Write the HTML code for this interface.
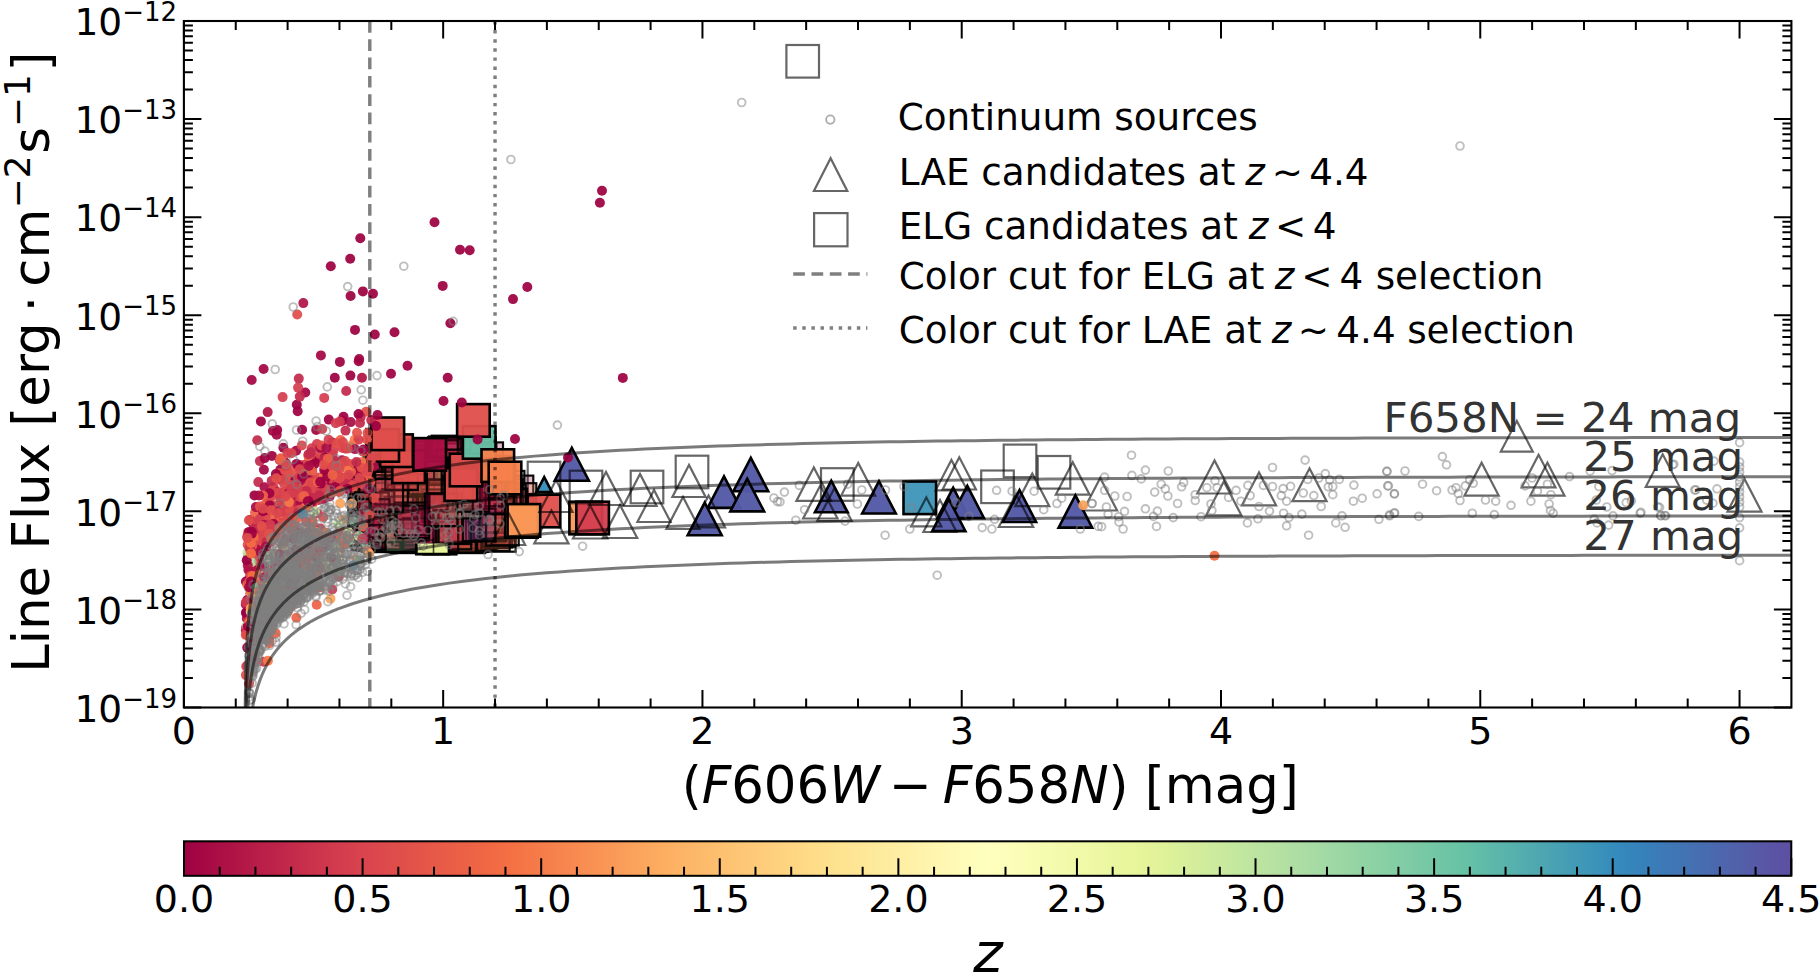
<!DOCTYPE html><html><head><meta charset="utf-8"><title>Line flux vs colour</title>
<style>html,body{margin:0;padding:0;background:#fff;width:1820px;height:974px;overflow:hidden}svg{display:block}</style></head><body>
<svg width="1820" height="974" viewBox="0 0 1820 974" font-family="'DejaVu Sans', 'Liberation Sans', sans-serif">
<defs><clipPath id="axclip"><rect x="183.90" y="21.00" width="1607.50" height="686.50"/></clipPath></defs>
<rect width="1820" height="974" fill="#fff"/>
<g clip-path="url(#axclip)">
<g stroke="#000" stroke-width="2.6" fill-opacity="0.95">
<rect x="416.2" y="521.2" width="32.6" height="32.6" fill="#f4faad"/>
<rect x="423.7" y="521.7" width="32.6" height="32.6" fill="#fdfebb"/>
</g>
<g stroke="#000" stroke-width="2.2" fill-opacity="0.26" stroke-opacity="0.95">
<rect x="423.7" y="484.1" width="32.6" height="32.6" fill="#cd364d"/>
<rect x="439.3" y="517.6" width="32.6" height="32.6" fill="#cd364d"/>
<rect x="432.1" y="474.3" width="32.6" height="32.6" fill="#a90d45"/>
<rect x="503.1" y="493.9" width="32.6" height="32.6" fill="#cd364d"/>
<rect x="401.4" y="504.3" width="32.6" height="32.6" fill="#f88950"/>
<rect x="381.1" y="474.4" width="32.6" height="32.6" fill="#a90d45"/>
<rect x="380.8" y="500.5" width="32.6" height="32.6" fill="#f88950"/>
<rect x="457.1" y="514.9" width="32.6" height="32.6" fill="#df4e4b"/>
<rect x="433.1" y="492.6" width="32.6" height="32.6" fill="#cd364d"/>
<rect x="460.9" y="517.0" width="32.6" height="32.6" fill="#f88950"/>
<rect x="442.5" y="460.3" width="32.6" height="32.6" fill="#9e0142"/>
<rect x="361.7" y="511.7" width="32.6" height="32.6" fill="#a90d45"/>
<rect x="482.8" y="507.8" width="32.6" height="32.6" fill="#df4e4b"/>
<rect x="393.7" y="459.6" width="32.6" height="32.6" fill="#cd364d"/>
<rect x="405.3" y="454.4" width="32.6" height="32.6" fill="#df4e4b"/>
<rect x="448.9" y="483.6" width="32.6" height="32.6" fill="#9e0142"/>
<rect x="405.7" y="511.6" width="32.6" height="32.6" fill="#ecf7a1"/>
<rect x="471.7" y="480.6" width="32.6" height="32.6" fill="#f88950"/>
<rect x="362.0" y="519.0" width="32.6" height="32.6" fill="#f46d43"/>
<rect x="406.7" y="472.2" width="32.6" height="32.6" fill="#a90d45"/>
<rect x="466.6" y="500.4" width="32.6" height="32.6" fill="#df4e4b"/>
<rect x="458.5" y="437.9" width="32.6" height="32.6" fill="#f46d43"/>
<rect x="359.5" y="468.8" width="32.6" height="32.6" fill="#a90d45"/>
<rect x="412.9" y="483.8" width="32.6" height="32.6" fill="#f88950"/>
<rect x="377.7" y="498.2" width="32.6" height="32.6" fill="#fdfebb"/>
<rect x="372.3" y="515.5" width="32.6" height="32.6" fill="#df4e4b"/>
<rect x="432.2" y="495.6" width="32.6" height="32.6" fill="#f46d43"/>
<rect x="452.8" y="503.5" width="32.6" height="32.6" fill="#f46d43"/>
<rect x="399.4" y="514.8" width="32.6" height="32.6" fill="#9e0142"/>
<rect x="381.3" y="493.2" width="32.6" height="32.6" fill="#a90d45"/>
<rect x="497.8" y="497.7" width="32.6" height="32.6" fill="#a90d45"/>
<rect x="448.1" y="493.6" width="32.6" height="32.6" fill="#df4e4b"/>
<rect x="373.4" y="500.9" width="32.6" height="32.6" fill="#df4e4b"/>
<rect x="477.0" y="506.4" width="32.6" height="32.6" fill="#cd364d"/>
<rect x="474.3" y="477.9" width="32.6" height="32.6" fill="#f88950"/>
<rect x="471.2" y="457.5" width="32.6" height="32.6" fill="#a90d45"/>
<rect x="363.7" y="512.1" width="32.6" height="32.6" fill="#cd364d"/>
<rect x="464.2" y="470.0" width="32.6" height="32.6" fill="#f88950"/>
<rect x="381.3" y="465.4" width="32.6" height="32.6" fill="#4ea7b0"/>
<rect x="407.2" y="463.0" width="32.6" height="32.6" fill="#a90d45"/>
<rect x="348.9" y="480.9" width="32.6" height="32.6" fill="#4ea7b0"/>
<rect x="401.3" y="490.2" width="32.6" height="32.6" fill="#a90d45"/>
<rect x="456.9" y="515.9" width="32.6" height="32.6" fill="#df4e4b"/>
<rect x="383.1" y="460.1" width="32.6" height="32.6" fill="#9e0142"/>
<rect x="430.7" y="450.9" width="32.6" height="32.6" fill="#a90d45"/>
<rect x="450.7" y="495.7" width="32.6" height="32.6" fill="#cd364d"/>
<rect x="420.4" y="456.0" width="32.6" height="32.6" fill="#9e0142"/>
<rect x="445.1" y="452.9" width="32.6" height="32.6" fill="#df4e4b"/>
<rect x="420.9" y="470.5" width="32.6" height="32.6" fill="#cd364d"/>
<rect x="410.1" y="458.8" width="32.6" height="32.6" fill="#df4e4b"/>
<rect x="380.8" y="467.4" width="32.6" height="32.6" fill="#df4e4b"/>
<rect x="481.0" y="495.0" width="32.6" height="32.6" fill="#f46d43"/>
<rect x="388.2" y="481.0" width="32.6" height="32.6" fill="#a90d45"/>
<rect x="414.1" y="471.2" width="32.6" height="32.6" fill="#fdfebb"/>
<rect x="477.7" y="471.1" width="32.6" height="32.6" fill="#9e0142"/>
<rect x="408.0" y="504.5" width="32.6" height="32.6" fill="#9e0142"/>
<rect x="363.0" y="480.1" width="32.6" height="32.6" fill="#a90d45"/>
<rect x="375.0" y="519.5" width="32.6" height="32.6" fill="#f46d43"/>
<rect x="397.1" y="505.0" width="32.6" height="32.6" fill="#df4e4b"/>
<rect x="380.2" y="498.8" width="32.6" height="32.6" fill="#f46d43"/>
<rect x="355.5" y="511.6" width="32.6" height="32.6" fill="#9e0142"/>
<rect x="466.8" y="482.5" width="32.6" height="32.6" fill="#df4e4b"/>
<rect x="478.6" y="490.5" width="32.6" height="32.6" fill="#f88950"/>
<rect x="390.9" y="457.4" width="32.6" height="32.6" fill="#f46d43"/>
<rect x="471.2" y="500.6" width="32.6" height="32.6" fill="#a90d45"/>
<rect x="483.3" y="502.0" width="32.6" height="32.6" fill="#9e0142"/>
<rect x="453.9" y="511.1" width="32.6" height="32.6" fill="#94d4a4"/>
<rect x="375.7" y="474.3" width="32.6" height="32.6" fill="#9e0142"/>
<rect x="438.2" y="520.3" width="32.6" height="32.6" fill="#f88950"/>
<rect x="381.3" y="474.2" width="32.6" height="32.6" fill="#9e0142"/>
<rect x="356.7" y="517.9" width="32.6" height="32.6" fill="#9e0142"/>
<rect x="458.8" y="477.2" width="32.6" height="32.6" fill="#a90d45"/>
<rect x="391.6" y="494.7" width="32.6" height="32.6" fill="#9e0142"/>
<rect x="405.3" y="476.0" width="32.6" height="32.6" fill="#cd364d"/>
<rect x="464.2" y="516.9" width="32.6" height="32.6" fill="#9e0142"/>
<rect x="471.0" y="509.0" width="32.6" height="32.6" fill="#df4e4b"/>
<rect x="467.0" y="486.2" width="32.6" height="32.6" fill="#a90d45"/>
<rect x="450.6" y="484.2" width="32.6" height="32.6" fill="#a90d45"/>
<rect x="456.7" y="456.9" width="32.6" height="32.6" fill="#4ea7b0"/>
<rect x="400.1" y="511.0" width="32.6" height="32.6" fill="#cd364d"/>
<rect x="404.8" y="460.9" width="32.6" height="32.6" fill="#9e0142"/>
<rect x="418.4" y="519.9" width="32.6" height="32.6" fill="#df4e4b"/>
<rect x="395.6" y="497.3" width="32.6" height="32.6" fill="#df4e4b"/>
<rect x="429.9" y="462.4" width="32.6" height="32.6" fill="#9e0142"/>
<rect x="447.7" y="472.5" width="32.6" height="32.6" fill="#9e0142"/>
<rect x="413.4" y="514.6" width="32.6" height="32.6" fill="#a90d45"/>
<rect x="362.7" y="518.8" width="32.6" height="32.6" fill="#fdfebb"/>
<rect x="435.9" y="458.1" width="32.6" height="32.6" fill="#df4e4b"/>
<rect x="351.5" y="517.7" width="32.6" height="32.6" fill="#cd364d"/>
<rect x="463.1" y="456.5" width="32.6" height="32.6" fill="#df4e4b"/>
<rect x="469.0" y="482.0" width="32.6" height="32.6" fill="#cd364d"/>
<rect x="500.7" y="475.6" width="32.6" height="32.6" fill="#9e0142"/>
<rect x="377.8" y="497.8" width="32.6" height="32.6" fill="#cd364d"/>
<rect x="360.7" y="482.6" width="32.6" height="32.6" fill="#9e0142"/>
<rect x="442.0" y="507.6" width="32.6" height="32.6" fill="#df4e4b"/>
<rect x="350.2" y="474.8" width="32.6" height="32.6" fill="#94d4a4"/>
<rect x="421.3" y="482.8" width="32.6" height="32.6" fill="#f46d43"/>
<rect x="416.7" y="461.5" width="32.6" height="32.6" fill="#cd364d"/>
<rect x="476.7" y="485.5" width="32.6" height="32.6" fill="#94d4a4"/>
<rect x="447.5" y="491.4" width="32.6" height="32.6" fill="#a90d45"/>
<rect x="434.1" y="476.8" width="32.6" height="32.6" fill="#f46d43"/>
<rect x="365.6" y="493.5" width="32.6" height="32.6" fill="#9e0142"/>
<rect x="417.9" y="517.1" width="32.6" height="32.6" fill="#fdfebb"/>
<rect x="382.6" y="517.7" width="32.6" height="32.6" fill="#df4e4b"/>
<rect x="467.5" y="498.5" width="32.6" height="32.6" fill="#cd364d"/>
<rect x="461.5" y="464.9" width="32.6" height="32.6" fill="#f88950"/>
<rect x="414.9" y="501.9" width="32.6" height="32.6" fill="#df4e4b"/>
<rect x="381.0" y="496.2" width="32.6" height="32.6" fill="#9e0142"/>
<rect x="353.2" y="484.7" width="32.6" height="32.6" fill="#9e0142"/>
<rect x="457.2" y="501.9" width="32.6" height="32.6" fill="#fdfebb"/>
<rect x="406.8" y="506.0" width="32.6" height="32.6" fill="#f88950"/>
<rect x="480.6" y="487.6" width="32.6" height="32.6" fill="#ecf7a1"/>
<rect x="478.7" y="465.6" width="32.6" height="32.6" fill="#df4e4b"/>
<rect x="424.2" y="464.4" width="32.6" height="32.6" fill="#9e0142"/>
<rect x="455.4" y="505.5" width="32.6" height="32.6" fill="#f46d43"/>
<rect x="388.2" y="509.7" width="32.6" height="32.6" fill="#3880b9"/>
<rect x="391.7" y="519.8" width="32.6" height="32.6" fill="#4ea7b0"/>
<rect x="367.9" y="489.6" width="32.6" height="32.6" fill="#df4e4b"/>
<rect x="374.3" y="457.0" width="32.6" height="32.6" fill="#a90d45"/>
<rect x="475.1" y="501.2" width="32.6" height="32.6" fill="#cd364d"/>
<rect x="392.2" y="517.7" width="32.6" height="32.6" fill="#a90d45"/>
<rect x="460.0" y="514.7" width="32.6" height="32.6" fill="#9e0142"/>
<rect x="442.3" y="484.6" width="32.6" height="32.6" fill="#f46d43"/>
<rect x="479.3" y="514.3" width="32.6" height="32.6" fill="#cd364d"/>
<rect x="480.4" y="492.3" width="32.6" height="32.6" fill="#74c7a5"/>
<rect x="390.0" y="467.9" width="32.6" height="32.6" fill="#cd364d"/>
<rect x="433.7" y="502.8" width="32.6" height="32.6" fill="#a90d45"/>
<rect x="430.4" y="499.0" width="32.6" height="32.6" fill="#cd364d"/>
<rect x="455.7" y="498.0" width="32.6" height="32.6" fill="#f46d43"/>
<rect x="398.6" y="494.3" width="32.6" height="32.6" fill="#f88950"/>
<rect x="359.1" y="494.0" width="32.6" height="32.6" fill="#a90d45"/>
<rect x="414.7" y="513.5" width="32.6" height="32.6" fill="#cd364d"/>
<rect x="404.6" y="439.5" width="32.6" height="32.6" fill="#9e0142"/>
<rect x="396.4" y="462.7" width="32.6" height="32.6" fill="#f88950"/>
<rect x="449.9" y="469.6" width="32.6" height="32.6" fill="#a90d45"/>
<rect x="469.0" y="477.4" width="32.6" height="32.6" fill="#f88950"/>
<rect x="397.2" y="472.1" width="32.6" height="32.6" fill="#f88950"/>
<rect x="437.6" y="451.7" width="32.6" height="32.6" fill="#9e0142"/>
<rect x="403.0" y="456.0" width="32.6" height="32.6" fill="#f46d43"/>
<rect x="430.0" y="496.2" width="32.6" height="32.6" fill="#cd364d"/>
<rect x="457.3" y="477.2" width="32.6" height="32.6" fill="#9e0142"/>
<rect x="468.1" y="459.7" width="32.6" height="32.6" fill="#df4e4b"/>
<rect x="451.5" y="508.7" width="32.6" height="32.6" fill="#cd364d"/>
<rect x="359.6" y="486.8" width="32.6" height="32.6" fill="#f46d43"/>
<rect x="374.9" y="456.7" width="32.6" height="32.6" fill="#4ea7b0"/>
<rect x="419.5" y="513.7" width="32.6" height="32.6" fill="#9e0142"/>
<rect x="409.8" y="485.5" width="32.6" height="32.6" fill="#4ea7b0"/>
<rect x="427.1" y="506.8" width="32.6" height="32.6" fill="#f46d43"/>
<rect x="386.0" y="492.0" width="32.6" height="32.6" fill="#df4e4b"/>
<rect x="363.3" y="512.7" width="32.6" height="32.6" fill="#3880b9"/>
<rect x="369.7" y="465.5" width="32.6" height="32.6" fill="#fdfebb"/>
<rect x="377.6" y="492.8" width="32.6" height="32.6" fill="#cd364d"/>
<rect x="418.0" y="491.4" width="32.6" height="32.6" fill="#f46d43"/>
<rect x="407.2" y="487.8" width="32.6" height="32.6" fill="#ecf7a1"/>
<rect x="483.2" y="482.6" width="32.6" height="32.6" fill="#f88950"/>
<rect x="370.0" y="481.3" width="32.6" height="32.6" fill="#cd364d"/>
<rect x="426.9" y="460.1" width="32.6" height="32.6" fill="#9e0142"/>
<rect x="387.7" y="511.6" width="32.6" height="32.6" fill="#df4e4b"/>
<rect x="386.1" y="469.1" width="32.6" height="32.6" fill="#fdfebb"/>
<rect x="416.5" y="460.4" width="32.6" height="32.6" fill="#f46d43"/>
<rect x="377.9" y="454.3" width="32.6" height="32.6" fill="#cd364d"/>
<rect x="402.6" y="516.0" width="32.6" height="32.6" fill="#f88950"/>
<rect x="422.3" y="519.7" width="32.6" height="32.6" fill="#9e0142"/>
<rect x="397.0" y="510.3" width="32.6" height="32.6" fill="#9e0142"/>
<rect x="444.5" y="468.2" width="32.6" height="32.6" fill="#cd364d"/>
<rect x="418.8" y="508.9" width="32.6" height="32.6" fill="#f88950"/>
<rect x="358.9" y="462.3" width="32.6" height="32.6" fill="#9e0142"/>
<rect x="445.2" y="468.9" width="32.6" height="32.6" fill="#9e0142"/>
<rect x="373.2" y="471.1" width="32.6" height="32.6" fill="#f46d43"/>
<rect x="394.8" y="462.9" width="32.6" height="32.6" fill="#a90d45"/>
<rect x="405.7" y="501.5" width="32.6" height="32.6" fill="#a90d45"/>
<rect x="348.5" y="485.6" width="32.6" height="32.6" fill="#cd364d"/>
<rect x="430.4" y="462.7" width="32.6" height="32.6" fill="#ecf7a1"/>
<rect x="489.4" y="483.7" width="32.6" height="32.6" fill="#a90d45"/>
<rect x="366.6" y="458.7" width="32.6" height="32.6" fill="#a90d45"/>
<rect x="458.6" y="500.4" width="32.6" height="32.6" fill="#f46d43"/>
<rect x="390.9" y="489.8" width="32.6" height="32.6" fill="#94d4a4"/>
<rect x="478.6" y="486.9" width="32.6" height="32.6" fill="#cd364d"/>
<rect x="395.3" y="497.2" width="32.6" height="32.6" fill="#f88950"/>
<rect x="384.4" y="482.9" width="32.6" height="32.6" fill="#9e0142"/>
<rect x="432.3" y="473.3" width="32.6" height="32.6" fill="#4ea7b0"/>
<rect x="419.6" y="485.7" width="32.6" height="32.6" fill="#9e0142"/>
<rect x="369.3" y="481.4" width="32.6" height="32.6" fill="#f88950"/>
<rect x="439.9" y="493.3" width="32.6" height="32.6" fill="#f46d43"/>
<rect x="477.7" y="488.8" width="32.6" height="32.6" fill="#fdfebb"/>
<rect x="435.7" y="462.4" width="32.6" height="32.6" fill="#cd364d"/>
<rect x="463.8" y="444.2" width="32.6" height="32.6" fill="#9e0142"/>
<rect x="384.8" y="500.0" width="32.6" height="32.6" fill="#df4e4b"/>
<rect x="377.3" y="491.3" width="32.6" height="32.6" fill="#cd364d"/>
<rect x="491.8" y="470.9" width="32.6" height="32.6" fill="#74c7a5"/>
<rect x="442.3" y="488.2" width="32.6" height="32.6" fill="#f46d43"/>
<rect x="427.4" y="490.4" width="32.6" height="32.6" fill="#df4e4b"/>
<rect x="417.0" y="497.9" width="32.6" height="32.6" fill="#9e0142"/>
<rect x="389.7" y="499.7" width="32.6" height="32.6" fill="#f46d43"/>
<rect x="377.5" y="458.5" width="32.6" height="32.6" fill="#cd364d"/>
<rect x="431.9" y="438.0" width="32.6" height="32.6" fill="#555aa7"/>
<rect x="365.5" y="484.6" width="32.6" height="32.6" fill="#3880b9"/>
<rect x="452.2" y="455.9" width="32.6" height="32.6" fill="#df4e4b"/>
<rect x="503.7" y="483.2" width="32.6" height="32.6" fill="#f88950"/>
<rect x="349.3" y="477.1" width="32.6" height="32.6" fill="#a90d45"/>
<rect x="483.0" y="519.1" width="32.6" height="32.6" fill="#ecf7a1"/>
<rect x="419.1" y="495.5" width="32.6" height="32.6" fill="#a90d45"/>
<rect x="447.7" y="466.4" width="32.6" height="32.6" fill="#cd364d"/>
<rect x="445.2" y="465.0" width="32.6" height="32.6" fill="#cd364d"/>
<rect x="389.3" y="481.5" width="32.6" height="32.6" fill="#9e0142"/>
<rect x="430.7" y="443.4" width="32.6" height="32.6" fill="#df4e4b"/>
<rect x="356.9" y="460.7" width="32.6" height="32.6" fill="#3880b9"/>
<rect x="439.3" y="491.3" width="32.6" height="32.6" fill="#cd364d"/>
<rect x="380.4" y="489.6" width="32.6" height="32.6" fill="#fdfebb"/>
<rect x="370.1" y="498.3" width="32.6" height="32.6" fill="#ecf7a1"/>
<rect x="362.7" y="476.8" width="32.6" height="32.6" fill="#f88950"/>
<rect x="417.1" y="506.0" width="32.6" height="32.6" fill="#94d4a4"/>
<rect x="362.3" y="511.7" width="32.6" height="32.6" fill="#4ea7b0"/>
<rect x="441.1" y="513.5" width="32.6" height="32.6" fill="#f46d43"/>
<rect x="401.9" y="469.0" width="32.6" height="32.6" fill="#ecf7a1"/>
<rect x="401.5" y="499.7" width="32.6" height="32.6" fill="#df4e4b"/>
<rect x="477.0" y="491.6" width="32.6" height="32.6" fill="#cd364d"/>
<rect x="465.1" y="469.2" width="32.6" height="32.6" fill="#555aa7"/>
<rect x="445.9" y="497.6" width="32.6" height="32.6" fill="#cd364d"/>
<rect x="383.7" y="484.6" width="32.6" height="32.6" fill="#a90d45"/>
<rect x="383.4" y="517.0" width="32.6" height="32.6" fill="#a90d45"/>
<rect x="432.6" y="461.0" width="32.6" height="32.6" fill="#9e0142"/>
<rect x="358.4" y="473.1" width="32.6" height="32.6" fill="#f88950"/>
<rect x="450.9" y="475.2" width="32.6" height="32.6" fill="#a90d45"/>
<rect x="354.2" y="483.5" width="32.6" height="32.6" fill="#f46d43"/>
<rect x="351.6" y="473.7" width="32.6" height="32.6" fill="#a90d45"/>
<rect x="464.4" y="498.2" width="32.6" height="32.6" fill="#cd364d"/>
<rect x="371.2" y="465.2" width="32.6" height="32.6" fill="#df4e4b"/>
<rect x="367.2" y="508.2" width="32.6" height="32.6" fill="#9e0142"/>
<rect x="369.5" y="459.1" width="32.6" height="32.6" fill="#cd364d"/>
<rect x="381.1" y="512.4" width="32.6" height="32.6" fill="#9e0142"/>
<rect x="363.2" y="518.4" width="32.6" height="32.6" fill="#9e0142"/>
<rect x="412.3" y="493.5" width="32.6" height="32.6" fill="#df4e4b"/>
<rect x="474.6" y="473.0" width="32.6" height="32.6" fill="#a90d45"/>
<rect x="439.6" y="465.8" width="32.6" height="32.6" fill="#fdfebb"/>
<rect x="472.1" y="510.4" width="32.6" height="32.6" fill="#f46d43"/>
<rect x="447.0" y="467.6" width="32.6" height="32.6" fill="#a90d45"/>
<rect x="410.9" y="471.0" width="32.6" height="32.6" fill="#f46d43"/>
<rect x="457.3" y="488.6" width="32.6" height="32.6" fill="#cd364d"/>
<rect x="447.1" y="475.8" width="32.6" height="32.6" fill="#a90d45"/>
<rect x="457.9" y="482.8" width="32.6" height="32.6" fill="#cd364d"/>
<rect x="380.0" y="459.5" width="32.6" height="32.6" fill="#4ea7b0"/>
<rect x="357.4" y="467.5" width="32.6" height="32.6" fill="#4ea7b0"/>
<rect x="423.9" y="476.8" width="32.6" height="32.6" fill="#fdfebb"/>
<rect x="396.1" y="493.8" width="32.6" height="32.6" fill="#df4e4b"/>
<rect x="399.6" y="452.2" width="32.6" height="32.6" fill="#f46d43"/>
<rect x="417.2" y="479.5" width="32.6" height="32.6" fill="#3880b9"/>
<rect x="373.7" y="517.3" width="32.6" height="32.6" fill="#f46d43"/>
<rect x="389.6" y="492.4" width="32.6" height="32.6" fill="#a90d45"/>
<rect x="444.7" y="506.9" width="32.6" height="32.6" fill="#f46d43"/>
<rect x="363.4" y="473.6" width="32.6" height="32.6" fill="#f46d43"/>
<rect x="474.6" y="511.6" width="32.6" height="32.6" fill="#a90d45"/>
<rect x="454.1" y="470.1" width="32.6" height="32.6" fill="#df4e4b"/>
<rect x="430.0" y="500.9" width="32.6" height="32.6" fill="#9e0142"/>
<rect x="382.4" y="470.6" width="32.6" height="32.6" fill="#f46d43"/>
<rect x="388.2" y="504.7" width="32.6" height="32.6" fill="#a90d45"/>
<rect x="360.8" y="498.0" width="32.6" height="32.6" fill="#df4e4b"/>
<rect x="482.2" y="505.4" width="32.6" height="32.6" fill="#9e0142"/>
<rect x="426.0" y="491.1" width="32.6" height="32.6" fill="#9e0142"/>
<rect x="375.8" y="469.1" width="32.6" height="32.6" fill="#f46d43"/>
<rect x="454.0" y="493.8" width="32.6" height="32.6" fill="#9e0142"/>
<rect x="350.5" y="507.7" width="32.6" height="32.6" fill="#f88950"/>
<rect x="425.9" y="464.5" width="32.6" height="32.6" fill="#9e0142"/>
<rect x="375.6" y="479.5" width="32.6" height="32.6" fill="#f46d43"/>
<rect x="470.5" y="511.3" width="32.6" height="32.6" fill="#ecf7a1"/>
<rect x="368.2" y="474.0" width="32.6" height="32.6" fill="#a90d45"/>
<rect x="480.1" y="464.0" width="32.6" height="32.6" fill="#f46d43"/>
<rect x="354.1" y="472.5" width="32.6" height="32.6" fill="#f88950"/>
<rect x="465.4" y="475.2" width="32.6" height="32.6" fill="#94d4a4"/>
<rect x="478.8" y="493.1" width="32.6" height="32.6" fill="#a90d45"/>
<rect x="429.4" y="478.0" width="32.6" height="32.6" fill="#9e0142"/>
<rect x="425.2" y="519.1" width="32.6" height="32.6" fill="#fdfebb"/>
<rect x="458.4" y="501.3" width="32.6" height="32.6" fill="#df4e4b"/>
<rect x="438.5" y="484.6" width="32.6" height="32.6" fill="#ecf7a1"/>
<rect x="426.3" y="489.8" width="32.6" height="32.6" fill="#9e0142"/>
<rect x="493.1" y="484.3" width="32.6" height="32.6" fill="#74c7a5"/>
<rect x="476.3" y="515.5" width="32.6" height="32.6" fill="#a90d45"/>
<rect x="450.0" y="483.6" width="32.6" height="32.6" fill="#9e0142"/>
<rect x="473.9" y="459.9" width="32.6" height="32.6" fill="#a90d45"/>
<rect x="374.3" y="506.2" width="32.6" height="32.6" fill="#f88950"/>
<rect x="457.1" y="499.8" width="32.6" height="32.6" fill="#cd364d"/>
<rect x="397.1" y="447.8" width="32.6" height="32.6" fill="#cd364d"/>
<rect x="352.2" y="467.2" width="32.6" height="32.6" fill="#cd364d"/>
<rect x="447.2" y="496.1" width="32.6" height="32.6" fill="#f88950"/>
<rect x="352.8" y="496.1" width="32.6" height="32.6" fill="#fdfebb"/>
<rect x="427.2" y="496.6" width="32.6" height="32.6" fill="#555aa7"/>
<rect x="454.4" y="513.1" width="32.6" height="32.6" fill="#a90d45"/>
<rect x="460.6" y="501.8" width="32.6" height="32.6" fill="#df4e4b"/>
<rect x="472.8" y="476.8" width="32.6" height="32.6" fill="#9e0142"/>
<rect x="357.4" y="517.1" width="32.6" height="32.6" fill="#f46d43"/>
<rect x="470.7" y="486.1" width="32.6" height="32.6" fill="#9e0142"/>
<rect x="438.3" y="472.3" width="32.6" height="32.6" fill="#9e0142"/>
<rect x="395.6" y="498.0" width="32.6" height="32.6" fill="#4ea7b0"/>
<rect x="419.3" y="460.5" width="32.6" height="32.6" fill="#a90d45"/>
<rect x="448.9" y="459.4" width="32.6" height="32.6" fill="#9e0142"/>
<rect x="433.8" y="475.0" width="32.6" height="32.6" fill="#f46d43"/>
<rect x="438.1" y="507.3" width="32.6" height="32.6" fill="#f46d43"/>
<rect x="438.1" y="501.1" width="32.6" height="32.6" fill="#cd364d"/>
<rect x="456.5" y="511.1" width="32.6" height="32.6" fill="#f46d43"/>
<rect x="396.9" y="466.3" width="32.6" height="32.6" fill="#a90d45"/>
<rect x="382.6" y="463.6" width="32.6" height="32.6" fill="#fdfebb"/>
<rect x="477.8" y="479.6" width="32.6" height="32.6" fill="#cd364d"/>
<rect x="400.0" y="494.2" width="32.6" height="32.6" fill="#9e0142"/>
<rect x="465.6" y="515.6" width="32.6" height="32.6" fill="#fdfebb"/>
<rect x="478.3" y="486.8" width="32.6" height="32.6" fill="#f46d43"/>
<rect x="361.1" y="477.7" width="32.6" height="32.6" fill="#fdfebb"/>
<rect x="371.0" y="460.6" width="32.6" height="32.6" fill="#f88950"/>
<rect x="432.6" y="458.9" width="32.6" height="32.6" fill="#fdfebb"/>
<rect x="364.9" y="517.0" width="32.6" height="32.6" fill="#f46d43"/>
<rect x="393.2" y="478.4" width="32.6" height="32.6" fill="#9e0142"/>
<rect x="424.5" y="510.8" width="32.6" height="32.6" fill="#94d4a4"/>
<rect x="350.8" y="462.7" width="32.6" height="32.6" fill="#cd364d"/>
<rect x="354.2" y="495.8" width="32.6" height="32.6" fill="#f88950"/>
<rect x="477.8" y="455.9" width="32.6" height="32.6" fill="#a90d45"/>
<rect x="445.6" y="505.2" width="32.6" height="32.6" fill="#f46d43"/>
<rect x="392.5" y="495.4" width="32.6" height="32.6" fill="#cd364d"/>
<rect x="404.4" y="488.1" width="32.6" height="32.6" fill="#9e0142"/>
<rect x="471.9" y="467.1" width="32.6" height="32.6" fill="#a90d45"/>
<rect x="395.5" y="490.4" width="32.6" height="32.6" fill="#fdfebb"/>
<rect x="358.6" y="471.2" width="32.6" height="32.6" fill="#df4e4b"/>
<rect x="351.3" y="481.6" width="32.6" height="32.6" fill="#555aa7"/>
<rect x="440.6" y="471.6" width="32.6" height="32.6" fill="#94d4a4"/>
<rect x="375.2" y="468.1" width="32.6" height="32.6" fill="#df4e4b"/>
<rect x="437.9" y="502.2" width="32.6" height="32.6" fill="#f46d43"/>
<rect x="410.7" y="457.1" width="32.6" height="32.6" fill="#9e0142"/>
<rect x="377.4" y="455.9" width="32.6" height="32.6" fill="#9e0142"/>
<rect x="370.4" y="511.1" width="32.6" height="32.6" fill="#df4e4b"/>
<rect x="389.4" y="481.0" width="32.6" height="32.6" fill="#9e0142"/>
<rect x="459.5" y="492.1" width="32.6" height="32.6" fill="#df4e4b"/>
<rect x="382.9" y="500.9" width="32.6" height="32.6" fill="#df4e4b"/>
<rect x="470.5" y="463.3" width="32.6" height="32.6" fill="#9e0142"/>
<rect x="350.0" y="464.9" width="32.6" height="32.6" fill="#9e0142"/>
<rect x="476.8" y="494.1" width="32.6" height="32.6" fill="#a90d45"/>
<rect x="423.8" y="456.2" width="32.6" height="32.6" fill="#df4e4b"/>
<rect x="395.0" y="503.3" width="32.6" height="32.6" fill="#9e0142"/>
<rect x="440.4" y="498.7" width="32.6" height="32.6" fill="#9e0142"/>
<rect x="413.3" y="462.9" width="32.6" height="32.6" fill="#9e0142"/>
<rect x="397.4" y="506.6" width="32.6" height="32.6" fill="#df4e4b"/>
<rect x="374.1" y="515.1" width="32.6" height="32.6" fill="#a90d45"/>
<rect x="417.9" y="465.9" width="32.6" height="32.6" fill="#df4e4b"/>
<rect x="430.4" y="491.0" width="32.6" height="32.6" fill="#f88950"/>
<rect x="421.3" y="502.1" width="32.6" height="32.6" fill="#f88950"/>
<rect x="494.5" y="488.6" width="32.6" height="32.6" fill="#a90d45"/>
<rect x="483.5" y="481.7" width="32.6" height="32.6" fill="#df4e4b"/>
<rect x="384.4" y="461.4" width="32.6" height="32.6" fill="#9e0142"/>
<rect x="449.5" y="488.1" width="32.6" height="32.6" fill="#cd364d"/>
<rect x="489.1" y="483.8" width="32.6" height="32.6" fill="#cd364d"/>
<rect x="440.2" y="479.1" width="32.6" height="32.6" fill="#cd364d"/>
<rect x="478.7" y="512.4" width="32.6" height="32.6" fill="#a90d45"/>
<rect x="373.7" y="491.1" width="32.6" height="32.6" fill="#f46d43"/>
<rect x="373.5" y="506.4" width="32.6" height="32.6" fill="#a90d45"/>
<rect x="454.2" y="485.6" width="32.6" height="32.6" fill="#df4e4b"/>
<rect x="449.9" y="458.3" width="32.6" height="32.6" fill="#a90d45"/>
<rect x="490.2" y="478.8" width="32.6" height="32.6" fill="#df4e4b"/>
<rect x="419.5" y="481.2" width="32.6" height="32.6" fill="#9e0142"/>
<rect x="384.3" y="478.0" width="32.6" height="32.6" fill="#f88950"/>
<rect x="433.7" y="449.6" width="32.6" height="32.6" fill="#9e0142"/>
<rect x="444.9" y="491.5" width="32.6" height="32.6" fill="#4ea7b0"/>
<rect x="375.5" y="464.1" width="32.6" height="32.6" fill="#cd364d"/>
<rect x="370.6" y="465.2" width="32.6" height="32.6" fill="#555aa7"/>
<rect x="358.0" y="499.6" width="32.6" height="32.6" fill="#df4e4b"/>
<rect x="380.2" y="494.0" width="32.6" height="32.6" fill="#9e0142"/>
<rect x="378.8" y="442.4" width="32.6" height="32.6" fill="#f46d43"/>
<rect x="358.4" y="478.9" width="32.6" height="32.6" fill="#df4e4b"/>
<rect x="381.9" y="517.2" width="32.6" height="32.6" fill="#9e0142"/>
<rect x="398.8" y="512.3" width="32.6" height="32.6" fill="#f88950"/>
<rect x="478.4" y="481.7" width="32.6" height="32.6" fill="#9e0142"/>
<rect x="448.7" y="459.4" width="32.6" height="32.6" fill="#f88950"/>
<rect x="439.6" y="502.7" width="32.6" height="32.6" fill="#cd364d"/>
<rect x="395.1" y="482.1" width="32.6" height="32.6" fill="#ecf7a1"/>
<rect x="416.6" y="468.3" width="32.6" height="32.6" fill="#cd364d"/>
<rect x="356.5" y="460.9" width="32.6" height="32.6" fill="#ecf7a1"/>
<rect x="436.6" y="485.9" width="32.6" height="32.6" fill="#9e0142"/>
<rect x="435.7" y="506.3" width="32.6" height="32.6" fill="#a90d45"/>
<rect x="458.1" y="470.8" width="32.6" height="32.6" fill="#f46d43"/>
<rect x="357.4" y="476.5" width="32.6" height="32.6" fill="#94d4a4"/>
<rect x="420.0" y="484.7" width="32.6" height="32.6" fill="#94d4a4"/>
<rect x="392.6" y="476.9" width="32.6" height="32.6" fill="#9e0142"/>
<rect x="482.2" y="480.3" width="32.6" height="32.6" fill="#94d4a4"/>
<rect x="407.1" y="492.8" width="32.6" height="32.6" fill="#cd364d"/>
<rect x="453.2" y="485.7" width="32.6" height="32.6" fill="#9e0142"/>
<rect x="434.3" y="463.5" width="32.6" height="32.6" fill="#a90d45"/>
<rect x="393.3" y="445.0" width="32.6" height="32.6" fill="#74c7a5"/>
<rect x="459.7" y="488.0" width="32.6" height="32.6" fill="#3880b9"/>
<rect x="461.3" y="436.9" width="32.6" height="32.6" fill="#439bb5"/>
<rect x="415.9" y="510.2" width="32.6" height="32.6" fill="#fdfebb"/>
<rect x="379.2" y="439.6" width="32.6" height="32.6" fill="#9e0142"/>
<rect x="473.5" y="462.0" width="32.6" height="32.6" fill="#a90d45"/>
<rect x="414.4" y="473.2" width="32.6" height="32.6" fill="#f88950"/>
<rect x="393.3" y="514.4" width="32.6" height="32.6" fill="#4ea7b0"/>
<rect x="390.8" y="520.5" width="32.6" height="32.6" fill="#f46d43"/>
<rect x="445.4" y="466.8" width="32.6" height="32.6" fill="#f88950"/>
<rect x="366.6" y="470.6" width="32.6" height="32.6" fill="#9e0142"/>
<rect x="350.1" y="477.7" width="32.6" height="32.6" fill="#f88950"/>
<rect x="398.0" y="447.8" width="32.6" height="32.6" fill="#f88950"/>
<rect x="471.2" y="493.7" width="32.6" height="32.6" fill="#ecf7a1"/>
<rect x="378.7" y="506.8" width="32.6" height="32.6" fill="#9e0142"/>
<rect x="372.1" y="518.6" width="32.6" height="32.6" fill="#4ea7b0"/>
<rect x="436.9" y="496.6" width="32.6" height="32.6" fill="#f88950"/>
<rect x="368.9" y="481.5" width="32.6" height="32.6" fill="#f46d43"/>
<rect x="467.2" y="460.1" width="32.6" height="32.6" fill="#555aa7"/>
<rect x="368.5" y="471.7" width="32.6" height="32.6" fill="#cd364d"/>
<rect x="446.9" y="470.4" width="32.6" height="32.6" fill="#f46d43"/>
<rect x="436.0" y="478.8" width="32.6" height="32.6" fill="#9e0142"/>
<rect x="407.7" y="502.7" width="32.6" height="32.6" fill="#9e0142"/>
<rect x="388.6" y="472.0" width="32.6" height="32.6" fill="#a90d45"/>
<rect x="371.5" y="466.8" width="32.6" height="32.6" fill="#a90d45"/>
<rect x="370.6" y="513.4" width="32.6" height="32.6" fill="#9e0142"/>
<rect x="403.3" y="456.5" width="32.6" height="32.6" fill="#f46d43"/>
<rect x="427.4" y="464.7" width="32.6" height="32.6" fill="#555aa7"/>
<rect x="445.9" y="519.9" width="32.6" height="32.6" fill="#df4e4b"/>
<rect x="459.3" y="496.8" width="32.6" height="32.6" fill="#cd364d"/>
<rect x="410.5" y="462.1" width="32.6" height="32.6" fill="#cd364d"/>
<rect x="469.8" y="461.4" width="32.6" height="32.6" fill="#ecf7a1"/>
<rect x="434.8" y="512.6" width="32.6" height="32.6" fill="#f46d43"/>
<rect x="373.7" y="470.9" width="32.6" height="32.6" fill="#9e0142"/>
<rect x="443.0" y="483.7" width="32.6" height="32.6" fill="#9e0142"/>
<rect x="468.9" y="498.0" width="32.6" height="32.6" fill="#a90d45"/>
<rect x="432.0" y="511.1" width="32.6" height="32.6" fill="#9e0142"/>
<rect x="362.5" y="504.8" width="32.6" height="32.6" fill="#ecf7a1"/>
<rect x="378.2" y="488.8" width="32.6" height="32.6" fill="#cd364d"/>
<rect x="465.5" y="503.1" width="32.6" height="32.6" fill="#9e0142"/>
<rect x="392.4" y="518.3" width="32.6" height="32.6" fill="#a90d45"/>
<rect x="455.7" y="480.7" width="32.6" height="32.6" fill="#9e0142"/>
<rect x="470.0" y="466.5" width="32.6" height="32.6" fill="#4ea7b0"/>
<rect x="377.6" y="473.7" width="32.6" height="32.6" fill="#df4e4b"/>
<rect x="380.1" y="456.2" width="32.6" height="32.6" fill="#cd364d"/>
<rect x="393.1" y="502.3" width="32.6" height="32.6" fill="#df4e4b"/>
<rect x="450.7" y="514.6" width="32.6" height="32.6" fill="#9e0142"/>
<rect x="360.3" y="512.7" width="32.6" height="32.6" fill="#f88950"/>
<rect x="357.2" y="510.6" width="32.6" height="32.6" fill="#a90d45"/>
<rect x="467.1" y="492.6" width="32.6" height="32.6" fill="#f88950"/>
<rect x="413.3" y="509.2" width="32.6" height="32.6" fill="#9e0142"/>
<rect x="479.8" y="515.0" width="32.6" height="32.6" fill="#9e0142"/>
<rect x="384.7" y="510.7" width="32.6" height="32.6" fill="#fdfebb"/>
<rect x="460.6" y="484.0" width="32.6" height="32.6" fill="#cd364d"/>
<rect x="392.8" y="476.0" width="32.6" height="32.6" fill="#9e0142"/>
<rect x="372.1" y="492.1" width="32.6" height="32.6" fill="#f46d43"/>
<rect x="355.1" y="470.9" width="32.6" height="32.6" fill="#94d4a4"/>
<rect x="424.7" y="494.6" width="32.6" height="32.6" fill="#df4e4b"/>
<rect x="407.0" y="486.4" width="32.6" height="32.6" fill="#df4e4b"/>
<rect x="366.0" y="498.4" width="32.6" height="32.6" fill="#f88950"/>
<rect x="382.5" y="449.2" width="32.6" height="32.6" fill="#a90d45"/>
<rect x="477.5" y="496.4" width="32.6" height="32.6" fill="#f46d43"/>
<rect x="455.0" y="519.4" width="32.6" height="32.6" fill="#f88950"/>
<rect x="415.6" y="500.5" width="32.6" height="32.6" fill="#4ea7b0"/>
<rect x="432.7" y="516.4" width="32.6" height="32.6" fill="#555aa7"/>
<rect x="351.3" y="499.6" width="32.6" height="32.6" fill="#cd364d"/>
<rect x="446.7" y="440.7" width="32.6" height="32.6" fill="#9e0142"/>
<rect x="371.1" y="462.9" width="32.6" height="32.6" fill="#df4e4b"/>
<rect x="393.8" y="441.6" width="32.6" height="32.6" fill="#f88950"/>
<rect x="391.1" y="507.5" width="32.6" height="32.6" fill="#cd364d"/>
<rect x="471.7" y="470.8" width="32.6" height="32.6" fill="#cd364d"/>
<rect x="359.1" y="463.2" width="32.6" height="32.6" fill="#f46d43"/>
<rect x="413.3" y="438.8" width="32.6" height="32.6" fill="#f88950"/>
<rect x="430.2" y="461.4" width="32.6" height="32.6" fill="#cd364d"/>
<rect x="404.5" y="506.3" width="32.6" height="32.6" fill="#9e0142"/>
<rect x="394.6" y="470.8" width="32.6" height="32.6" fill="#4ea7b0"/>
<rect x="447.8" y="476.0" width="32.6" height="32.6" fill="#ecf7a1"/>
<rect x="429.7" y="438.7" width="32.6" height="32.6" fill="#df4e4b"/>
<rect x="382.9" y="466.1" width="32.6" height="32.6" fill="#9e0142"/>
<rect x="429.0" y="436.5" width="32.6" height="32.6" fill="#a90d45"/>
<rect x="401.6" y="465.4" width="32.6" height="32.6" fill="#3880b9"/>
<rect x="385.8" y="457.4" width="32.6" height="32.6" fill="#a90d45"/>
<rect x="410.3" y="463.5" width="32.6" height="32.6" fill="#9e0142"/>
<rect x="468.7" y="478.1" width="32.6" height="32.6" fill="#4ea7b0"/>
<rect x="412.8" y="489.5" width="32.6" height="32.6" fill="#cd364d"/>
<rect x="359.2" y="496.0" width="32.6" height="32.6" fill="#f88950"/>
<rect x="378.6" y="443.3" width="32.6" height="32.6" fill="#a90d45"/>
<rect x="476.8" y="513.3" width="32.6" height="32.6" fill="#df4e4b"/>
<rect x="393.7" y="477.1" width="32.6" height="32.6" fill="#cd364d"/>
<rect x="391.8" y="510.0" width="32.6" height="32.6" fill="#4ea7b0"/>
<rect x="366.1" y="495.5" width="32.6" height="32.6" fill="#a90d45"/>
<rect x="483.6" y="488.0" width="32.6" height="32.6" fill="#9e0142"/>
<rect x="468.9" y="495.6" width="32.6" height="32.6" fill="#fdfebb"/>
<rect x="407.8" y="491.5" width="32.6" height="32.6" fill="#df4e4b"/>
<rect x="454.3" y="496.9" width="32.6" height="32.6" fill="#9e0142"/>
<rect x="378.6" y="514.6" width="32.6" height="32.6" fill="#ecf7a1"/>
<rect x="353.2" y="494.1" width="32.6" height="32.6" fill="#a90d45"/>
<rect x="400.0" y="514.8" width="32.6" height="32.6" fill="#cd364d"/>
<rect x="404.6" y="487.6" width="32.6" height="32.6" fill="#a90d45"/>
<rect x="445.0" y="517.3" width="32.6" height="32.6" fill="#a90d45"/>
<rect x="478.4" y="462.3" width="32.6" height="32.6" fill="#a90d45"/>
<rect x="468.9" y="456.1" width="32.6" height="32.6" fill="#fdfebb"/>
<rect x="395.3" y="494.4" width="32.6" height="32.6" fill="#fdfebb"/>
<rect x="436.0" y="495.2" width="32.6" height="32.6" fill="#df4e4b"/>
<rect x="480.6" y="475.6" width="32.6" height="32.6" fill="#cd364d"/>
<rect x="402.4" y="468.6" width="32.6" height="32.6" fill="#9e0142"/>
<rect x="377.1" y="497.8" width="32.6" height="32.6" fill="#94d4a4"/>
<rect x="469.4" y="484.3" width="32.6" height="32.6" fill="#9e0142"/>
<rect x="375.3" y="443.8" width="32.6" height="32.6" fill="#df4e4b"/>
<rect x="466.6" y="459.0" width="32.6" height="32.6" fill="#a90d45"/>
<rect x="429.6" y="497.4" width="32.6" height="32.6" fill="#a90d45"/>
<rect x="356.9" y="482.6" width="32.6" height="32.6" fill="#f88950"/>
<rect x="404.2" y="468.9" width="32.6" height="32.6" fill="#fdfebb"/>
<rect x="451.4" y="475.7" width="32.6" height="32.6" fill="#f88950"/>
<rect x="412.0" y="464.3" width="32.6" height="32.6" fill="#9e0142"/>
<rect x="384.4" y="469.4" width="32.6" height="32.6" fill="#fdfebb"/>
<rect x="453.9" y="495.4" width="32.6" height="32.6" fill="#94d4a4"/>
<rect x="348.3" y="513.1" width="32.6" height="32.6" fill="#fdfebb"/>
<rect x="366.8" y="472.5" width="32.6" height="32.6" fill="#df4e4b"/>
<rect x="449.3" y="507.9" width="32.6" height="32.6" fill="#a90d45"/>
<rect x="392.8" y="519.8" width="32.6" height="32.6" fill="#cd364d"/>
<rect x="382.5" y="516.7" width="32.6" height="32.6" fill="#f88950"/>
<rect x="362.3" y="464.4" width="32.6" height="32.6" fill="#9e0142"/>
<rect x="394.1" y="483.5" width="32.6" height="32.6" fill="#fdfebb"/>
<rect x="455.3" y="513.7" width="32.6" height="32.6" fill="#fdfebb"/>
<rect x="493.4" y="489.2" width="32.6" height="32.6" fill="#cd364d"/>
<rect x="363.8" y="464.9" width="32.6" height="32.6" fill="#f88950"/>
<rect x="403.5" y="490.1" width="32.6" height="32.6" fill="#9e0142"/>
<rect x="401.5" y="513.1" width="32.6" height="32.6" fill="#9e0142"/>
<rect x="489.5" y="504.1" width="32.6" height="32.6" fill="#cd364d"/>
<rect x="424.0" y="501.9" width="32.6" height="32.6" fill="#94d4a4"/>
<rect x="416.2" y="492.4" width="32.6" height="32.6" fill="#a90d45"/>
<rect x="400.9" y="477.0" width="32.6" height="32.6" fill="#f46d43"/>
<rect x="415.7" y="500.6" width="32.6" height="32.6" fill="#cd364d"/>
<rect x="458.8" y="464.6" width="32.6" height="32.6" fill="#a90d45"/>
<rect x="473.8" y="498.4" width="32.6" height="32.6" fill="#cd364d"/>
<rect x="436.7" y="506.2" width="32.6" height="32.6" fill="#a90d45"/>
<rect x="409.7" y="503.5" width="32.6" height="32.6" fill="#df4e4b"/>
<rect x="357.9" y="493.9" width="32.6" height="32.6" fill="#4ea7b0"/>
<rect x="461.2" y="516.4" width="32.6" height="32.6" fill="#df4e4b"/>
<rect x="455.4" y="486.2" width="32.6" height="32.6" fill="#df4e4b"/>
<rect x="432.8" y="512.7" width="32.6" height="32.6" fill="#df4e4b"/>
<rect x="363.6" y="454.6" width="32.6" height="32.6" fill="#f46d43"/>
<rect x="448.3" y="496.5" width="32.6" height="32.6" fill="#f88950"/>
<rect x="437.3" y="517.0" width="32.6" height="32.6" fill="#f46d43"/>
<rect x="385.4" y="518.1" width="32.6" height="32.6" fill="#f88950"/>
<rect x="459.5" y="458.0" width="32.6" height="32.6" fill="#9e0142"/>
<rect x="463.3" y="437.3" width="32.6" height="32.6" fill="#f88950"/>
<rect x="352.7" y="503.5" width="32.6" height="32.6" fill="#94d4a4"/>
<rect x="396.2" y="457.5" width="32.6" height="32.6" fill="#a90d45"/>
<rect x="390.9" y="504.3" width="32.6" height="32.6" fill="#f46d43"/>
<rect x="442.7" y="459.6" width="32.6" height="32.6" fill="#a90d45"/>
<rect x="452.0" y="500.0" width="32.6" height="32.6" fill="#fdfebb"/>
<rect x="409.2" y="489.7" width="32.6" height="32.6" fill="#cd364d"/>
<rect x="472.4" y="488.4" width="32.6" height="32.6" fill="#a90d45"/>
<rect x="418.4" y="500.1" width="32.6" height="32.6" fill="#a90d45"/>
<rect x="384.6" y="490.3" width="32.6" height="32.6" fill="#f46d43"/>
<rect x="477.1" y="485.0" width="32.6" height="32.6" fill="#df4e4b"/>
<rect x="355.6" y="473.8" width="32.6" height="32.6" fill="#df4e4b"/>
<rect x="461.9" y="479.0" width="32.6" height="32.6" fill="#9e0142"/>
<rect x="412.4" y="496.4" width="32.6" height="32.6" fill="#f88950"/>
<rect x="358.1" y="465.8" width="32.6" height="32.6" fill="#f46d43"/>
<rect x="454.6" y="510.7" width="32.6" height="32.6" fill="#cd364d"/>
<rect x="476.8" y="458.4" width="32.6" height="32.6" fill="#9e0142"/>
<rect x="434.5" y="497.0" width="32.6" height="32.6" fill="#a90d45"/>
<rect x="425.6" y="509.4" width="32.6" height="32.6" fill="#9e0142"/>
<rect x="461.6" y="495.9" width="32.6" height="32.6" fill="#f46d43"/>
<rect x="372.9" y="471.2" width="32.6" height="32.6" fill="#f88950"/>
<rect x="383.5" y="486.8" width="32.6" height="32.6" fill="#ecf7a1"/>
<rect x="392.4" y="512.9" width="32.6" height="32.6" fill="#9e0142"/>
<rect x="459.9" y="515.3" width="32.6" height="32.6" fill="#a90d45"/>
<rect x="369.6" y="485.0" width="32.6" height="32.6" fill="#cd364d"/>
<rect x="482.7" y="464.7" width="32.6" height="32.6" fill="#df4e4b"/>
<rect x="384.8" y="504.3" width="32.6" height="32.6" fill="#a90d45"/>
<rect x="462.4" y="510.1" width="32.6" height="32.6" fill="#9e0142"/>
<rect x="472.2" y="461.5" width="32.6" height="32.6" fill="#9e0142"/>
<rect x="431.7" y="435.7" width="32.6" height="32.6" fill="#df4e4b"/>
<rect x="469.4" y="496.0" width="32.6" height="32.6" fill="#df4e4b"/>
<rect x="401.1" y="458.6" width="32.6" height="32.6" fill="#9e0142"/>
<rect x="425.4" y="440.2" width="32.6" height="32.6" fill="#9e0142"/>
<rect x="448.5" y="470.3" width="32.6" height="32.6" fill="#df4e4b"/>
<rect x="426.8" y="518.1" width="32.6" height="32.6" fill="#f88950"/>
<rect x="365.9" y="480.8" width="32.6" height="32.6" fill="#a90d45"/>
<rect x="476.1" y="462.7" width="32.6" height="32.6" fill="#9e0142"/>
<rect x="423.3" y="509.8" width="32.6" height="32.6" fill="#f88950"/>
<rect x="453.9" y="470.3" width="32.6" height="32.6" fill="#df4e4b"/>
<rect x="410.0" y="505.4" width="32.6" height="32.6" fill="#9e0142"/>
<rect x="469.0" y="490.3" width="32.6" height="32.6" fill="#9e0142"/>
<rect x="375.3" y="504.9" width="32.6" height="32.6" fill="#fdfebb"/>
<rect x="451.0" y="470.3" width="32.6" height="32.6" fill="#94d4a4"/>
<rect x="393.2" y="484.9" width="32.6" height="32.6" fill="#a90d45"/>
<rect x="440.5" y="460.8" width="32.6" height="32.6" fill="#f46d43"/>
<rect x="401.8" y="509.1" width="32.6" height="32.6" fill="#3880b9"/>
<rect x="411.4" y="497.8" width="32.6" height="32.6" fill="#fdfebb"/>
<rect x="475.5" y="468.7" width="32.6" height="32.6" fill="#3880b9"/>
<rect x="460.8" y="479.4" width="32.6" height="32.6" fill="#ecf7a1"/>
<rect x="369.3" y="471.7" width="32.6" height="32.6" fill="#df4e4b"/>
<rect x="349.5" y="509.2" width="32.6" height="32.6" fill="#df4e4b"/>
<rect x="401.4" y="500.1" width="32.6" height="32.6" fill="#f46d43"/>
<rect x="428.0" y="437.4" width="32.6" height="32.6" fill="#9e0142"/>
<rect x="379.6" y="507.0" width="32.6" height="32.6" fill="#df4e4b"/>
<rect x="413.1" y="479.9" width="32.6" height="32.6" fill="#cd364d"/>
<rect x="470.4" y="442.4" width="32.6" height="32.6" fill="#9e0142"/>
<rect x="428.1" y="480.8" width="32.6" height="32.6" fill="#fdfebb"/>
<rect x="389.1" y="489.9" width="32.6" height="32.6" fill="#df4e4b"/>
<rect x="356.5" y="499.5" width="32.6" height="32.6" fill="#a90d45"/>
<rect x="462.2" y="496.7" width="32.6" height="32.6" fill="#a90d45"/>
<rect x="423.8" y="515.8" width="32.6" height="32.6" fill="#df4e4b"/>
<rect x="362.3" y="489.5" width="32.6" height="32.6" fill="#94d4a4"/>
<rect x="391.7" y="484.8" width="32.6" height="32.6" fill="#df4e4b"/>
<rect x="405.7" y="466.8" width="32.6" height="32.6" fill="#cd364d"/>
<rect x="466.9" y="481.0" width="32.6" height="32.6" fill="#f46d43"/>
<rect x="449.7" y="486.0" width="32.6" height="32.6" fill="#cd364d"/>
<rect x="403.9" y="517.9" width="32.6" height="32.6" fill="#a90d45"/>
<rect x="457.8" y="438.6" width="32.6" height="32.6" fill="#9e0142"/>
<rect x="472.5" y="509.9" width="32.6" height="32.6" fill="#a90d45"/>
<rect x="409.1" y="456.5" width="32.6" height="32.6" fill="#df4e4b"/>
<rect x="364.3" y="465.0" width="32.6" height="32.6" fill="#f46d43"/>
<rect x="363.2" y="464.2" width="32.6" height="32.6" fill="#9e0142"/>
<rect x="451.3" y="512.1" width="32.6" height="32.6" fill="#cd364d"/>
<rect x="449.1" y="488.3" width="32.6" height="32.6" fill="#f46d43"/>
<rect x="358.6" y="469.3" width="32.6" height="32.6" fill="#cd364d"/>
<rect x="375.9" y="483.9" width="32.6" height="32.6" fill="#9e0142"/>
<rect x="457.4" y="482.6" width="32.6" height="32.6" fill="#94d4a4"/>
<rect x="400.1" y="515.9" width="32.6" height="32.6" fill="#a90d45"/>
<rect x="449.4" y="515.7" width="32.6" height="32.6" fill="#a90d45"/>
<rect x="369.0" y="491.0" width="32.6" height="32.6" fill="#a90d45"/>
<rect x="382.4" y="470.6" width="32.6" height="32.6" fill="#f88950"/>
<rect x="483.7" y="479.7" width="32.6" height="32.6" fill="#a90d45"/>
<rect x="407.1" y="479.0" width="32.6" height="32.6" fill="#a90d45"/>
<rect x="473.0" y="491.8" width="32.6" height="32.6" fill="#9e0142"/>
<rect x="436.8" y="449.7" width="32.6" height="32.6" fill="#df4e4b"/>
<rect x="352.5" y="498.3" width="32.6" height="32.6" fill="#df4e4b"/>
<rect x="372.8" y="471.0" width="32.6" height="32.6" fill="#f88950"/>
<rect x="454.1" y="492.9" width="32.6" height="32.6" fill="#a90d45"/>
<rect x="353.1" y="504.1" width="32.6" height="32.6" fill="#a90d45"/>
<rect x="469.7" y="486.3" width="32.6" height="32.6" fill="#a90d45"/>
<rect x="373.5" y="456.9" width="32.6" height="32.6" fill="#cd364d"/>
<rect x="382.1" y="467.5" width="32.6" height="32.6" fill="#9e0142"/>
<rect x="452.6" y="520.5" width="32.6" height="32.6" fill="#cd364d"/>
<rect x="447.6" y="507.7" width="32.6" height="32.6" fill="#a90d45"/>
<rect x="394.4" y="497.1" width="32.6" height="32.6" fill="#df4e4b"/>
<rect x="448.7" y="519.0" width="32.6" height="32.6" fill="#df4e4b"/>
<rect x="354.8" y="477.6" width="32.6" height="32.6" fill="#f88950"/>
<rect x="415.5" y="457.6" width="32.6" height="32.6" fill="#f88950"/>
<rect x="479.9" y="499.5" width="32.6" height="32.6" fill="#94d4a4"/>
<rect x="403.3" y="509.5" width="32.6" height="32.6" fill="#df4e4b"/>
<rect x="487.9" y="475.8" width="32.6" height="32.6" fill="#df4e4b"/>
<rect x="370.9" y="482.8" width="32.6" height="32.6" fill="#f46d43"/>
<rect x="390.9" y="474.9" width="32.6" height="32.6" fill="#f46d43"/>
<rect x="463.5" y="481.3" width="32.6" height="32.6" fill="#f46d43"/>
<rect x="474.0" y="494.8" width="32.6" height="32.6" fill="#df4e4b"/>
<rect x="465.8" y="485.4" width="32.6" height="32.6" fill="#cd364d"/>
<rect x="383.8" y="506.3" width="32.6" height="32.6" fill="#9e0142"/>
<rect x="373.1" y="506.5" width="32.6" height="32.6" fill="#f46d43"/>
<rect x="373.8" y="471.9" width="32.6" height="32.6" fill="#fdfebb"/>
<rect x="408.3" y="498.0" width="32.6" height="32.6" fill="#f88950"/>
<rect x="443.2" y="520.1" width="32.6" height="32.6" fill="#f88950"/>
<rect x="482.5" y="514.2" width="32.6" height="32.6" fill="#9e0142"/>
<rect x="426.0" y="467.6" width="32.6" height="32.6" fill="#df4e4b"/>
<rect x="412.7" y="460.7" width="32.6" height="32.6" fill="#94d4a4"/>
<rect x="359.6" y="475.1" width="32.6" height="32.6" fill="#9e0142"/>
<rect x="404.6" y="513.1" width="32.6" height="32.6" fill="#fdfebb"/>
<rect x="477.1" y="518.2" width="32.6" height="32.6" fill="#f46d43"/>
<rect x="474.1" y="500.3" width="32.6" height="32.6" fill="#cd364d"/>
<rect x="423.0" y="480.2" width="32.6" height="32.6" fill="#cd364d"/>
<rect x="469.6" y="499.7" width="32.6" height="32.6" fill="#f88950"/>
<rect x="411.7" y="497.5" width="32.6" height="32.6" fill="#a90d45"/>
<rect x="457.3" y="479.5" width="32.6" height="32.6" fill="#a90d45"/>
<rect x="368.8" y="517.0" width="32.6" height="32.6" fill="#9e0142"/>
<rect x="401.5" y="469.6" width="32.6" height="32.6" fill="#a90d45"/>
<rect x="438.6" y="516.7" width="32.6" height="32.6" fill="#f46d43"/>
<rect x="421.1" y="482.4" width="32.6" height="32.6" fill="#439bb5"/>
<rect x="446.9" y="489.2" width="32.6" height="32.6" fill="#555aa7"/>
<rect x="473.7" y="508.4" width="32.6" height="32.6" fill="#a90d45"/>
<rect x="382.3" y="489.1" width="32.6" height="32.6" fill="#4ea7b0"/>
<rect x="411.7" y="492.4" width="32.6" height="32.6" fill="#a90d45"/>
<rect x="426.0" y="511.2" width="32.6" height="32.6" fill="#ecf7a1"/>
<rect x="392.6" y="484.6" width="32.6" height="32.6" fill="#9e0142"/>
<rect x="481.3" y="480.3" width="32.6" height="32.6" fill="#df4e4b"/>
<rect x="428.8" y="479.5" width="32.6" height="32.6" fill="#df4e4b"/>
<rect x="442.6" y="475.7" width="32.6" height="32.6" fill="#9e0142"/>
<rect x="460.2" y="462.6" width="32.6" height="32.6" fill="#cd364d"/>
<rect x="481.7" y="463.7" width="32.6" height="32.6" fill="#f46d43"/>
<rect x="469.4" y="492.3" width="32.6" height="32.6" fill="#a90d45"/>
<rect x="416.2" y="484.3" width="32.6" height="32.6" fill="#9e0142"/>
<rect x="448.9" y="508.9" width="32.6" height="32.6" fill="#9e0142"/>
<rect x="382.5" y="439.5" width="32.6" height="32.6" fill="#cd364d"/>
<rect x="388.0" y="484.8" width="32.6" height="32.6" fill="#cd364d"/>
<rect x="436.7" y="509.8" width="32.6" height="32.6" fill="#9e0142"/>
<rect x="479.5" y="506.3" width="32.6" height="32.6" fill="#df4e4b"/>
<rect x="401.2" y="512.1" width="32.6" height="32.6" fill="#9e0142"/>
<rect x="418.0" y="485.0" width="32.6" height="32.6" fill="#f46d43"/>
<rect x="447.8" y="467.3" width="32.6" height="32.6" fill="#fdfebb"/>
<rect x="422.4" y="489.5" width="32.6" height="32.6" fill="#cd364d"/>
<rect x="396.0" y="508.3" width="32.6" height="32.6" fill="#a90d45"/>
<rect x="427.4" y="479.7" width="32.6" height="32.6" fill="#f46d43"/>
<rect x="380.5" y="490.9" width="32.6" height="32.6" fill="#ecf7a1"/>
<rect x="469.3" y="466.0" width="32.6" height="32.6" fill="#df4e4b"/>
<rect x="463.5" y="465.2" width="32.6" height="32.6" fill="#df4e4b"/>
<rect x="394.2" y="463.7" width="32.6" height="32.6" fill="#cd364d"/>
<rect x="409.1" y="461.7" width="32.6" height="32.6" fill="#df4e4b"/>
<rect x="449.3" y="466.7" width="32.6" height="32.6" fill="#f88950"/>
<rect x="433.3" y="510.1" width="32.6" height="32.6" fill="#f88950"/>
<rect x="384.6" y="496.7" width="32.6" height="32.6" fill="#9e0142"/>
<rect x="475.3" y="460.2" width="32.6" height="32.6" fill="#9e0142"/>
<rect x="425.5" y="518.8" width="32.6" height="32.6" fill="#a90d45"/>
<rect x="486.1" y="512.9" width="32.6" height="32.6" fill="#f88950"/>
<rect x="379.6" y="509.7" width="32.6" height="32.6" fill="#f46d43"/>
<rect x="449.0" y="473.4" width="32.6" height="32.6" fill="#94d4a4"/>
<rect x="438.5" y="511.4" width="32.6" height="32.6" fill="#cd364d"/>
<rect x="462.8" y="508.7" width="32.6" height="32.6" fill="#555aa7"/>
<rect x="403.2" y="518.3" width="32.6" height="32.6" fill="#9e0142"/>
<rect x="452.9" y="476.7" width="32.6" height="32.6" fill="#df4e4b"/>
<rect x="394.3" y="474.2" width="32.6" height="32.6" fill="#f88950"/>
<rect x="447.5" y="485.8" width="32.6" height="32.6" fill="#ecf7a1"/>
<rect x="356.2" y="492.5" width="32.6" height="32.6" fill="#df4e4b"/>
<rect x="375.2" y="471.8" width="32.6" height="32.6" fill="#df4e4b"/>
<rect x="385.6" y="519.5" width="32.6" height="32.6" fill="#94d4a4"/>
<rect x="394.8" y="502.6" width="32.6" height="32.6" fill="#cd364d"/>
<rect x="429.4" y="493.5" width="32.6" height="32.6" fill="#f88950"/>
<rect x="385.3" y="457.3" width="32.6" height="32.6" fill="#df4e4b"/>
<rect x="472.7" y="481.7" width="32.6" height="32.6" fill="#a90d45"/>
<rect x="456.4" y="479.1" width="32.6" height="32.6" fill="#a90d45"/>
<rect x="396.6" y="505.5" width="32.6" height="32.6" fill="#a90d45"/>
<rect x="357.0" y="499.2" width="32.6" height="32.6" fill="#9e0142"/>
<rect x="370.5" y="479.1" width="32.6" height="32.6" fill="#cd364d"/>
<rect x="424.8" y="493.5" width="32.6" height="32.6" fill="#9e0142"/>
</g>
<path d="M416.4,543.5 V554.1 H448.9 V543.5" fill="#e9f59d" stroke="#000" stroke-width="2.6"/>
<path d="M433.5,538 V554.1 M420,540 H433" fill="none" stroke="#000" stroke-width="1.6" stroke-opacity="0.7"/>
<g stroke="#000" stroke-width="2.6" fill-opacity="0.95">
<rect x="569.4" y="501.7" width="32.6" height="32.6" fill="#fa9857"/>
<rect x="576.3" y="501.7" width="32.6" height="32.6" fill="#d43d4f"/>
<rect x="527.7" y="494.7" width="32.6" height="32.6" fill="#df4e4b"/>
<rect x="505.1" y="505.1" width="32.6" height="32.6" fill="#f88950"/>
<rect x="507.6" y="504.1" width="32.6" height="32.6" fill="#fa9857"/>
<rect x="444.6" y="468.3" width="32.6" height="32.6" fill="#df4e4b"/>
<rect x="449.8" y="453.7" width="32.6" height="32.6" fill="#df4e4b"/>
<rect x="392.3" y="450.5" width="32.6" height="32.6" fill="#df4e4b"/>
<rect x="413.4" y="438.1" width="32.6" height="32.6" fill="#ab0f45"/>
<rect x="380.2" y="434.4" width="32.6" height="32.6" fill="#df4e4b"/>
<rect x="366.4" y="429.1" width="32.6" height="32.6" fill="#df4e4b"/>
<rect x="371.5" y="417.5" width="32.6" height="32.6" fill="#df4e4b"/>
<rect x="462.9" y="426.1" width="32.6" height="32.6" fill="#66c2a5"/>
<rect x="457.1" y="404.1" width="32.6" height="32.6" fill="#df4e4b"/>
<rect x="481.5" y="449.3" width="32.6" height="32.6" fill="#f7814c"/>
<rect x="488.7" y="461.7" width="32.6" height="32.6" fill="#f7814c"/>
<rect x="903.5" y="481.5" width="32.6" height="32.6" fill="#3d95b8"/>
</g>
<g stroke="#000" stroke-width="2.6" fill-opacity="0.97" stroke-linejoin="miter">
<path d="M544.2,477.1L536.5,492.0L551.9,492.0Z" fill="#378ebb"/>
<path d="M571.8,447.8L554.7,480.7L588.9,480.7Z" fill="#555aa7"/>
<path d="M724.0,476.3L707.6,507.9L740.4,507.9Z" fill="#555aa7"/>
<path d="M750.8,457.8L733.4,491.2L768.2,491.2Z" fill="#555aa7"/>
<path d="M747.2,478.9L730.3,511.4L764.1,511.4Z" fill="#555aa7"/>
<path d="M704.7,502.6L687.7,535.2L721.7,535.2Z" fill="#555aa7"/>
<path d="M831.3,480.7L814.9,512.3L847.7,512.3Z" fill="#555aa7"/>
<path d="M879.0,481.2L862.2,513.5L895.8,513.5Z" fill="#555aa7"/>
<path d="M953.2,487.7L937.2,518.5L969.2,518.5Z" fill="#555aa7"/>
<path d="M967.3,485.9L950.6,518.1L984.0,518.1Z" fill="#555aa7"/>
<path d="M948.8,499.1L932.2,531.1L965.4,531.1Z" fill="#555aa7"/>
<path d="M1019.5,490.0L1002.9,522.0L1036.1,522.0Z" fill="#555aa7"/>
<path d="M1075.4,495.3L1058.6,527.6L1092.2,527.6Z" fill="#555aa7"/>
</g>
<g fill="none" stroke="#000" stroke-opacity="0.6" stroke-width="2.2" stroke-linejoin="miter">
<path d="M813.8,467.5L796.4,500.9L831.2,500.9Z"/>
<path d="M858.2,463.0L841.2,495.6L875.2,495.6Z"/>
<path d="M820.3,485.5L803.1,518.5L837.5,518.5Z"/>
<path d="M951.4,460.0L935.6,490.3L967.2,490.3Z"/>
<path d="M959.3,457.3L942.6,489.5L976.0,489.5Z"/>
<path d="M926.3,497.4L911.2,526.4L941.4,526.4Z"/>
<path d="M1032.3,473.6L1015.3,506.2L1049.3,506.2Z"/>
<path d="M1072.7,462.2L1055.8,494.7L1089.6,494.7Z"/>
<path d="M1016.0,494.0L998.8,527.0L1033.2,527.0Z"/>
<path d="M940.0,500.0L923.4,532.0L956.6,532.0Z"/>
<path d="M1100.2,478.0L1083.3,510.5L1117.1,510.5Z"/>
<path d="M1214.5,460.4L1197.3,493.5L1231.7,493.5Z"/>
<path d="M1223.8,481.5L1206.2,515.3L1241.4,515.3Z"/>
<path d="M1259.0,472.4L1241.9,505.3L1276.1,505.3Z"/>
<path d="M1309.5,468.4L1292.4,501.2L1326.6,501.2Z"/>
<path d="M1516.8,420.9L1500.8,451.6L1532.8,451.6Z"/>
<path d="M1481.6,462.7L1464.5,495.6L1498.7,495.6Z"/>
<path d="M1538.6,454.8L1521.7,487.3L1555.5,487.3Z"/>
<path d="M1547.4,462.7L1530.3,495.6L1564.5,495.6Z"/>
<path d="M1662.7,454.3L1645.8,486.8L1679.6,486.8Z"/>
<path d="M1744.5,479.0L1727.5,511.6L1761.5,511.6Z"/>
<path d="M606.0,472.0L588.8,505.0L623.2,505.0Z"/>
<path d="M654.0,490.0L637.4,522.0L670.6,522.0Z"/>
<path d="M640.0,474.0L623.4,506.0L656.6,506.0Z"/>
<path d="M689.0,465.0L672.4,497.0L705.6,497.0Z"/>
<path d="M620.0,505.0L602.8,538.0L637.2,538.0Z"/>
<path d="M551.4,510.5L534.3,543.4L568.5,543.4Z"/>
<path d="M556.0,480.0L539.4,512.0L572.6,512.0Z"/>
<path d="M590.2,505.5L573.0,538.5L607.4,538.5Z"/>
<path d="M508.0,512.0L490.8,545.0L525.2,545.0Z"/>
<path d="M834.5,488.0L817.3,521.0L851.7,521.0Z"/>
<path d="M683.0,497.0L666.4,529.0L699.6,529.0Z"/>
<path d="M708.6,495.6L692.1,527.3L725.1,527.3Z"/>
<rect x="786.4" y="45.0" width="32.6" height="32.6"/>
<rect x="821.0" y="468.2" width="32.6" height="32.6"/>
<rect x="1003.7" y="444.6" width="32.6" height="32.6"/>
<rect x="1037.7" y="456.0" width="32.6" height="32.6"/>
<rect x="981.2" y="470.5" width="32.6" height="32.6"/>
<rect x="675.7" y="455.7" width="32.6" height="32.6"/>
<rect x="630.7" y="470.7" width="32.6" height="32.6"/>
<rect x="569.7" y="470.7" width="32.6" height="32.6"/>
<rect x="527.7" y="461.7" width="32.6" height="32.6"/>
</g>
<g fill-opacity="0.93">
<circle cx="250.2" cy="519.9" r="5.0" fill="#9e0142"/>
<circle cx="257.3" cy="440.2" r="5.0" fill="#c32a4b"/>
<circle cx="305.3" cy="392.5" r="5.0" fill="#a20643"/>
<circle cx="282.6" cy="397.1" r="5.0" fill="#d43d4f"/>
<circle cx="277.2" cy="430.0" r="5.0" fill="#9e0142"/>
<circle cx="263.9" cy="469.7" r="5.0" fill="#a20643"/>
<circle cx="252.7" cy="523.1" r="5.0" fill="#9e0142"/>
<circle cx="259.9" cy="461.1" r="5.0" fill="#c32a4b"/>
<circle cx="296.8" cy="404.8" r="5.0" fill="#9e0142"/>
<circle cx="249.9" cy="546.1" r="5.0" fill="#c32a4b"/>
<circle cx="339.9" cy="361.9" r="5.0" fill="#9e0142"/>
<circle cx="283.4" cy="447.8" r="5.0" fill="#9e0142"/>
<circle cx="271.9" cy="455.9" r="5.0" fill="#9e0142"/>
<circle cx="345.3" cy="448.4" r="5.0" fill="#a20643"/>
<circle cx="362.0" cy="377.7" r="5.0" fill="#af1446"/>
<circle cx="280.3" cy="469.7" r="5.0" fill="#9e0142"/>
<circle cx="254.5" cy="495.4" r="5.0" fill="#9e0142"/>
<circle cx="298.8" cy="378.6" r="5.0" fill="#c32a4b"/>
<circle cx="248.4" cy="532.9" r="5.0" fill="#d43d4f"/>
<circle cx="297.7" cy="411.2" r="5.0" fill="#9e0142"/>
<circle cx="311.9" cy="457.6" r="5.0" fill="#9e0142"/>
<circle cx="342.3" cy="420.6" r="5.0" fill="#9e0142"/>
<circle cx="324.2" cy="397.9" r="5.0" fill="#d43d4f"/>
<circle cx="267.7" cy="412.1" r="5.0" fill="#af1446"/>
<circle cx="298.1" cy="387.6" r="5.0" fill="#d43d4f"/>
<circle cx="328.8" cy="419.6" r="5.0" fill="#9e0142"/>
<circle cx="316.2" cy="429.9" r="5.0" fill="#a20643"/>
<circle cx="346.2" cy="391.0" r="5.0" fill="#c32a4b"/>
<circle cx="272.9" cy="431.0" r="5.0" fill="#a20643"/>
<circle cx="296.1" cy="450.7" r="5.0" fill="#a20643"/>
<circle cx="258.3" cy="482.1" r="5.0" fill="#c32a4b"/>
<circle cx="264.7" cy="458.1" r="5.0" fill="#9e0142"/>
<circle cx="306.7" cy="464.7" r="5.0" fill="#d43d4f"/>
<circle cx="276.7" cy="434.8" r="5.0" fill="#a20643"/>
<circle cx="371.2" cy="420.1" r="5.0" fill="#c32a4b"/>
<circle cx="299.8" cy="396.6" r="5.0" fill="#c32a4b"/>
<circle cx="268.3" cy="501.5" r="5.0" fill="#af1446"/>
<circle cx="260.9" cy="421.4" r="5.0" fill="#9e0142"/>
<circle cx="343.5" cy="416.7" r="5.0" fill="#9e0142"/>
<circle cx="302.1" cy="429.7" r="5.0" fill="#9e0142"/>
<circle cx="251.6" cy="542.2" r="5.0" fill="#9e0142"/>
<circle cx="316.9" cy="444.1" r="5.0" fill="#d43d4f"/>
<circle cx="290.8" cy="494.0" r="5.0" fill="#dc484c"/>
<circle cx="329.6" cy="496.5" r="5.0" fill="#9e0142"/>
<circle cx="291.4" cy="506.2" r="5.0" fill="#ed6246"/>
<circle cx="283.6" cy="525.9" r="5.0" fill="#dc484c"/>
<circle cx="296.3" cy="509.5" r="5.0" fill="#ed6246"/>
<circle cx="284.5" cy="506.5" r="5.0" fill="#e2514a"/>
<circle cx="359.9" cy="474.8" r="5.0" fill="#d43d4f"/>
<circle cx="290.2" cy="520.1" r="5.0" fill="#dc484c"/>
<circle cx="264.1" cy="546.1" r="5.0" fill="#e2514a"/>
<circle cx="312.2" cy="502.3" r="5.0" fill="#e2514a"/>
<circle cx="317.8" cy="500.1" r="5.0" fill="#c32a4b"/>
<circle cx="301.8" cy="505.0" r="5.0" fill="#dc484c"/>
<circle cx="333.6" cy="473.1" r="5.0" fill="#a90d45"/>
<circle cx="282.1" cy="522.8" r="5.0" fill="#e2514a"/>
<circle cx="307.5" cy="498.0" r="5.0" fill="#9e0142"/>
<circle cx="272.9" cy="538.7" r="5.0" fill="#a90d45"/>
<circle cx="359.1" cy="469.3" r="5.0" fill="#a90d45"/>
<circle cx="299.0" cy="476.7" r="5.0" fill="#dc484c"/>
<circle cx="302.9" cy="495.5" r="5.0" fill="#a90d45"/>
<circle cx="281.1" cy="495.6" r="5.0" fill="#d43d4f"/>
<circle cx="280.7" cy="504.1" r="5.0" fill="#d43d4f"/>
<circle cx="303.5" cy="486.1" r="5.0" fill="#dc484c"/>
<circle cx="293.2" cy="490.0" r="5.0" fill="#c32a4b"/>
<circle cx="333.6" cy="462.5" r="5.0" fill="#e2514a"/>
<circle cx="307.4" cy="466.8" r="5.0" fill="#9e0142"/>
<circle cx="285.3" cy="462.5" r="5.0" fill="#a90d45"/>
<circle cx="257.1" cy="548.2" r="5.0" fill="#c32a4b"/>
<circle cx="342.4" cy="483.6" r="5.0" fill="#dc484c"/>
<circle cx="269.9" cy="535.1" r="5.0" fill="#e2514a"/>
<circle cx="307.1" cy="479.9" r="5.0" fill="#dc484c"/>
<circle cx="324.3" cy="495.8" r="5.0" fill="#d43d4f"/>
<circle cx="284.9" cy="491.8" r="5.0" fill="#c32a4b"/>
<circle cx="358.7" cy="474.3" r="5.0" fill="#a90d45"/>
<circle cx="336.7" cy="443.3" r="5.0" fill="#e2514a"/>
<circle cx="280.7" cy="496.3" r="5.0" fill="#c32a4b"/>
<circle cx="299.0" cy="509.0" r="5.0" fill="#dc484c"/>
<circle cx="353.3" cy="486.6" r="5.0" fill="#ed6246"/>
<circle cx="326.5" cy="482.7" r="5.0" fill="#e2514a"/>
<circle cx="299.2" cy="512.6" r="5.0" fill="#d43d4f"/>
<circle cx="284.2" cy="492.9" r="5.0" fill="#d43d4f"/>
<circle cx="314.5" cy="500.6" r="5.0" fill="#ed6246"/>
<circle cx="325.1" cy="493.5" r="5.0" fill="#dc484c"/>
<circle cx="368.0" cy="468.9" r="5.0" fill="#a90d45"/>
<circle cx="285.1" cy="512.9" r="5.0" fill="#dc484c"/>
<circle cx="286.5" cy="510.0" r="5.0" fill="#c32a4b"/>
<circle cx="305.3" cy="485.6" r="5.0" fill="#c32a4b"/>
<circle cx="296.2" cy="505.4" r="5.0" fill="#c32a4b"/>
<circle cx="254.3" cy="556.4" r="5.0" fill="#dc484c"/>
<circle cx="329.9" cy="493.3" r="5.0" fill="#9e0142"/>
<circle cx="316.6" cy="458.5" r="5.0" fill="#dc484c"/>
<circle cx="251.2" cy="577.8" r="5.0" fill="#e2514a"/>
<circle cx="289.0" cy="479.5" r="5.0" fill="#dc484c"/>
<circle cx="291.9" cy="491.2" r="5.0" fill="#c32a4b"/>
<circle cx="253.5" cy="540.3" r="5.0" fill="#e2514a"/>
<circle cx="304.0" cy="487.6" r="5.0" fill="#a90d45"/>
<circle cx="263.0" cy="532.0" r="5.0" fill="#dc484c"/>
<circle cx="278.6" cy="519.6" r="5.0" fill="#a90d45"/>
<circle cx="287.7" cy="504.8" r="5.0" fill="#c32a4b"/>
<circle cx="325.8" cy="470.9" r="5.0" fill="#a90d45"/>
<circle cx="286.5" cy="506.4" r="5.0" fill="#ed6246"/>
<circle cx="254.1" cy="551.3" r="5.0" fill="#a90d45"/>
<circle cx="340.7" cy="488.1" r="5.0" fill="#d43d4f"/>
<circle cx="298.2" cy="508.3" r="5.0" fill="#dc484c"/>
<circle cx="351.9" cy="482.7" r="5.0" fill="#dc484c"/>
<circle cx="285.9" cy="496.6" r="5.0" fill="#c32a4b"/>
<circle cx="258.1" cy="525.1" r="5.0" fill="#dc484c"/>
<circle cx="305.4" cy="499.1" r="5.0" fill="#e2514a"/>
<circle cx="337.1" cy="484.6" r="5.0" fill="#c32a4b"/>
<circle cx="255.0" cy="512.8" r="5.0" fill="#ed6246"/>
<circle cx="302.7" cy="465.1" r="5.0" fill="#dc484c"/>
<circle cx="366.1" cy="411.7" r="5.0" fill="#e2514a"/>
<circle cx="360.8" cy="465.6" r="5.0" fill="#e2514a"/>
<circle cx="285.9" cy="520.6" r="5.0" fill="#dc484c"/>
<circle cx="298.3" cy="497.2" r="5.0" fill="#a90d45"/>
<circle cx="309.8" cy="476.7" r="5.0" fill="#a90d45"/>
<circle cx="290.6" cy="511.8" r="5.0" fill="#c32a4b"/>
<circle cx="278.1" cy="520.0" r="5.0" fill="#d43d4f"/>
<circle cx="250.3" cy="593.5" r="5.0" fill="#d43d4f"/>
<circle cx="281.1" cy="519.7" r="5.0" fill="#ed6246"/>
<circle cx="284.2" cy="499.6" r="5.0" fill="#9e0142"/>
<circle cx="340.5" cy="440.1" r="5.0" fill="#ed6246"/>
<circle cx="312.5" cy="503.7" r="5.0" fill="#dc484c"/>
<circle cx="278.9" cy="473.2" r="5.0" fill="#e2514a"/>
<circle cx="328.9" cy="475.8" r="5.0" fill="#e2514a"/>
<circle cx="297.6" cy="503.4" r="5.0" fill="#f67a49"/>
<circle cx="269.9" cy="541.7" r="5.0" fill="#9e0142"/>
<circle cx="258.7" cy="526.1" r="5.0" fill="#dc484c"/>
<circle cx="287.0" cy="511.9" r="5.0" fill="#e2514a"/>
<circle cx="268.7" cy="512.3" r="5.0" fill="#ed6246"/>
<circle cx="311.9" cy="483.3" r="5.0" fill="#d43d4f"/>
<circle cx="311.7" cy="448.2" r="5.0" fill="#d43d4f"/>
<circle cx="260.9" cy="517.7" r="5.0" fill="#d43d4f"/>
<circle cx="291.6" cy="485.9" r="5.0" fill="#e2514a"/>
<circle cx="366.3" cy="473.8" r="5.0" fill="#9e0142"/>
<circle cx="294.7" cy="495.3" r="5.0" fill="#9e0142"/>
<circle cx="286.9" cy="490.8" r="5.0" fill="#e2514a"/>
<circle cx="366.9" cy="439.4" r="5.0" fill="#e2514a"/>
<circle cx="286.6" cy="468.5" r="5.0" fill="#dc484c"/>
<circle cx="269.8" cy="539.8" r="5.0" fill="#d43d4f"/>
<circle cx="348.4" cy="466.6" r="5.0" fill="#e2514a"/>
<circle cx="308.8" cy="487.2" r="5.0" fill="#a90d45"/>
<circle cx="319.0" cy="460.0" r="5.0" fill="#9e0142"/>
<circle cx="288.5" cy="472.7" r="5.0" fill="#c32a4b"/>
<circle cx="274.0" cy="533.1" r="5.0" fill="#dc484c"/>
<circle cx="253.6" cy="575.1" r="5.0" fill="#dc484c"/>
<circle cx="286.0" cy="491.1" r="5.0" fill="#dc484c"/>
<circle cx="314.4" cy="488.0" r="5.0" fill="#ed6246"/>
<circle cx="274.1" cy="489.4" r="5.0" fill="#d43d4f"/>
<circle cx="314.1" cy="479.6" r="5.0" fill="#dc484c"/>
<circle cx="272.3" cy="537.0" r="5.0" fill="#d43d4f"/>
<circle cx="299.0" cy="503.5" r="5.0" fill="#a90d45"/>
<circle cx="309.2" cy="468.0" r="5.0" fill="#c32a4b"/>
<circle cx="309.2" cy="458.3" r="5.0" fill="#c32a4b"/>
<circle cx="346.8" cy="482.8" r="5.0" fill="#dc484c"/>
<circle cx="273.6" cy="529.2" r="5.0" fill="#ed6246"/>
<circle cx="325.9" cy="480.5" r="5.0" fill="#9e0142"/>
<circle cx="265.5" cy="538.5" r="5.0" fill="#e2514a"/>
<circle cx="266.2" cy="529.6" r="5.0" fill="#c32a4b"/>
<circle cx="303.8" cy="497.5" r="5.0" fill="#e2514a"/>
<circle cx="280.3" cy="529.3" r="5.0" fill="#e2514a"/>
<circle cx="276.0" cy="535.1" r="5.0" fill="#e2514a"/>
<circle cx="306.2" cy="464.4" r="5.0" fill="#dc484c"/>
<circle cx="255.9" cy="507.1" r="5.0" fill="#a90d45"/>
<circle cx="263.3" cy="534.9" r="5.0" fill="#e2514a"/>
<circle cx="256.9" cy="560.4" r="5.0" fill="#dc484c"/>
<circle cx="314.6" cy="491.7" r="5.0" fill="#ed6246"/>
<circle cx="270.1" cy="504.6" r="5.0" fill="#d43d4f"/>
<circle cx="322.9" cy="485.4" r="5.0" fill="#e2514a"/>
<circle cx="282.6" cy="496.2" r="5.0" fill="#9e0142"/>
<circle cx="279.5" cy="510.0" r="5.0" fill="#c32a4b"/>
<circle cx="277.5" cy="528.9" r="5.0" fill="#ed6246"/>
<circle cx="267.5" cy="508.7" r="5.0" fill="#c32a4b"/>
<circle cx="362.6" cy="466.2" r="5.0" fill="#c32a4b"/>
<circle cx="249.9" cy="576.3" r="5.0" fill="#d43d4f"/>
<circle cx="271.7" cy="523.1" r="5.0" fill="#dc484c"/>
<circle cx="286.7" cy="494.4" r="5.0" fill="#dc484c"/>
<circle cx="256.7" cy="573.3" r="5.0" fill="#ed6246"/>
<circle cx="273.3" cy="528.9" r="5.0" fill="#9e0142"/>
<circle cx="306.6" cy="507.6" r="5.0" fill="#d43d4f"/>
<circle cx="281.0" cy="500.0" r="5.0" fill="#a90d45"/>
<circle cx="361.6" cy="461.9" r="5.0" fill="#f67a49"/>
<circle cx="306.3" cy="502.6" r="5.0" fill="#c32a4b"/>
<circle cx="273.1" cy="508.5" r="5.0" fill="#9e0142"/>
<circle cx="253.9" cy="522.8" r="5.0" fill="#d43d4f"/>
<circle cx="281.1" cy="496.8" r="5.0" fill="#e2514a"/>
<circle cx="322.6" cy="478.7" r="5.0" fill="#e2514a"/>
<circle cx="264.5" cy="524.5" r="5.0" fill="#d43d4f"/>
<circle cx="269.0" cy="541.3" r="5.0" fill="#e2514a"/>
<circle cx="253.7" cy="567.2" r="5.0" fill="#dc484c"/>
<circle cx="295.8" cy="515.6" r="5.0" fill="#d43d4f"/>
<circle cx="324.3" cy="456.8" r="5.0" fill="#dc484c"/>
<circle cx="335.8" cy="423.2" r="5.0" fill="#d43d4f"/>
<circle cx="370.4" cy="481.8" r="5.0" fill="#e2514a"/>
<circle cx="253.6" cy="564.1" r="5.0" fill="#e2514a"/>
<circle cx="354.7" cy="439.9" r="5.0" fill="#f67a49"/>
<circle cx="296.5" cy="509.3" r="5.0" fill="#dc484c"/>
<circle cx="336.4" cy="473.4" r="5.0" fill="#c32a4b"/>
<circle cx="299.7" cy="494.4" r="5.0" fill="#dc484c"/>
<circle cx="264.5" cy="535.1" r="5.0" fill="#d43d4f"/>
<circle cx="258.6" cy="545.2" r="5.0" fill="#c32a4b"/>
<circle cx="276.3" cy="505.8" r="5.0" fill="#e2514a"/>
<circle cx="340.1" cy="487.5" r="5.0" fill="#f67a49"/>
<circle cx="308.9" cy="490.2" r="5.0" fill="#d43d4f"/>
<circle cx="358.5" cy="439.7" r="5.0" fill="#d43d4f"/>
<circle cx="263.8" cy="532.0" r="5.0" fill="#9e0142"/>
<circle cx="265.0" cy="517.3" r="5.0" fill="#e2514a"/>
<circle cx="301.0" cy="487.2" r="5.0" fill="#e2514a"/>
<circle cx="287.4" cy="508.5" r="5.0" fill="#dc484c"/>
<circle cx="271.9" cy="496.4" r="5.0" fill="#dc484c"/>
<circle cx="350.7" cy="422.1" r="5.0" fill="#a90d45"/>
<circle cx="265.3" cy="504.3" r="5.0" fill="#ed6246"/>
<circle cx="276.6" cy="506.0" r="5.0" fill="#dc484c"/>
<circle cx="340.9" cy="464.3" r="5.0" fill="#e2514a"/>
<circle cx="334.4" cy="491.7" r="5.0" fill="#ed6246"/>
<circle cx="303.7" cy="505.3" r="5.0" fill="#e2514a"/>
<circle cx="332.5" cy="485.6" r="5.0" fill="#a90d45"/>
<circle cx="334.0" cy="482.2" r="5.0" fill="#dc484c"/>
<circle cx="284.9" cy="516.6" r="5.0" fill="#c32a4b"/>
<circle cx="280.8" cy="523.3" r="5.0" fill="#e2514a"/>
<circle cx="286.6" cy="474.9" r="5.0" fill="#e2514a"/>
<circle cx="270.3" cy="517.1" r="5.0" fill="#ed6246"/>
<circle cx="307.7" cy="493.2" r="5.0" fill="#d43d4f"/>
<circle cx="320.0" cy="454.1" r="5.0" fill="#dc484c"/>
<circle cx="360.7" cy="417.1" r="5.0" fill="#c32a4b"/>
<circle cx="342.6" cy="448.0" r="5.0" fill="#dc484c"/>
<circle cx="342.0" cy="460.2" r="5.0" fill="#a90d45"/>
<circle cx="258.6" cy="534.0" r="5.0" fill="#a90d45"/>
<circle cx="279.3" cy="526.5" r="5.0" fill="#e2514a"/>
<circle cx="271.8" cy="493.2" r="5.0" fill="#d43d4f"/>
<circle cx="280.5" cy="503.0" r="5.0" fill="#d43d4f"/>
<circle cx="339.3" cy="492.0" r="5.0" fill="#e2514a"/>
<circle cx="250.5" cy="592.8" r="5.0" fill="#f67a49"/>
<circle cx="294.5" cy="482.6" r="5.0" fill="#d43d4f"/>
<circle cx="315.6" cy="489.0" r="5.0" fill="#d43d4f"/>
<circle cx="319.0" cy="477.5" r="5.0" fill="#dc484c"/>
<circle cx="289.5" cy="491.4" r="5.0" fill="#a90d45"/>
<circle cx="289.1" cy="517.5" r="5.0" fill="#d43d4f"/>
<circle cx="319.4" cy="495.9" r="5.0" fill="#dc484c"/>
<circle cx="312.3" cy="470.9" r="5.0" fill="#e2514a"/>
<circle cx="277.3" cy="527.5" r="5.0" fill="#ed6246"/>
<circle cx="325.7" cy="490.0" r="5.0" fill="#dc484c"/>
<circle cx="273.5" cy="487.1" r="5.0" fill="#d43d4f"/>
<circle cx="295.2" cy="480.4" r="5.0" fill="#9e0142"/>
<circle cx="289.0" cy="498.2" r="5.0" fill="#a90d45"/>
<circle cx="260.0" cy="506.6" r="5.0" fill="#e2514a"/>
<circle cx="342.2" cy="482.8" r="5.0" fill="#c32a4b"/>
<circle cx="330.1" cy="493.0" r="5.0" fill="#ed6246"/>
<circle cx="263.4" cy="546.8" r="5.0" fill="#e2514a"/>
<circle cx="293.5" cy="499.5" r="5.0" fill="#d43d4f"/>
<circle cx="351.0" cy="471.7" r="5.0" fill="#ed6246"/>
<circle cx="304.9" cy="472.2" r="5.0" fill="#c32a4b"/>
<circle cx="260.7" cy="553.5" r="5.0" fill="#dc484c"/>
<circle cx="258.9" cy="524.2" r="5.0" fill="#e2514a"/>
<circle cx="290.5" cy="485.0" r="5.0" fill="#dc484c"/>
<circle cx="264.5" cy="487.3" r="5.0" fill="#a90d45"/>
<circle cx="277.2" cy="527.7" r="5.0" fill="#d43d4f"/>
<circle cx="290.1" cy="506.6" r="5.0" fill="#c32a4b"/>
<circle cx="300.4" cy="469.6" r="5.0" fill="#e2514a"/>
<circle cx="311.7" cy="501.6" r="5.0" fill="#9e0142"/>
<circle cx="373.5" cy="466.3" r="5.0" fill="#a90d45"/>
<circle cx="349.8" cy="464.0" r="5.0" fill="#e2514a"/>
<circle cx="279.7" cy="460.3" r="5.0" fill="#dc484c"/>
<circle cx="286.9" cy="499.2" r="5.0" fill="#d43d4f"/>
<circle cx="366.8" cy="475.9" r="5.0" fill="#ed6246"/>
<circle cx="267.6" cy="497.2" r="5.0" fill="#dc484c"/>
<circle cx="351.7" cy="445.3" r="5.0" fill="#f67a49"/>
<circle cx="320.4" cy="448.0" r="5.0" fill="#a90d45"/>
<circle cx="301.3" cy="494.4" r="5.0" fill="#a90d45"/>
<circle cx="347.8" cy="471.0" r="5.0" fill="#f67a49"/>
<circle cx="253.5" cy="574.1" r="5.0" fill="#e2514a"/>
<circle cx="265.5" cy="517.3" r="5.0" fill="#dc484c"/>
<circle cx="323.0" cy="498.2" r="5.0" fill="#a90d45"/>
<circle cx="324.4" cy="494.4" r="5.0" fill="#a90d45"/>
<circle cx="326.8" cy="492.7" r="5.0" fill="#ed6246"/>
<circle cx="293.2" cy="471.9" r="5.0" fill="#e2514a"/>
<circle cx="258.9" cy="565.8" r="5.0" fill="#9e0142"/>
<circle cx="311.9" cy="489.3" r="5.0" fill="#a90d45"/>
<circle cx="332.6" cy="454.4" r="5.0" fill="#d43d4f"/>
<circle cx="301.8" cy="445.4" r="5.0" fill="#dc484c"/>
<circle cx="289.5" cy="505.0" r="5.0" fill="#e2514a"/>
<circle cx="296.6" cy="463.9" r="5.0" fill="#9e0142"/>
<circle cx="280.4" cy="501.0" r="5.0" fill="#dc484c"/>
<circle cx="323.8" cy="498.9" r="5.0" fill="#9e0142"/>
<circle cx="276.7" cy="526.6" r="5.0" fill="#ed6246"/>
<circle cx="271.5" cy="538.1" r="5.0" fill="#a90d45"/>
<circle cx="308.1" cy="480.9" r="5.0" fill="#e2514a"/>
<circle cx="290.1" cy="503.1" r="5.0" fill="#d43d4f"/>
<circle cx="323.7" cy="476.7" r="5.0" fill="#f67a49"/>
<circle cx="258.7" cy="564.8" r="5.0" fill="#c32a4b"/>
<circle cx="287.1" cy="504.0" r="5.0" fill="#c32a4b"/>
<circle cx="354.9" cy="449.1" r="5.0" fill="#a90d45"/>
<circle cx="331.5" cy="487.7" r="5.0" fill="#dc484c"/>
<circle cx="280.4" cy="527.6" r="5.0" fill="#d43d4f"/>
<circle cx="259.9" cy="563.5" r="5.0" fill="#d43d4f"/>
<circle cx="301.9" cy="502.1" r="5.0" fill="#dc484c"/>
<circle cx="259.3" cy="519.7" r="5.0" fill="#d43d4f"/>
<circle cx="277.0" cy="530.5" r="5.0" fill="#ed6246"/>
<circle cx="282.7" cy="513.4" r="5.0" fill="#e2514a"/>
<circle cx="281.1" cy="459.0" r="5.0" fill="#ed6246"/>
<circle cx="272.5" cy="534.2" r="5.0" fill="#ed6246"/>
<circle cx="310.0" cy="482.6" r="5.0" fill="#dc484c"/>
<circle cx="313.3" cy="483.8" r="5.0" fill="#c32a4b"/>
<circle cx="320.7" cy="499.2" r="5.0" fill="#c32a4b"/>
<circle cx="347.6" cy="448.6" r="5.0" fill="#dc484c"/>
<circle cx="269.7" cy="505.4" r="5.0" fill="#9e0142"/>
<circle cx="356.1" cy="483.6" r="5.0" fill="#c32a4b"/>
<circle cx="262.2" cy="551.6" r="5.0" fill="#dc484c"/>
<circle cx="317.7" cy="482.8" r="5.0" fill="#dc484c"/>
<circle cx="272.4" cy="490.3" r="5.0" fill="#dc484c"/>
<circle cx="361.0" cy="480.4" r="5.0" fill="#a90d45"/>
<circle cx="277.4" cy="492.2" r="5.0" fill="#a90d45"/>
<circle cx="304.6" cy="468.7" r="5.0" fill="#f67a49"/>
<circle cx="271.7" cy="480.9" r="5.0" fill="#c32a4b"/>
<circle cx="313.1" cy="492.6" r="5.0" fill="#dc484c"/>
<circle cx="266.3" cy="510.1" r="5.0" fill="#a90d45"/>
<circle cx="300.6" cy="505.1" r="5.0" fill="#9e0142"/>
<circle cx="271.1" cy="530.9" r="5.0" fill="#dc484c"/>
<circle cx="348.4" cy="477.5" r="5.0" fill="#9e0142"/>
<circle cx="348.9" cy="484.0" r="5.0" fill="#dc484c"/>
<circle cx="252.9" cy="581.2" r="5.0" fill="#d43d4f"/>
<circle cx="327.2" cy="476.5" r="5.0" fill="#9e0142"/>
<circle cx="273.2" cy="492.2" r="5.0" fill="#dc484c"/>
<circle cx="281.0" cy="527.9" r="5.0" fill="#e2514a"/>
<circle cx="304.9" cy="497.5" r="5.0" fill="#e2514a"/>
<circle cx="283.7" cy="515.9" r="5.0" fill="#d43d4f"/>
<circle cx="334.6" cy="460.6" r="5.0" fill="#c32a4b"/>
<circle cx="303.8" cy="498.5" r="5.0" fill="#ed6246"/>
<circle cx="313.0" cy="498.5" r="5.0" fill="#f67a49"/>
<circle cx="275.8" cy="528.7" r="5.0" fill="#dc484c"/>
<circle cx="264.3" cy="550.4" r="5.0" fill="#f67a49"/>
<circle cx="276.8" cy="526.3" r="5.0" fill="#d43d4f"/>
<circle cx="256.2" cy="571.3" r="5.0" fill="#d43d4f"/>
<circle cx="359.6" cy="478.1" r="5.0" fill="#dc484c"/>
<circle cx="343.0" cy="478.1" r="5.0" fill="#dc484c"/>
<circle cx="345.8" cy="479.9" r="5.0" fill="#c32a4b"/>
<circle cx="278.9" cy="492.6" r="5.0" fill="#dc484c"/>
<circle cx="362.1" cy="468.0" r="5.0" fill="#e2514a"/>
<circle cx="332.0" cy="442.6" r="5.0" fill="#9e0142"/>
<circle cx="313.2" cy="483.4" r="5.0" fill="#dc484c"/>
<circle cx="327.0" cy="490.2" r="5.0" fill="#c32a4b"/>
<circle cx="256.2" cy="548.6" r="5.0" fill="#f67a49"/>
<circle cx="291.4" cy="507.2" r="5.0" fill="#e2514a"/>
<circle cx="311.4" cy="464.8" r="5.0" fill="#a90d45"/>
<circle cx="256.6" cy="567.6" r="5.0" fill="#a90d45"/>
<circle cx="256.9" cy="546.0" r="5.0" fill="#ed6246"/>
<circle cx="268.4" cy="536.6" r="5.0" fill="#dc484c"/>
<circle cx="269.4" cy="493.3" r="5.0" fill="#9e0142"/>
<circle cx="252.9" cy="537.6" r="5.0" fill="#a90d45"/>
<circle cx="367.9" cy="471.4" r="5.0" fill="#dc484c"/>
<circle cx="297.3" cy="498.5" r="5.0" fill="#e2514a"/>
<circle cx="345.5" cy="430.6" r="5.0" fill="#c32a4b"/>
<circle cx="263.6" cy="550.3" r="5.0" fill="#c32a4b"/>
<circle cx="325.5" cy="462.1" r="5.0" fill="#dc484c"/>
<circle cx="340.6" cy="477.2" r="5.0" fill="#dc484c"/>
<circle cx="321.4" cy="445.5" r="5.0" fill="#e2514a"/>
<circle cx="308.4" cy="495.2" r="5.0" fill="#c32a4b"/>
<circle cx="265.8" cy="539.9" r="5.0" fill="#e2514a"/>
<circle cx="307.9" cy="476.1" r="5.0" fill="#c32a4b"/>
<circle cx="297.7" cy="508.9" r="5.0" fill="#ed6246"/>
<circle cx="298.4" cy="478.1" r="5.0" fill="#d43d4f"/>
<circle cx="313.0" cy="498.0" r="5.0" fill="#c32a4b"/>
<circle cx="276.7" cy="508.8" r="5.0" fill="#d43d4f"/>
<circle cx="280.6" cy="479.9" r="5.0" fill="#dc484c"/>
<circle cx="278.4" cy="529.0" r="5.0" fill="#dc484c"/>
<circle cx="288.9" cy="512.6" r="5.0" fill="#dc484c"/>
<circle cx="260.6" cy="535.4" r="5.0" fill="#dc484c"/>
<circle cx="339.7" cy="465.3" r="5.0" fill="#ed6246"/>
<circle cx="322.2" cy="429.0" r="5.0" fill="#d43d4f"/>
<circle cx="295.9" cy="510.3" r="5.0" fill="#d43d4f"/>
<circle cx="289.1" cy="503.6" r="5.0" fill="#dc484c"/>
<circle cx="356.4" cy="462.0" r="5.0" fill="#c32a4b"/>
<circle cx="363.2" cy="451.7" r="5.0" fill="#e2514a"/>
<circle cx="308.0" cy="505.6" r="5.0" fill="#e2514a"/>
<circle cx="263.0" cy="511.3" r="5.0" fill="#9e0142"/>
<circle cx="274.0" cy="531.1" r="5.0" fill="#e2514a"/>
<circle cx="260.7" cy="546.3" r="5.0" fill="#dc484c"/>
<circle cx="261.5" cy="527.2" r="5.0" fill="#9e0142"/>
<circle cx="284.3" cy="484.5" r="5.0" fill="#dc484c"/>
<circle cx="273.6" cy="533.2" r="5.0" fill="#d43d4f"/>
<circle cx="371.1" cy="459.1" r="5.0" fill="#dc484c"/>
<circle cx="333.6" cy="450.3" r="5.0" fill="#d43d4f"/>
<circle cx="263.9" cy="525.1" r="5.0" fill="#a90d45"/>
<circle cx="255.0" cy="569.8" r="5.0" fill="#ed6246"/>
<circle cx="259.0" cy="558.8" r="5.0" fill="#a90d45"/>
<circle cx="283.8" cy="517.4" r="5.0" fill="#dc484c"/>
<circle cx="306.5" cy="475.7" r="5.0" fill="#9e0142"/>
<circle cx="328.6" cy="488.1" r="5.0" fill="#a90d45"/>
<circle cx="256.9" cy="554.2" r="5.0" fill="#c32a4b"/>
<circle cx="275.8" cy="529.6" r="5.0" fill="#c32a4b"/>
<circle cx="263.5" cy="552.6" r="5.0" fill="#f67a49"/>
<circle cx="293.8" cy="485.6" r="5.0" fill="#d43d4f"/>
<circle cx="352.9" cy="485.4" r="5.0" fill="#dc484c"/>
<circle cx="250.8" cy="586.6" r="5.0" fill="#dc484c"/>
<circle cx="270.9" cy="510.2" r="5.0" fill="#e2514a"/>
<circle cx="279.2" cy="511.1" r="5.0" fill="#a90d45"/>
<circle cx="298.9" cy="465.9" r="5.0" fill="#9e0142"/>
<circle cx="273.4" cy="524.1" r="5.0" fill="#9e0142"/>
<circle cx="368.9" cy="467.0" r="5.0" fill="#dc484c"/>
<circle cx="280.3" cy="478.8" r="5.0" fill="#a90d45"/>
<circle cx="281.6" cy="513.3" r="5.0" fill="#ed6246"/>
<circle cx="332.4" cy="470.2" r="5.0" fill="#d43d4f"/>
<circle cx="294.7" cy="489.6" r="5.0" fill="#e2514a"/>
<circle cx="305.0" cy="480.9" r="5.0" fill="#a90d45"/>
<circle cx="322.7" cy="495.0" r="5.0" fill="#e2514a"/>
<circle cx="324.9" cy="457.5" r="5.0" fill="#9e0142"/>
<circle cx="287.2" cy="465.1" r="5.0" fill="#dc484c"/>
<circle cx="306.2" cy="488.7" r="5.0" fill="#e2514a"/>
<circle cx="291.6" cy="488.5" r="5.0" fill="#d43d4f"/>
<circle cx="302.0" cy="490.6" r="5.0" fill="#dc484c"/>
<circle cx="363.1" cy="484.5" r="5.0" fill="#dc484c"/>
<circle cx="325.2" cy="488.9" r="5.0" fill="#dc484c"/>
<circle cx="268.8" cy="535.1" r="5.0" fill="#c32a4b"/>
<circle cx="263.1" cy="495.5" r="5.0" fill="#ed6246"/>
<circle cx="302.1" cy="476.6" r="5.0" fill="#9e0142"/>
<circle cx="251.5" cy="552.4" r="5.0" fill="#dc484c"/>
<circle cx="255.2" cy="528.6" r="5.0" fill="#c32a4b"/>
<circle cx="255.5" cy="570.7" r="5.0" fill="#f67a49"/>
<circle cx="280.8" cy="458.2" r="5.0" fill="#ed6246"/>
<circle cx="314.6" cy="464.0" r="5.0" fill="#9e0142"/>
<circle cx="294.4" cy="502.8" r="5.0" fill="#c32a4b"/>
<circle cx="275.9" cy="474.1" r="5.0" fill="#9e0142"/>
<circle cx="324.2" cy="458.9" r="5.0" fill="#c32a4b"/>
<circle cx="336.3" cy="443.5" r="5.0" fill="#e2514a"/>
<circle cx="313.5" cy="487.9" r="5.0" fill="#dc484c"/>
<circle cx="310.2" cy="482.5" r="5.0" fill="#e2514a"/>
<circle cx="283.4" cy="512.0" r="5.0" fill="#d43d4f"/>
<circle cx="328.1" cy="468.1" r="5.0" fill="#e2514a"/>
<circle cx="296.7" cy="514.9" r="5.0" fill="#e2514a"/>
<circle cx="324.2" cy="469.9" r="5.0" fill="#9e0142"/>
<circle cx="274.0" cy="529.8" r="5.0" fill="#a90d45"/>
<circle cx="308.5" cy="501.0" r="5.0" fill="#9e0142"/>
<circle cx="307.9" cy="486.8" r="5.0" fill="#e2514a"/>
<circle cx="335.7" cy="474.1" r="5.0" fill="#d43d4f"/>
<circle cx="261.4" cy="551.9" r="5.0" fill="#a90d45"/>
<circle cx="320.1" cy="490.7" r="5.0" fill="#d43d4f"/>
<circle cx="311.0" cy="485.8" r="5.0" fill="#dc484c"/>
<circle cx="326.3" cy="448.1" r="5.0" fill="#a90d45"/>
<circle cx="303.4" cy="498.7" r="5.0" fill="#ed6246"/>
<circle cx="348.9" cy="474.7" r="5.0" fill="#dc484c"/>
<circle cx="345.1" cy="461.1" r="5.0" fill="#dc484c"/>
<circle cx="262.9" cy="508.7" r="5.0" fill="#dc484c"/>
<circle cx="335.0" cy="487.0" r="5.0" fill="#9e0142"/>
<circle cx="327.9" cy="458.7" r="5.0" fill="#ed6246"/>
<circle cx="334.9" cy="465.4" r="5.0" fill="#d43d4f"/>
<circle cx="277.4" cy="513.0" r="5.0" fill="#dc484c"/>
<circle cx="284.3" cy="504.1" r="5.0" fill="#dc484c"/>
<circle cx="336.8" cy="476.7" r="5.0" fill="#9e0142"/>
<circle cx="300.5" cy="503.6" r="5.0" fill="#a90d45"/>
<circle cx="308.3" cy="455.8" r="5.0" fill="#f67a49"/>
<circle cx="291.6" cy="511.9" r="5.0" fill="#9e0142"/>
<circle cx="339.1" cy="477.9" r="5.0" fill="#e2514a"/>
<circle cx="259.3" cy="565.8" r="5.0" fill="#d43d4f"/>
<circle cx="347.3" cy="488.9" r="5.0" fill="#9e0142"/>
<circle cx="273.8" cy="537.2" r="5.0" fill="#e2514a"/>
<circle cx="339.8" cy="421.6" r="5.0" fill="#d43d4f"/>
<circle cx="339.3" cy="491.5" r="5.0" fill="#e2514a"/>
<circle cx="268.7" cy="525.3" r="5.0" fill="#a90d45"/>
<circle cx="272.2" cy="534.2" r="5.0" fill="#c32a4b"/>
<circle cx="271.8" cy="529.4" r="5.0" fill="#e2514a"/>
<circle cx="363.4" cy="449.6" r="5.0" fill="#9e0142"/>
<circle cx="271.4" cy="540.8" r="5.0" fill="#e2514a"/>
<circle cx="319.4" cy="495.2" r="5.0" fill="#c32a4b"/>
<circle cx="293.0" cy="494.3" r="5.0" fill="#9e0142"/>
<circle cx="291.4" cy="453.2" r="5.0" fill="#dc484c"/>
<circle cx="299.8" cy="469.2" r="5.0" fill="#dc484c"/>
<circle cx="262.6" cy="528.8" r="5.0" fill="#dc484c"/>
<circle cx="283.0" cy="480.0" r="5.0" fill="#dc484c"/>
<circle cx="320.8" cy="483.6" r="5.0" fill="#9e0142"/>
<circle cx="340.5" cy="490.8" r="5.0" fill="#e2514a"/>
<circle cx="282.7" cy="499.0" r="5.0" fill="#d43d4f"/>
<circle cx="311.2" cy="470.6" r="5.0" fill="#ed6246"/>
<circle cx="280.8" cy="528.4" r="5.0" fill="#9e0142"/>
<circle cx="300.2" cy="497.0" r="5.0" fill="#dc484c"/>
<circle cx="264.3" cy="546.4" r="5.0" fill="#ed6246"/>
<circle cx="300.9" cy="496.2" r="5.0" fill="#d43d4f"/>
<circle cx="291.4" cy="494.3" r="5.0" fill="#d43d4f"/>
<circle cx="306.4" cy="490.9" r="5.0" fill="#c32a4b"/>
<circle cx="266.6" cy="545.2" r="5.0" fill="#a90d45"/>
<circle cx="317.9" cy="482.3" r="5.0" fill="#ed6246"/>
<circle cx="342.9" cy="442.3" r="5.0" fill="#dc484c"/>
<circle cx="339.4" cy="468.7" r="5.0" fill="#dc484c"/>
<circle cx="305.2" cy="507.5" r="5.0" fill="#f67a49"/>
<circle cx="263.9" cy="541.0" r="5.0" fill="#dc484c"/>
<circle cx="328.6" cy="439.7" r="5.0" fill="#d43d4f"/>
<circle cx="270.2" cy="524.8" r="5.0" fill="#d43d4f"/>
<circle cx="259.1" cy="495.5" r="5.0" fill="#a90d45"/>
<circle cx="297.7" cy="489.9" r="5.0" fill="#d43d4f"/>
<circle cx="338.2" cy="477.4" r="5.0" fill="#dc484c"/>
<circle cx="308.7" cy="466.0" r="5.0" fill="#a90d45"/>
<circle cx="323.9" cy="465.0" r="5.0" fill="#e2514a"/>
<circle cx="276.3" cy="478.2" r="5.0" fill="#e2514a"/>
<circle cx="277.5" cy="530.5" r="5.0" fill="#d43d4f"/>
<circle cx="257.0" cy="549.6" r="5.0" fill="#a90d45"/>
<circle cx="266.6" cy="541.8" r="5.0" fill="#c32a4b"/>
<circle cx="302.3" cy="497.2" r="5.0" fill="#e2514a"/>
<circle cx="279.5" cy="528.2" r="5.0" fill="#ed6246"/>
<circle cx="283.9" cy="524.6" r="5.0" fill="#e2514a"/>
<circle cx="337.7" cy="477.4" r="5.0" fill="#dc484c"/>
<circle cx="357.0" cy="432.8" r="5.0" fill="#e2514a"/>
<circle cx="290.2" cy="510.1" r="5.0" fill="#e2514a"/>
<circle cx="284.4" cy="504.5" r="5.0" fill="#d43d4f"/>
<circle cx="268.7" cy="534.0" r="5.0" fill="#e2514a"/>
<circle cx="332.4" cy="466.5" r="5.0" fill="#dc484c"/>
<circle cx="332.6" cy="475.1" r="5.0" fill="#ed6246"/>
<circle cx="298.8" cy="509.8" r="5.0" fill="#d43d4f"/>
<circle cx="320.2" cy="481.8" r="5.0" fill="#9e0142"/>
<circle cx="261.7" cy="526.1" r="5.0" fill="#e2514a"/>
<circle cx="287.6" cy="452.9" r="5.0" fill="#d43d4f"/>
<circle cx="308.5" cy="454.4" r="5.0" fill="#c32a4b"/>
<circle cx="304.0" cy="495.9" r="5.0" fill="#ed6246"/>
<circle cx="289.6" cy="494.0" r="5.0" fill="#d43d4f"/>
<circle cx="301.3" cy="509.8" r="5.0" fill="#e2514a"/>
<circle cx="297.9" cy="513.3" r="5.0" fill="#c32a4b"/>
<circle cx="289.0" cy="517.5" r="5.0" fill="#dc484c"/>
<circle cx="252.8" cy="583.0" r="5.0" fill="#dc484c"/>
<circle cx="289.0" cy="502.1" r="5.0" fill="#f67a49"/>
<circle cx="307.8" cy="501.2" r="5.0" fill="#9e0142"/>
<circle cx="285.4" cy="496.5" r="5.0" fill="#dc484c"/>
<circle cx="253.2" cy="581.9" r="5.0" fill="#e2514a"/>
<circle cx="310.9" cy="452.2" r="5.0" fill="#c32a4b"/>
<circle cx="248.4" cy="569.9" r="5.0" fill="#af1446"/>
<circle cx="248.0" cy="556.0" r="5.0" fill="#af1446"/>
<circle cx="247.3" cy="600.1" r="5.0" fill="#9e0142"/>
<circle cx="247.7" cy="544.7" r="5.0" fill="#df4e4b"/>
<circle cx="248.0" cy="532.9" r="5.0" fill="#f46d43"/>
<circle cx="249.2" cy="602.0" r="5.0" fill="#af1446"/>
<circle cx="248.5" cy="580.6" r="5.0" fill="#9e0142"/>
<circle cx="253.1" cy="559.3" r="5.0" fill="#df4e4b"/>
<circle cx="247.4" cy="634.1" r="5.0" fill="#cd364d"/>
<circle cx="249.0" cy="531.9" r="5.0" fill="#9e0142"/>
<circle cx="252.6" cy="597.9" r="5.0" fill="#af1446"/>
<circle cx="251.5" cy="572.4" r="5.0" fill="#cd364d"/>
<circle cx="249.6" cy="569.4" r="5.0" fill="#af1446"/>
<circle cx="251.7" cy="538.3" r="5.0" fill="#cd364d"/>
<circle cx="247.2" cy="647.6" r="5.0" fill="#9e0142"/>
<circle cx="251.5" cy="568.2" r="5.0" fill="#af1446"/>
<circle cx="247.9" cy="561.7" r="5.0" fill="#cd364d"/>
<circle cx="250.5" cy="581.1" r="5.0" fill="#f46d43"/>
<circle cx="245.9" cy="630.2" r="5.0" fill="#af1446"/>
<circle cx="251.3" cy="553.9" r="5.0" fill="#af1446"/>
<circle cx="245.8" cy="604.5" r="5.0" fill="#af1446"/>
<circle cx="248.4" cy="560.3" r="5.0" fill="#df4e4b"/>
<circle cx="248.4" cy="615.9" r="5.0" fill="#af1446"/>
<circle cx="249.2" cy="558.6" r="5.0" fill="#f46d43"/>
<circle cx="250.6" cy="610.0" r="5.0" fill="#9e0142"/>
<circle cx="252.6" cy="558.5" r="5.0" fill="#df4e4b"/>
<circle cx="248.9" cy="556.7" r="5.0" fill="#9e0142"/>
<circle cx="246.8" cy="612.3" r="5.0" fill="#af1446"/>
<circle cx="245.9" cy="581.5" r="5.0" fill="#9e0142"/>
<circle cx="247.3" cy="584.7" r="5.0" fill="#f46d43"/>
<circle cx="250.4" cy="584.9" r="5.0" fill="#9e0142"/>
<circle cx="251.3" cy="593.5" r="5.0" fill="#bfe5a0"/>
<circle cx="251.4" cy="562.2" r="5.0" fill="#bfe5a0"/>
<circle cx="246.7" cy="634.0" r="5.0" fill="#df4e4b"/>
<circle cx="251.5" cy="531.8" r="5.0" fill="#9e0142"/>
<circle cx="246.8" cy="618.4" r="5.0" fill="#af1446"/>
<circle cx="252.3" cy="542.1" r="5.0" fill="#af1446"/>
<circle cx="247.8" cy="565.5" r="5.0" fill="#af1446"/>
<circle cx="247.5" cy="552.9" r="5.0" fill="#bfe5a0"/>
<circle cx="249.1" cy="581.9" r="5.0" fill="#df4e4b"/>
<circle cx="248.4" cy="626.2" r="5.0" fill="#af1446"/>
<circle cx="247.3" cy="536.7" r="5.0" fill="#af1446"/>
<circle cx="246.2" cy="627.4" r="5.0" fill="#cd364d"/>
<circle cx="245.9" cy="675.1" r="5.0" fill="#df4e4b"/>
<circle cx="250.1" cy="610.9" r="5.0" fill="#cd364d"/>
<circle cx="247.1" cy="625.4" r="5.0" fill="#bfe5a0"/>
<circle cx="246.2" cy="613.2" r="5.0" fill="#9e0142"/>
<circle cx="250.9" cy="575.9" r="5.0" fill="#df4e4b"/>
<circle cx="246.1" cy="612.4" r="5.0" fill="#9e0142"/>
<circle cx="246.7" cy="560.2" r="5.0" fill="#9e0142"/>
<circle cx="253.2" cy="546.8" r="5.0" fill="#af1446"/>
<circle cx="247.4" cy="602.2" r="5.0" fill="#df4e4b"/>
<circle cx="250.7" cy="611.7" r="5.0" fill="#bfe5a0"/>
<circle cx="252.4" cy="539.9" r="5.0" fill="#df4e4b"/>
<circle cx="247.7" cy="626.3" r="5.0" fill="#9e0142"/>
<circle cx="252.1" cy="545.6" r="5.0" fill="#f46d43"/>
<circle cx="249.9" cy="599.7" r="5.0" fill="#df4e4b"/>
<circle cx="250.8" cy="606.5" r="5.0" fill="#9e0142"/>
<circle cx="253.2" cy="542.6" r="5.0" fill="#df4e4b"/>
<circle cx="251.1" cy="539.1" r="5.0" fill="#cd364d"/>
<circle cx="253.5" cy="536.9" r="5.0" fill="#f46d43"/>
<circle cx="245.8" cy="635.0" r="5.0" fill="#df4e4b"/>
<circle cx="248.9" cy="520.2" r="5.0" fill="#df4e4b"/>
<circle cx="251.8" cy="533.6" r="5.0" fill="#9e0142"/>
<circle cx="252.5" cy="576.1" r="5.0" fill="#f46d43"/>
<circle cx="250.7" cy="550.2" r="5.0" fill="#af1446"/>
<circle cx="249.0" cy="588.7" r="5.0" fill="#bfe5a0"/>
<circle cx="249.5" cy="548.0" r="5.0" fill="#cd364d"/>
<circle cx="250.8" cy="543.0" r="5.0" fill="#cd364d"/>
<circle cx="251.0" cy="581.5" r="5.0" fill="#9e0142"/>
<circle cx="251.0" cy="543.0" r="5.0" fill="#f46d43"/>
<circle cx="250.7" cy="591.1" r="5.0" fill="#f46d43"/>
<circle cx="247.4" cy="537.9" r="5.0" fill="#df4e4b"/>
<circle cx="246.2" cy="666.5" r="5.0" fill="#df4e4b"/>
<circle cx="249.1" cy="587.3" r="5.0" fill="#9e0142"/>
<circle cx="250.8" cy="602.9" r="5.0" fill="#9e0142"/>
<circle cx="248.9" cy="621.1" r="5.0" fill="#df4e4b"/>
<circle cx="248.8" cy="626.8" r="5.0" fill="#9e0142"/>
<circle cx="251.0" cy="553.4" r="5.0" fill="#f46d43"/>
<circle cx="245.9" cy="602.2" r="5.0" fill="#cd364d"/>
<circle cx="323.1" cy="535.5" r="5.0" fill="#df4e4b"/>
<circle cx="283.2" cy="566.3" r="5.0" fill="#cd364d"/>
<circle cx="262.2" cy="618.9" r="5.0" fill="#ed6246"/>
<circle cx="272.5" cy="554.1" r="5.0" fill="#f67a49"/>
<circle cx="296.3" cy="560.0" r="5.0" fill="#df4e4b"/>
<circle cx="273.2" cy="590.2" r="5.0" fill="#cd364d"/>
<circle cx="320.0" cy="569.0" r="5.0" fill="#df4e4b"/>
<circle cx="275.7" cy="569.1" r="5.0" fill="#378ebb"/>
<circle cx="325.5" cy="546.3" r="5.0" fill="#a90d45"/>
<circle cx="280.7" cy="592.2" r="5.0" fill="#df4e4b"/>
<circle cx="366.1" cy="543.6" r="5.0" fill="#94d4a4"/>
<circle cx="265.7" cy="547.1" r="5.0" fill="#a90d45"/>
<circle cx="337.7" cy="534.8" r="5.0" fill="#a90d45"/>
<circle cx="290.8" cy="606.6" r="5.0" fill="#df4e4b"/>
<circle cx="335.8" cy="544.4" r="5.0" fill="#bfe5a0"/>
<circle cx="294.9" cy="531.8" r="5.0" fill="#a90d45"/>
<circle cx="320.8" cy="544.3" r="5.0" fill="#cd364d"/>
<circle cx="310.4" cy="579.0" r="5.0" fill="#cd364d"/>
<circle cx="270.7" cy="599.0" r="5.0" fill="#fca55d"/>
<circle cx="249.7" cy="622.7" r="5.0" fill="#f67a49"/>
<circle cx="310.6" cy="568.2" r="5.0" fill="#cd364d"/>
<circle cx="272.5" cy="608.1" r="5.0" fill="#ed6246"/>
<circle cx="293.4" cy="585.0" r="5.0" fill="#a90d45"/>
<circle cx="270.1" cy="573.0" r="5.0" fill="#f67a49"/>
<circle cx="356.2" cy="559.2" r="5.0" fill="#f67a49"/>
<circle cx="266.7" cy="623.2" r="5.0" fill="#df4e4b"/>
<circle cx="311.6" cy="532.4" r="5.0" fill="#a90d45"/>
<circle cx="269.1" cy="590.4" r="5.0" fill="#ed6246"/>
<circle cx="286.5" cy="586.8" r="5.0" fill="#df4e4b"/>
<circle cx="284.2" cy="540.6" r="5.0" fill="#fca55d"/>
<circle cx="338.8" cy="576.8" r="5.0" fill="#cd364d"/>
<circle cx="252.8" cy="655.9" r="5.0" fill="#fca55d"/>
<circle cx="254.7" cy="640.9" r="5.0" fill="#a90d45"/>
<circle cx="280.9" cy="552.8" r="5.0" fill="#94d4a4"/>
<circle cx="297.4" cy="547.5" r="5.0" fill="#378ebb"/>
<circle cx="287.2" cy="575.5" r="5.0" fill="#cd364d"/>
<circle cx="295.5" cy="578.6" r="5.0" fill="#a90d45"/>
<circle cx="272.2" cy="625.0" r="5.0" fill="#ed6246"/>
<circle cx="303.3" cy="561.7" r="5.0" fill="#cd364d"/>
<circle cx="297.1" cy="565.3" r="5.0" fill="#ed6246"/>
<circle cx="284.4" cy="564.3" r="5.0" fill="#ed6246"/>
<circle cx="283.1" cy="579.4" r="5.0" fill="#df4e4b"/>
<circle cx="344.2" cy="544.2" r="5.0" fill="#f67a49"/>
<circle cx="288.2" cy="577.6" r="5.0" fill="#a90d45"/>
<circle cx="339.6" cy="549.7" r="5.0" fill="#df4e4b"/>
<circle cx="296.9" cy="563.3" r="5.0" fill="#bfe5a0"/>
<circle cx="275.9" cy="567.6" r="5.0" fill="#cd364d"/>
<circle cx="305.6" cy="549.6" r="5.0" fill="#94d4a4"/>
<circle cx="326.5" cy="540.7" r="5.0" fill="#bfe5a0"/>
<circle cx="299.5" cy="595.8" r="5.0" fill="#ed6246"/>
<circle cx="336.3" cy="560.6" r="5.0" fill="#a90d45"/>
<circle cx="272.6" cy="569.7" r="5.0" fill="#cd364d"/>
<circle cx="280.4" cy="599.7" r="5.0" fill="#df4e4b"/>
<circle cx="266.3" cy="599.0" r="5.0" fill="#df4e4b"/>
<circle cx="282.4" cy="575.3" r="5.0" fill="#bfe5a0"/>
<circle cx="323.4" cy="517.0" r="5.0" fill="#df4e4b"/>
<circle cx="363.5" cy="526.8" r="5.0" fill="#ed6246"/>
<circle cx="285.6" cy="538.2" r="5.0" fill="#cd364d"/>
<circle cx="271.6" cy="539.1" r="5.0" fill="#ed6246"/>
<circle cx="358.4" cy="559.8" r="5.0" fill="#94d4a4"/>
<circle cx="269.7" cy="611.1" r="5.0" fill="#fca55d"/>
<circle cx="316.2" cy="533.1" r="5.0" fill="#f67a49"/>
<circle cx="264.9" cy="566.8" r="5.0" fill="#94d4a4"/>
<circle cx="256.5" cy="587.5" r="5.0" fill="#94d4a4"/>
<circle cx="319.5" cy="587.5" r="5.0" fill="#df4e4b"/>
<circle cx="317.4" cy="513.2" r="5.0" fill="#cd364d"/>
<circle cx="280.5" cy="574.3" r="5.0" fill="#ed6246"/>
<circle cx="257.6" cy="600.8" r="5.0" fill="#fca55d"/>
<circle cx="308.5" cy="547.2" r="5.0" fill="#cd364d"/>
<circle cx="270.5" cy="555.7" r="5.0" fill="#bfe5a0"/>
<circle cx="335.5" cy="548.2" r="5.0" fill="#bfe5a0"/>
<circle cx="258.3" cy="627.6" r="5.0" fill="#feeda1"/>
<circle cx="325.1" cy="547.2" r="5.0" fill="#378ebb"/>
<circle cx="270.2" cy="581.2" r="5.0" fill="#a90d45"/>
<circle cx="294.8" cy="524.9" r="5.0" fill="#df4e4b"/>
<circle cx="324.5" cy="546.6" r="5.0" fill="#a90d45"/>
<circle cx="281.5" cy="577.2" r="5.0" fill="#df4e4b"/>
<circle cx="298.2" cy="568.6" r="5.0" fill="#df4e4b"/>
<circle cx="300.7" cy="542.3" r="5.0" fill="#a90d45"/>
<circle cx="273.3" cy="586.9" r="5.0" fill="#cd364d"/>
<circle cx="290.8" cy="594.1" r="5.0" fill="#df4e4b"/>
<circle cx="273.1" cy="577.7" r="5.0" fill="#f67a49"/>
<circle cx="282.6" cy="546.6" r="5.0" fill="#f67a49"/>
<circle cx="298.4" cy="541.5" r="5.0" fill="#fca55d"/>
<circle cx="278.2" cy="561.9" r="5.0" fill="#cd364d"/>
<circle cx="286.8" cy="572.1" r="5.0" fill="#cd364d"/>
<circle cx="289.4" cy="572.5" r="5.0" fill="#bfe5a0"/>
<circle cx="261.9" cy="596.1" r="5.0" fill="#df4e4b"/>
<circle cx="277.2" cy="589.0" r="5.0" fill="#df4e4b"/>
<circle cx="340.2" cy="503.4" r="5.0" fill="#fca55d"/>
<circle cx="298.8" cy="551.7" r="5.0" fill="#df4e4b"/>
<circle cx="298.7" cy="558.2" r="5.0" fill="#f67a49"/>
<circle cx="314.3" cy="527.1" r="5.0" fill="#df4e4b"/>
<circle cx="258.0" cy="623.6" r="5.0" fill="#df4e4b"/>
<circle cx="298.3" cy="517.5" r="5.0" fill="#ed6246"/>
<circle cx="284.5" cy="568.8" r="5.0" fill="#df4e4b"/>
<circle cx="253.6" cy="634.2" r="5.0" fill="#a90d45"/>
<circle cx="307.4" cy="565.7" r="5.0" fill="#ed6246"/>
<circle cx="263.4" cy="661.7" r="5.0" fill="#cd364d"/>
<circle cx="327.5" cy="561.0" r="5.0" fill="#bfe5a0"/>
<circle cx="287.3" cy="572.9" r="5.0" fill="#df4e4b"/>
<circle cx="249.4" cy="625.5" r="5.0" fill="#a90d45"/>
<circle cx="287.0" cy="571.0" r="5.0" fill="#f67a49"/>
<circle cx="286.6" cy="560.6" r="5.0" fill="#df4e4b"/>
<circle cx="318.7" cy="559.6" r="5.0" fill="#bfe5a0"/>
<circle cx="280.0" cy="576.9" r="5.0" fill="#ed6246"/>
<circle cx="311.1" cy="555.4" r="5.0" fill="#df4e4b"/>
<circle cx="256.2" cy="615.0" r="5.0" fill="#ecf7a1"/>
<circle cx="276.0" cy="606.4" r="5.0" fill="#bfe5a0"/>
<circle cx="266.5" cy="591.7" r="5.0" fill="#f67a49"/>
<circle cx="281.5" cy="565.9" r="5.0" fill="#cd364d"/>
<circle cx="254.4" cy="662.8" r="5.0" fill="#df4e4b"/>
<circle cx="288.0" cy="576.7" r="5.0" fill="#fca55d"/>
<circle cx="303.0" cy="547.6" r="5.0" fill="#f67a49"/>
<circle cx="287.5" cy="591.4" r="5.0" fill="#bfe5a0"/>
<circle cx="257.1" cy="616.9" r="5.0" fill="#ed6246"/>
<circle cx="301.8" cy="549.1" r="5.0" fill="#df4e4b"/>
<circle cx="278.2" cy="588.6" r="5.0" fill="#df4e4b"/>
<circle cx="283.8" cy="609.0" r="5.0" fill="#ed6246"/>
<circle cx="316.9" cy="575.6" r="5.0" fill="#ed6246"/>
<circle cx="320.4" cy="528.6" r="5.0" fill="#cd364d"/>
<circle cx="286.5" cy="568.6" r="5.0" fill="#fca55d"/>
<circle cx="291.4" cy="532.1" r="5.0" fill="#94d4a4"/>
<circle cx="315.9" cy="557.4" r="5.0" fill="#a90d45"/>
<circle cx="293.1" cy="538.8" r="5.0" fill="#a90d45"/>
<circle cx="278.7" cy="566.8" r="5.0" fill="#a90d45"/>
<circle cx="249.2" cy="673.4" r="5.0" fill="#f67a49"/>
<circle cx="338.7" cy="556.5" r="5.0" fill="#feeda1"/>
<circle cx="249.0" cy="683.6" r="5.0" fill="#df4e4b"/>
<circle cx="279.7" cy="570.0" r="5.0" fill="#94d4a4"/>
<circle cx="269.4" cy="600.1" r="5.0" fill="#f67a49"/>
<circle cx="338.8" cy="538.3" r="5.0" fill="#ed6246"/>
<circle cx="279.6" cy="597.3" r="5.0" fill="#f67a49"/>
<circle cx="287.1" cy="572.2" r="5.0" fill="#a90d45"/>
<circle cx="277.1" cy="584.7" r="5.0" fill="#df4e4b"/>
<circle cx="310.5" cy="536.3" r="5.0" fill="#df4e4b"/>
<circle cx="257.5" cy="612.9" r="5.0" fill="#df4e4b"/>
<circle cx="258.0" cy="612.3" r="5.0" fill="#cd364d"/>
<circle cx="341.1" cy="531.4" r="5.0" fill="#df4e4b"/>
<circle cx="247.3" cy="665.5" r="5.0" fill="#cd364d"/>
<circle cx="299.2" cy="561.7" r="5.0" fill="#df4e4b"/>
<circle cx="267.9" cy="660.7" r="5.0" fill="#f67a49"/>
<circle cx="314.2" cy="534.4" r="5.0" fill="#df4e4b"/>
<circle cx="332.2" cy="589.5" r="5.0" fill="#cd364d"/>
<circle cx="315.7" cy="553.0" r="5.0" fill="#df4e4b"/>
<circle cx="260.0" cy="611.0" r="5.0" fill="#ed6246"/>
<circle cx="261.2" cy="626.0" r="5.0" fill="#feeda1"/>
<circle cx="269.0" cy="638.5" r="5.0" fill="#cd364d"/>
<circle cx="287.7" cy="612.0" r="5.0" fill="#fca55d"/>
<circle cx="255.4" cy="615.6" r="5.0" fill="#a90d45"/>
<circle cx="258.5" cy="591.7" r="5.0" fill="#f67a49"/>
<circle cx="291.6" cy="529.9" r="5.0" fill="#df4e4b"/>
<circle cx="318.6" cy="544.7" r="5.0" fill="#feeda1"/>
<circle cx="274.0" cy="575.5" r="5.0" fill="#a90d45"/>
<circle cx="275.7" cy="633.2" r="5.0" fill="#ed6246"/>
<circle cx="283.1" cy="569.0" r="5.0" fill="#df4e4b"/>
<circle cx="276.5" cy="599.0" r="5.0" fill="#94d4a4"/>
<circle cx="302.3" cy="559.9" r="5.0" fill="#94d4a4"/>
<circle cx="251.6" cy="640.4" r="5.0" fill="#f67a49"/>
<circle cx="342.8" cy="519.8" r="5.0" fill="#fca55d"/>
<circle cx="349.2" cy="540.1" r="5.0" fill="#94d4a4"/>
<circle cx="302.8" cy="514.2" r="5.0" fill="#378ebb"/>
<circle cx="318.2" cy="537.1" r="5.0" fill="#a90d45"/>
<circle cx="286.3" cy="589.7" r="5.0" fill="#cd364d"/>
<circle cx="367.4" cy="551.2" r="5.0" fill="#ed6246"/>
<circle cx="352.0" cy="503.6" r="5.0" fill="#fca55d"/>
<circle cx="312.7" cy="520.7" r="5.0" fill="#ed6246"/>
<circle cx="263.2" cy="577.7" r="5.0" fill="#cd364d"/>
<circle cx="266.9" cy="596.4" r="5.0" fill="#94d4a4"/>
<circle cx="265.0" cy="601.9" r="5.0" fill="#f67a49"/>
<circle cx="343.7" cy="544.1" r="5.0" fill="#ed6246"/>
<circle cx="251.6" cy="637.9" r="5.0" fill="#bfe5a0"/>
<circle cx="322.4" cy="539.2" r="5.0" fill="#cd364d"/>
<circle cx="308.7" cy="535.3" r="5.0" fill="#378ebb"/>
<circle cx="281.4" cy="589.1" r="5.0" fill="#df4e4b"/>
<circle cx="261.0" cy="605.6" r="5.0" fill="#df4e4b"/>
<circle cx="285.2" cy="562.0" r="5.0" fill="#bfe5a0"/>
<circle cx="307.1" cy="577.3" r="5.0" fill="#df4e4b"/>
<circle cx="282.9" cy="559.9" r="5.0" fill="#a90d45"/>
<circle cx="282.3" cy="598.9" r="5.0" fill="#cd364d"/>
<circle cx="266.0" cy="575.7" r="5.0" fill="#f67a49"/>
<circle cx="273.6" cy="597.1" r="5.0" fill="#cd364d"/>
<circle cx="291.2" cy="577.6" r="5.0" fill="#bfe5a0"/>
<circle cx="260.9" cy="602.7" r="5.0" fill="#ed6246"/>
<circle cx="262.7" cy="583.8" r="5.0" fill="#df4e4b"/>
<circle cx="305.1" cy="550.2" r="5.0" fill="#a90d45"/>
<circle cx="350.9" cy="534.4" r="5.0" fill="#cd364d"/>
<circle cx="282.6" cy="544.8" r="5.0" fill="#df4e4b"/>
<circle cx="252.7" cy="657.6" r="5.0" fill="#a90d45"/>
<circle cx="272.9" cy="589.2" r="5.0" fill="#f67a49"/>
<circle cx="294.5" cy="575.9" r="5.0" fill="#feeda1"/>
<circle cx="330.6" cy="538.1" r="5.0" fill="#a90d45"/>
<circle cx="364.6" cy="539.6" r="5.0" fill="#a90d45"/>
<circle cx="286.3" cy="572.3" r="5.0" fill="#feeda1"/>
<circle cx="336.0" cy="565.4" r="5.0" fill="#ed6246"/>
<circle cx="272.7" cy="579.0" r="5.0" fill="#ed6246"/>
<circle cx="257.0" cy="635.8" r="5.0" fill="#f67a49"/>
<circle cx="284.4" cy="602.1" r="5.0" fill="#fca55d"/>
<circle cx="369.6" cy="532.3" r="5.0" fill="#a90d45"/>
<circle cx="302.5" cy="542.4" r="5.0" fill="#bfe5a0"/>
<circle cx="270.4" cy="589.5" r="5.0" fill="#f67a49"/>
<circle cx="283.5" cy="605.4" r="5.0" fill="#ecf7a1"/>
<circle cx="271.8" cy="598.6" r="5.0" fill="#ed6246"/>
<circle cx="285.1" cy="572.8" r="5.0" fill="#bfe5a0"/>
<circle cx="309.1" cy="530.6" r="5.0" fill="#f67a49"/>
<circle cx="327.4" cy="567.7" r="5.0" fill="#ed6246"/>
<circle cx="348.2" cy="531.8" r="5.0" fill="#ecf7a1"/>
<circle cx="267.2" cy="611.2" r="5.0" fill="#94d4a4"/>
<circle cx="275.2" cy="586.3" r="5.0" fill="#f67a49"/>
<circle cx="252.1" cy="611.0" r="5.0" fill="#f67a49"/>
<circle cx="285.4" cy="566.0" r="5.0" fill="#94d4a4"/>
<circle cx="264.0" cy="566.7" r="5.0" fill="#a90d45"/>
<circle cx="306.4" cy="521.9" r="5.0" fill="#df4e4b"/>
<circle cx="269.7" cy="603.8" r="5.0" fill="#df4e4b"/>
<circle cx="290.3" cy="572.2" r="5.0" fill="#f67a49"/>
<circle cx="296.8" cy="563.5" r="5.0" fill="#ed6246"/>
<circle cx="285.1" cy="551.3" r="5.0" fill="#feeda1"/>
<circle cx="346.3" cy="539.1" r="5.0" fill="#df4e4b"/>
<circle cx="296.4" cy="617.8" r="5.0" fill="#ed6246"/>
<circle cx="263.3" cy="623.1" r="5.0" fill="#cd364d"/>
<circle cx="300.4" cy="533.1" r="5.0" fill="#a90d45"/>
<circle cx="273.5" cy="576.2" r="5.0" fill="#df4e4b"/>
<circle cx="256.2" cy="612.1" r="5.0" fill="#a90d45"/>
<circle cx="329.8" cy="567.1" r="5.0" fill="#bfe5a0"/>
<circle cx="304.5" cy="557.5" r="5.0" fill="#ed6246"/>
<circle cx="286.5" cy="554.9" r="5.0" fill="#a90d45"/>
<circle cx="278.8" cy="584.1" r="5.0" fill="#df4e4b"/>
<circle cx="256.9" cy="614.9" r="5.0" fill="#bfe5a0"/>
<circle cx="296.6" cy="565.0" r="5.0" fill="#cd364d"/>
<circle cx="255.7" cy="652.9" r="5.0" fill="#ed6246"/>
<circle cx="315.8" cy="531.9" r="5.0" fill="#fca55d"/>
<circle cx="277.2" cy="594.1" r="5.0" fill="#ed6246"/>
<circle cx="338.0" cy="524.3" r="5.0" fill="#bfe5a0"/>
<circle cx="264.5" cy="623.5" r="5.0" fill="#a90d45"/>
<circle cx="313.3" cy="548.5" r="5.0" fill="#ed6246"/>
<circle cx="276.0" cy="577.6" r="5.0" fill="#cd364d"/>
<circle cx="264.8" cy="617.0" r="5.0" fill="#fca55d"/>
<circle cx="300.4" cy="564.4" r="5.0" fill="#bfe5a0"/>
<circle cx="308.2" cy="532.7" r="5.0" fill="#cd364d"/>
<circle cx="273.2" cy="604.7" r="5.0" fill="#fca55d"/>
<circle cx="358.8" cy="536.0" r="5.0" fill="#bfe5a0"/>
<circle cx="281.3" cy="591.7" r="5.0" fill="#ed6246"/>
<circle cx="263.2" cy="584.4" r="5.0" fill="#df4e4b"/>
<circle cx="287.0" cy="577.4" r="5.0" fill="#cd364d"/>
<circle cx="299.7" cy="564.0" r="5.0" fill="#ed6246"/>
<circle cx="259.6" cy="603.5" r="5.0" fill="#cd364d"/>
<circle cx="289.4" cy="559.1" r="5.0" fill="#df4e4b"/>
<circle cx="273.5" cy="594.9" r="5.0" fill="#df4e4b"/>
<circle cx="281.8" cy="557.2" r="5.0" fill="#bfe5a0"/>
<circle cx="345.2" cy="538.3" r="5.0" fill="#f67a49"/>
<circle cx="253.7" cy="640.4" r="5.0" fill="#a90d45"/>
<circle cx="336.4" cy="562.0" r="5.0" fill="#94d4a4"/>
<circle cx="362.3" cy="538.8" r="5.0" fill="#cd364d"/>
<circle cx="271.0" cy="608.1" r="5.0" fill="#a90d45"/>
<circle cx="260.7" cy="610.0" r="5.0" fill="#df4e4b"/>
<circle cx="319.7" cy="552.9" r="5.0" fill="#ed6246"/>
<circle cx="279.7" cy="554.3" r="5.0" fill="#a90d45"/>
<circle cx="326.0" cy="532.8" r="5.0" fill="#f67a49"/>
<circle cx="262.9" cy="605.7" r="5.0" fill="#df4e4b"/>
<circle cx="296.3" cy="564.7" r="5.0" fill="#cd364d"/>
<circle cx="369.2" cy="514.9" r="5.0" fill="#df4e4b"/>
<circle cx="311.7" cy="587.5" r="5.0" fill="#378ebb"/>
<circle cx="254.4" cy="624.3" r="5.0" fill="#a90d45"/>
<circle cx="259.0" cy="628.8" r="5.0" fill="#cd364d"/>
<circle cx="279.5" cy="573.4" r="5.0" fill="#f67a49"/>
<circle cx="275.1" cy="591.8" r="5.0" fill="#df4e4b"/>
<circle cx="318.5" cy="566.0" r="5.0" fill="#cd364d"/>
<circle cx="280.3" cy="561.8" r="5.0" fill="#a90d45"/>
<circle cx="353.8" cy="521.8" r="5.0" fill="#94d4a4"/>
<circle cx="318.1" cy="534.9" r="5.0" fill="#ed6246"/>
<circle cx="316.7" cy="604.8" r="5.0" fill="#ed6246"/>
<circle cx="330.5" cy="598.8" r="5.0" fill="#fca55d"/>
<circle cx="270.7" cy="590.0" r="5.0" fill="#df4e4b"/>
<circle cx="303.3" cy="555.3" r="5.0" fill="#df4e4b"/>
<circle cx="331.5" cy="557.5" r="5.0" fill="#a90d45"/>
<circle cx="304.0" cy="588.1" r="5.0" fill="#feeda1"/>
<circle cx="267.3" cy="582.7" r="5.0" fill="#bfe5a0"/>
<circle cx="248.9" cy="668.8" r="5.0" fill="#df4e4b"/>
<circle cx="283.0" cy="581.5" r="5.0" fill="#94d4a4"/>
<circle cx="269.9" cy="573.5" r="5.0" fill="#cd364d"/>
<circle cx="295.8" cy="549.5" r="5.0" fill="#a90d45"/>
<circle cx="306.7" cy="560.3" r="5.0" fill="#df4e4b"/>
<circle cx="290.1" cy="581.0" r="5.0" fill="#a90d45"/>
<circle cx="298.2" cy="552.8" r="5.0" fill="#cd364d"/>
<circle cx="266.4" cy="603.7" r="5.0" fill="#cd364d"/>
<circle cx="269.6" cy="609.7" r="5.0" fill="#ecf7a1"/>
<circle cx="308.4" cy="543.7" r="5.0" fill="#a90d45"/>
<circle cx="262.9" cy="579.9" r="5.0" fill="#f67a49"/>
<circle cx="368.3" cy="488.6" r="5.0" fill="#a90d45"/>
<circle cx="269.4" cy="643.3" r="5.0" fill="#ed6246"/>
<circle cx="337.7" cy="572.4" r="5.0" fill="#ed6246"/>
<circle cx="319.6" cy="550.3" r="5.0" fill="#cd364d"/>
<circle cx="314.9" cy="511.5" r="5.0" fill="#bfe5a0"/>
<circle cx="259.1" cy="598.8" r="5.0" fill="#fca55d"/>
<circle cx="264.3" cy="577.5" r="5.0" fill="#a90d45"/>
<circle cx="267.1" cy="613.9" r="5.0" fill="#cd364d"/>
<circle cx="250.7" cy="608.2" r="5.0" fill="#fca55d"/>
<circle cx="295.9" cy="574.7" r="5.0" fill="#bfe5a0"/>
<circle cx="260.8" cy="603.6" r="5.0" fill="#feeda1"/>
<circle cx="369.1" cy="553.5" r="5.0" fill="#fca55d"/>
<circle cx="434.5" cy="222.2" r="5.0" fill="#9e0142"/>
<circle cx="360.3" cy="238.2" r="5.0" fill="#9e0142"/>
<circle cx="460.0" cy="249.7" r="5.0" fill="#9e0142"/>
<circle cx="469.7" cy="250.3" r="5.0" fill="#9e0142"/>
<circle cx="350.2" cy="258.7" r="5.0" fill="#9e0142"/>
<circle cx="330.8" cy="266.2" r="5.0" fill="#9e0142"/>
<circle cx="442.7" cy="285.9" r="5.0" fill="#9e0142"/>
<circle cx="527.3" cy="287.0" r="5.0" fill="#9e0142"/>
<circle cx="362.9" cy="291.4" r="5.0" fill="#9e0142"/>
<circle cx="373.0" cy="293.8" r="5.0" fill="#9e0142"/>
<circle cx="350.6" cy="296.0" r="5.0" fill="#9e0142"/>
<circle cx="513.0" cy="299.1" r="5.0" fill="#9e0142"/>
<circle cx="303.3" cy="303.1" r="5.0" fill="#af1446"/>
<circle cx="450.4" cy="323.3" r="5.0" fill="#9e0142"/>
<circle cx="355.0" cy="329.9" r="5.0" fill="#9e0142"/>
<circle cx="374.8" cy="334.5" r="5.0" fill="#9e0142"/>
<circle cx="394.5" cy="332.3" r="5.0" fill="#9e0142"/>
<circle cx="320.9" cy="355.4" r="5.0" fill="#a20643"/>
<circle cx="359.2" cy="359.1" r="5.0" fill="#a00343"/>
<circle cx="358.7" cy="361.3" r="5.0" fill="#a00343"/>
<circle cx="407.5" cy="365.7" r="5.0" fill="#9e0142"/>
<circle cx="263.6" cy="369.0" r="5.0" fill="#a20643"/>
<circle cx="391.0" cy="373.8" r="5.0" fill="#9e0142"/>
<circle cx="350.4" cy="375.6" r="5.0" fill="#9e0142"/>
<circle cx="334.8" cy="377.8" r="5.0" fill="#9e0142"/>
<circle cx="447.7" cy="377.8" r="5.0" fill="#9e0142"/>
<circle cx="251.7" cy="380.0" r="5.0" fill="#a20643"/>
<circle cx="297.2" cy="314.5" r="5.0" fill="#df4e4b"/>
<circle cx="602.0" cy="190.7" r="5.0" fill="#9e0142"/>
<circle cx="599.9" cy="202.7" r="5.0" fill="#9e0142"/>
<circle cx="622.8" cy="377.9" r="5.0" fill="#9e0142"/>
<circle cx="1083.3" cy="505.3" r="5.0" fill="#fca55d"/>
<circle cx="1214.5" cy="555.7" r="5.0" fill="#f46d43"/>
<circle cx="461.8" cy="402.5" r="5.0" fill="#9e0142"/>
<circle cx="477.6" cy="439.5" r="5.0" fill="#9e0142"/>
<circle cx="515.0" cy="439.0" r="5.0" fill="#9e0142"/>
<circle cx="568.0" cy="457.5" r="5.0" fill="#9e0142"/>
<circle cx="443.5" cy="401.0" r="5.0" fill="#9e0142"/>
<circle cx="358.5" cy="414.0" r="5.0" fill="#9e0142"/>
<circle cx="377.5" cy="415.0" r="5.0" fill="#9e0142"/>
<circle cx="376.0" cy="426.0" r="5.0" fill="#9e0142"/>
<circle cx="367.5" cy="433.0" r="5.0" fill="#df4e4b"/>
<circle cx="374.0" cy="498.0" r="5.0" fill="#df4e4b"/>
<circle cx="360.0" cy="423.0" r="5.0" fill="#c32a4b"/>
<circle cx="282.4" cy="612.4" r="5.0" fill="#3387bc"/>
<circle cx="275.5" cy="619.3" r="5.0" fill="#b1dfa3"/>
<circle cx="353.3" cy="565.4" r="5.0" fill="#3d95b8"/>
<circle cx="338.6" cy="570.8" r="5.0" fill="#a2d9a4"/>
<circle cx="309.4" cy="589.3" r="5.0" fill="#df4e4b"/>
</g>
<g fill="none" stroke="#808080" stroke-opacity="0.5" stroke-width="1.9">
<circle cx="295.2" cy="594.3" r="3.85"/>
<circle cx="278.8" cy="527.3" r="3.85"/>
<circle cx="277.7" cy="577.5" r="3.85"/>
<circle cx="299.6" cy="573.7" r="3.85"/>
<circle cx="258.1" cy="638.7" r="3.85"/>
<circle cx="251.6" cy="666.3" r="3.85"/>
<circle cx="287.9" cy="608.2" r="3.85"/>
<circle cx="299.9" cy="556.2" r="3.85"/>
<circle cx="268.9" cy="615.3" r="3.85"/>
<circle cx="274.9" cy="620.5" r="3.85"/>
<circle cx="260.1" cy="640.2" r="3.85"/>
<circle cx="339.2" cy="576.2" r="3.85"/>
<circle cx="333.2" cy="546.8" r="3.85"/>
<circle cx="287.8" cy="573.4" r="3.85"/>
<circle cx="303.9" cy="537.9" r="3.85"/>
<circle cx="275.1" cy="556.3" r="3.85"/>
<circle cx="258.4" cy="613.1" r="3.85"/>
<circle cx="278.5" cy="614.0" r="3.85"/>
<circle cx="283.0" cy="554.2" r="3.85"/>
<circle cx="279.7" cy="562.3" r="3.85"/>
<circle cx="287.5" cy="573.5" r="3.85"/>
<circle cx="359.7" cy="569.5" r="3.85"/>
<circle cx="282.5" cy="613.0" r="3.85"/>
<circle cx="310.7" cy="594.5" r="3.85"/>
<circle cx="266.8" cy="632.9" r="3.85"/>
<circle cx="273.8" cy="587.1" r="3.85"/>
<circle cx="287.2" cy="550.8" r="3.85"/>
<circle cx="292.0" cy="598.8" r="3.85"/>
<circle cx="267.7" cy="548.0" r="3.85"/>
<circle cx="274.7" cy="611.9" r="3.85"/>
<circle cx="311.5" cy="536.9" r="3.85"/>
<circle cx="332.9" cy="542.9" r="3.85"/>
<circle cx="255.2" cy="669.2" r="3.85"/>
<circle cx="284.8" cy="601.4" r="3.85"/>
<circle cx="276.1" cy="588.6" r="3.85"/>
<circle cx="259.2" cy="628.4" r="3.85"/>
<circle cx="295.7" cy="587.9" r="3.85"/>
<circle cx="295.5" cy="568.6" r="3.85"/>
<circle cx="269.0" cy="631.2" r="3.85"/>
<circle cx="310.2" cy="573.1" r="3.85"/>
<circle cx="273.6" cy="596.2" r="3.85"/>
<circle cx="298.1" cy="527.6" r="3.85"/>
<circle cx="289.5" cy="596.2" r="3.85"/>
<circle cx="277.2" cy="617.4" r="3.85"/>
<circle cx="277.2" cy="545.6" r="3.85"/>
<circle cx="360.4" cy="564.5" r="3.85"/>
<circle cx="344.9" cy="493.6" r="3.85"/>
<circle cx="334.4" cy="574.7" r="3.85"/>
<circle cx="339.3" cy="572.2" r="3.85"/>
<circle cx="253.3" cy="610.9" r="3.85"/>
<circle cx="338.0" cy="576.2" r="3.85"/>
<circle cx="297.0" cy="598.9" r="3.85"/>
<circle cx="255.5" cy="646.6" r="3.85"/>
<circle cx="318.8" cy="582.4" r="3.85"/>
<circle cx="272.9" cy="622.6" r="3.85"/>
<circle cx="269.6" cy="614.9" r="3.85"/>
<circle cx="257.3" cy="623.5" r="3.85"/>
<circle cx="256.4" cy="596.1" r="3.85"/>
<circle cx="298.5" cy="594.9" r="3.85"/>
<circle cx="248.7" cy="655.6" r="3.85"/>
<circle cx="272.1" cy="557.9" r="3.85"/>
<circle cx="261.1" cy="578.2" r="3.85"/>
<circle cx="297.1" cy="539.8" r="3.85"/>
<circle cx="321.3" cy="545.0" r="3.85"/>
<circle cx="272.1" cy="595.9" r="3.85"/>
<circle cx="294.8" cy="536.4" r="3.85"/>
<circle cx="278.5" cy="604.0" r="3.85"/>
<circle cx="306.1" cy="585.7" r="3.85"/>
<circle cx="284.9" cy="601.6" r="3.85"/>
<circle cx="294.9" cy="595.8" r="3.85"/>
<circle cx="345.9" cy="568.4" r="3.85"/>
<circle cx="304.5" cy="586.8" r="3.85"/>
<circle cx="292.8" cy="525.0" r="3.85"/>
<circle cx="318.8" cy="565.3" r="3.85"/>
<circle cx="292.5" cy="604.4" r="3.85"/>
<circle cx="286.7" cy="613.3" r="3.85"/>
<circle cx="267.8" cy="633.5" r="3.85"/>
<circle cx="283.4" cy="583.0" r="3.85"/>
<circle cx="264.7" cy="589.2" r="3.85"/>
<circle cx="287.3" cy="529.5" r="3.85"/>
<circle cx="262.3" cy="639.0" r="3.85"/>
<circle cx="306.5" cy="547.3" r="3.85"/>
<circle cx="274.7" cy="543.6" r="3.85"/>
<circle cx="265.8" cy="583.1" r="3.85"/>
<circle cx="287.2" cy="565.4" r="3.85"/>
<circle cx="293.5" cy="569.9" r="3.85"/>
<circle cx="297.5" cy="603.7" r="3.85"/>
<circle cx="329.9" cy="556.6" r="3.85"/>
<circle cx="272.3" cy="613.0" r="3.85"/>
<circle cx="261.1" cy="638.7" r="3.85"/>
<circle cx="300.0" cy="594.9" r="3.85"/>
<circle cx="354.0" cy="517.6" r="3.85"/>
<circle cx="280.9" cy="596.3" r="3.85"/>
<circle cx="335.2" cy="555.7" r="3.85"/>
<circle cx="252.8" cy="670.6" r="3.85"/>
<circle cx="281.3" cy="598.9" r="3.85"/>
<circle cx="266.1" cy="623.8" r="3.85"/>
<circle cx="284.0" cy="623.8" r="3.85"/>
<circle cx="273.2" cy="613.8" r="3.85"/>
<circle cx="347.2" cy="554.6" r="3.85"/>
<circle cx="263.6" cy="612.5" r="3.85"/>
<circle cx="276.3" cy="601.5" r="3.85"/>
<circle cx="259.0" cy="600.8" r="3.85"/>
<circle cx="295.3" cy="580.2" r="3.85"/>
<circle cx="276.9" cy="614.6" r="3.85"/>
<circle cx="286.4" cy="588.1" r="3.85"/>
<circle cx="324.1" cy="556.9" r="3.85"/>
<circle cx="297.3" cy="595.6" r="3.85"/>
<circle cx="252.9" cy="646.8" r="3.85"/>
<circle cx="292.8" cy="584.0" r="3.85"/>
<circle cx="270.6" cy="609.0" r="3.85"/>
<circle cx="271.2" cy="585.4" r="3.85"/>
<circle cx="265.2" cy="602.8" r="3.85"/>
<circle cx="283.2" cy="577.7" r="3.85"/>
<circle cx="297.2" cy="607.8" r="3.85"/>
<circle cx="259.4" cy="599.7" r="3.85"/>
<circle cx="336.8" cy="552.1" r="3.85"/>
<circle cx="319.9" cy="546.7" r="3.85"/>
<circle cx="284.4" cy="601.2" r="3.85"/>
<circle cx="336.8" cy="566.2" r="3.85"/>
<circle cx="280.8" cy="599.1" r="3.85"/>
<circle cx="262.0" cy="628.5" r="3.85"/>
<circle cx="270.0" cy="558.5" r="3.85"/>
<circle cx="292.8" cy="551.4" r="3.85"/>
<circle cx="306.1" cy="568.2" r="3.85"/>
<circle cx="286.1" cy="601.6" r="3.85"/>
<circle cx="257.8" cy="626.6" r="3.85"/>
<circle cx="284.1" cy="595.8" r="3.85"/>
<circle cx="289.0" cy="563.9" r="3.85"/>
<circle cx="284.9" cy="554.8" r="3.85"/>
<circle cx="305.4" cy="538.5" r="3.85"/>
<circle cx="279.3" cy="599.5" r="3.85"/>
<circle cx="305.7" cy="538.0" r="3.85"/>
<circle cx="285.3" cy="535.7" r="3.85"/>
<circle cx="255.5" cy="614.2" r="3.85"/>
<circle cx="305.3" cy="574.2" r="3.85"/>
<circle cx="312.2" cy="573.1" r="3.85"/>
<circle cx="367.4" cy="571.3" r="3.85"/>
<circle cx="285.9" cy="597.3" r="3.85"/>
<circle cx="313.1" cy="555.1" r="3.85"/>
<circle cx="331.4" cy="552.3" r="3.85"/>
<circle cx="283.6" cy="598.9" r="3.85"/>
<circle cx="322.8" cy="578.3" r="3.85"/>
<circle cx="281.7" cy="601.2" r="3.85"/>
<circle cx="282.7" cy="568.5" r="3.85"/>
<circle cx="294.5" cy="539.9" r="3.85"/>
<circle cx="320.8" cy="582.7" r="3.85"/>
<circle cx="309.0" cy="574.7" r="3.85"/>
<circle cx="293.5" cy="600.5" r="3.85"/>
<circle cx="293.2" cy="593.8" r="3.85"/>
<circle cx="287.9" cy="610.6" r="3.85"/>
<circle cx="255.6" cy="620.6" r="3.85"/>
<circle cx="255.4" cy="622.2" r="3.85"/>
<circle cx="278.2" cy="573.8" r="3.85"/>
<circle cx="266.5" cy="585.3" r="3.85"/>
<circle cx="328.2" cy="562.6" r="3.85"/>
<circle cx="282.1" cy="612.1" r="3.85"/>
<circle cx="273.6" cy="605.3" r="3.85"/>
<circle cx="304.6" cy="593.0" r="3.85"/>
<circle cx="316.0" cy="559.9" r="3.85"/>
<circle cx="327.6" cy="549.6" r="3.85"/>
<circle cx="325.0" cy="586.5" r="3.85"/>
<circle cx="281.8" cy="593.6" r="3.85"/>
<circle cx="270.7" cy="606.6" r="3.85"/>
<circle cx="254.4" cy="613.0" r="3.85"/>
<circle cx="345.3" cy="554.0" r="3.85"/>
<circle cx="286.2" cy="574.3" r="3.85"/>
<circle cx="327.9" cy="518.9" r="3.85"/>
<circle cx="322.0" cy="539.2" r="3.85"/>
<circle cx="326.0" cy="507.9" r="3.85"/>
<circle cx="282.5" cy="617.8" r="3.85"/>
<circle cx="274.3" cy="613.6" r="3.85"/>
<circle cx="306.2" cy="597.9" r="3.85"/>
<circle cx="252.0" cy="640.1" r="3.85"/>
<circle cx="298.5" cy="543.1" r="3.85"/>
<circle cx="308.3" cy="537.0" r="3.85"/>
<circle cx="276.2" cy="570.5" r="3.85"/>
<circle cx="371.1" cy="489.6" r="3.85"/>
<circle cx="292.9" cy="571.1" r="3.85"/>
<circle cx="279.4" cy="616.9" r="3.85"/>
<circle cx="286.0" cy="591.5" r="3.85"/>
<circle cx="287.2" cy="581.5" r="3.85"/>
<circle cx="298.6" cy="534.7" r="3.85"/>
<circle cx="272.5" cy="546.7" r="3.85"/>
<circle cx="332.5" cy="560.2" r="3.85"/>
<circle cx="281.5" cy="582.3" r="3.85"/>
<circle cx="309.0" cy="547.8" r="3.85"/>
<circle cx="270.3" cy="593.8" r="3.85"/>
<circle cx="273.2" cy="615.9" r="3.85"/>
<circle cx="329.4" cy="552.0" r="3.85"/>
<circle cx="325.7" cy="563.2" r="3.85"/>
<circle cx="312.9" cy="542.2" r="3.85"/>
<circle cx="285.3" cy="575.4" r="3.85"/>
<circle cx="299.5" cy="534.5" r="3.85"/>
<circle cx="291.6" cy="598.2" r="3.85"/>
<circle cx="271.1" cy="590.5" r="3.85"/>
<circle cx="264.4" cy="628.0" r="3.85"/>
<circle cx="261.5" cy="600.0" r="3.85"/>
<circle cx="265.5" cy="619.4" r="3.85"/>
<circle cx="280.1" cy="592.0" r="3.85"/>
<circle cx="278.5" cy="579.5" r="3.85"/>
<circle cx="325.6" cy="532.5" r="3.85"/>
<circle cx="359.2" cy="520.4" r="3.85"/>
<circle cx="289.0" cy="609.5" r="3.85"/>
<circle cx="291.8" cy="569.9" r="3.85"/>
<circle cx="284.6" cy="594.9" r="3.85"/>
<circle cx="309.2" cy="554.1" r="3.85"/>
<circle cx="306.2" cy="577.0" r="3.85"/>
<circle cx="290.7" cy="607.6" r="3.85"/>
<circle cx="308.8" cy="507.8" r="3.85"/>
<circle cx="261.7" cy="633.3" r="3.85"/>
<circle cx="285.9" cy="575.3" r="3.85"/>
<circle cx="357.4" cy="569.6" r="3.85"/>
<circle cx="331.9" cy="493.0" r="3.85"/>
<circle cx="258.5" cy="629.3" r="3.85"/>
<circle cx="303.2" cy="552.8" r="3.85"/>
<circle cx="296.6" cy="525.2" r="3.85"/>
<circle cx="341.7" cy="552.9" r="3.85"/>
<circle cx="350.7" cy="576.2" r="3.85"/>
<circle cx="308.8" cy="588.4" r="3.85"/>
<circle cx="361.5" cy="520.2" r="3.85"/>
<circle cx="291.3" cy="552.5" r="3.85"/>
<circle cx="361.5" cy="497.8" r="3.85"/>
<circle cx="273.2" cy="591.1" r="3.85"/>
<circle cx="297.9" cy="557.9" r="3.85"/>
<circle cx="355.9" cy="575.1" r="3.85"/>
<circle cx="323.3" cy="542.6" r="3.85"/>
<circle cx="283.3" cy="574.0" r="3.85"/>
<circle cx="265.2" cy="632.2" r="3.85"/>
<circle cx="292.3" cy="533.6" r="3.85"/>
<circle cx="350.1" cy="560.5" r="3.85"/>
<circle cx="345.5" cy="570.2" r="3.85"/>
<circle cx="266.5" cy="633.1" r="3.85"/>
<circle cx="318.3" cy="563.6" r="3.85"/>
<circle cx="295.9" cy="595.2" r="3.85"/>
<circle cx="282.5" cy="568.2" r="3.85"/>
<circle cx="266.7" cy="603.9" r="3.85"/>
<circle cx="268.5" cy="589.3" r="3.85"/>
<circle cx="272.7" cy="591.8" r="3.85"/>
<circle cx="297.2" cy="534.3" r="3.85"/>
<circle cx="248.6" cy="665.4" r="3.85"/>
<circle cx="286.7" cy="558.7" r="3.85"/>
<circle cx="263.1" cy="602.4" r="3.85"/>
<circle cx="263.3" cy="620.9" r="3.85"/>
<circle cx="283.2" cy="581.8" r="3.85"/>
<circle cx="303.5" cy="533.0" r="3.85"/>
<circle cx="285.8" cy="564.2" r="3.85"/>
<circle cx="250.3" cy="660.0" r="3.85"/>
<circle cx="269.3" cy="619.5" r="3.85"/>
<circle cx="262.3" cy="644.7" r="3.85"/>
<circle cx="268.6" cy="632.9" r="3.85"/>
<circle cx="281.4" cy="608.0" r="3.85"/>
<circle cx="332.5" cy="527.5" r="3.85"/>
<circle cx="360.1" cy="566.4" r="3.85"/>
<circle cx="270.5" cy="539.0" r="3.85"/>
<circle cx="262.3" cy="602.1" r="3.85"/>
<circle cx="307.1" cy="525.6" r="3.85"/>
<circle cx="295.1" cy="543.6" r="3.85"/>
<circle cx="266.5" cy="626.0" r="3.85"/>
<circle cx="272.3" cy="629.7" r="3.85"/>
<circle cx="308.5" cy="590.8" r="3.85"/>
<circle cx="304.7" cy="609.7" r="3.85"/>
<circle cx="332.2" cy="541.8" r="3.85"/>
<circle cx="293.1" cy="517.5" r="3.85"/>
<circle cx="311.6" cy="569.3" r="3.85"/>
<circle cx="290.1" cy="563.5" r="3.85"/>
<circle cx="270.4" cy="598.9" r="3.85"/>
<circle cx="271.3" cy="629.5" r="3.85"/>
<circle cx="270.9" cy="626.6" r="3.85"/>
<circle cx="326.6" cy="557.2" r="3.85"/>
<circle cx="309.3" cy="587.9" r="3.85"/>
<circle cx="301.1" cy="613.3" r="3.85"/>
<circle cx="297.3" cy="539.3" r="3.85"/>
<circle cx="256.0" cy="630.2" r="3.85"/>
<circle cx="315.2" cy="532.6" r="3.85"/>
<circle cx="320.4" cy="586.5" r="3.85"/>
<circle cx="296.4" cy="561.2" r="3.85"/>
<circle cx="251.9" cy="613.7" r="3.85"/>
<circle cx="282.6" cy="612.1" r="3.85"/>
<circle cx="292.7" cy="569.9" r="3.85"/>
<circle cx="289.4" cy="594.7" r="3.85"/>
<circle cx="326.2" cy="581.1" r="3.85"/>
<circle cx="360.2" cy="560.9" r="3.85"/>
<circle cx="288.4" cy="586.4" r="3.85"/>
<circle cx="276.5" cy="624.7" r="3.85"/>
<circle cx="252.7" cy="616.0" r="3.85"/>
<circle cx="347.6" cy="574.1" r="3.85"/>
<circle cx="313.5" cy="513.7" r="3.85"/>
<circle cx="255.8" cy="651.8" r="3.85"/>
<circle cx="305.0" cy="594.2" r="3.85"/>
<circle cx="272.4" cy="603.8" r="3.85"/>
<circle cx="360.8" cy="550.5" r="3.85"/>
<circle cx="255.3" cy="657.7" r="3.85"/>
<circle cx="342.5" cy="559.7" r="3.85"/>
<circle cx="327.6" cy="571.9" r="3.85"/>
<circle cx="310.4" cy="566.0" r="3.85"/>
<circle cx="264.9" cy="608.9" r="3.85"/>
<circle cx="261.8" cy="607.9" r="3.85"/>
<circle cx="305.5" cy="573.2" r="3.85"/>
<circle cx="277.8" cy="559.1" r="3.85"/>
<circle cx="273.5" cy="608.0" r="3.85"/>
<circle cx="271.5" cy="582.1" r="3.85"/>
<circle cx="330.8" cy="509.5" r="3.85"/>
<circle cx="274.5" cy="583.2" r="3.85"/>
<circle cx="352.3" cy="544.5" r="3.85"/>
<circle cx="260.9" cy="638.2" r="3.85"/>
<circle cx="364.4" cy="553.1" r="3.85"/>
<circle cx="291.1" cy="597.4" r="3.85"/>
<circle cx="276.5" cy="580.6" r="3.85"/>
<circle cx="306.5" cy="578.1" r="3.85"/>
<circle cx="292.8" cy="566.2" r="3.85"/>
<circle cx="274.4" cy="539.0" r="3.85"/>
<circle cx="270.3" cy="559.3" r="3.85"/>
<circle cx="306.4" cy="529.8" r="3.85"/>
<circle cx="296.3" cy="539.3" r="3.85"/>
<circle cx="366.8" cy="558.1" r="3.85"/>
<circle cx="259.9" cy="591.0" r="3.85"/>
<circle cx="314.1" cy="584.7" r="3.85"/>
<circle cx="297.7" cy="594.9" r="3.85"/>
<circle cx="277.7" cy="622.4" r="3.85"/>
<circle cx="303.0" cy="561.0" r="3.85"/>
<circle cx="272.3" cy="609.0" r="3.85"/>
<circle cx="282.6" cy="565.0" r="3.85"/>
<circle cx="308.7" cy="539.6" r="3.85"/>
<circle cx="322.7" cy="518.6" r="3.85"/>
<circle cx="252.2" cy="674.3" r="3.85"/>
<circle cx="249.2" cy="648.3" r="3.85"/>
<circle cx="248.8" cy="692.8" r="3.85"/>
<circle cx="364.6" cy="546.0" r="3.85"/>
<circle cx="325.4" cy="558.2" r="3.85"/>
<circle cx="330.0" cy="568.8" r="3.85"/>
<circle cx="294.3" cy="569.1" r="3.85"/>
<circle cx="253.1" cy="672.3" r="3.85"/>
<circle cx="290.8" cy="568.6" r="3.85"/>
<circle cx="362.7" cy="529.5" r="3.85"/>
<circle cx="259.8" cy="652.0" r="3.85"/>
<circle cx="305.0" cy="542.9" r="3.85"/>
<circle cx="317.6" cy="565.1" r="3.85"/>
<circle cx="329.9" cy="560.6" r="3.85"/>
<circle cx="307.5" cy="555.4" r="3.85"/>
<circle cx="252.9" cy="664.6" r="3.85"/>
<circle cx="299.4" cy="572.6" r="3.85"/>
<circle cx="265.8" cy="640.9" r="3.85"/>
<circle cx="282.2" cy="565.5" r="3.85"/>
<circle cx="272.9" cy="627.5" r="3.85"/>
<circle cx="263.9" cy="600.7" r="3.85"/>
<circle cx="256.0" cy="631.6" r="3.85"/>
<circle cx="362.0" cy="543.9" r="3.85"/>
<circle cx="306.5" cy="529.7" r="3.85"/>
<circle cx="265.8" cy="628.1" r="3.85"/>
<circle cx="282.2" cy="571.7" r="3.85"/>
<circle cx="326.8" cy="546.3" r="3.85"/>
<circle cx="291.2" cy="567.2" r="3.85"/>
<circle cx="293.7" cy="599.7" r="3.85"/>
<circle cx="264.5" cy="634.5" r="3.85"/>
<circle cx="287.5" cy="579.4" r="3.85"/>
<circle cx="330.6" cy="510.0" r="3.85"/>
<circle cx="333.4" cy="577.8" r="3.85"/>
<circle cx="272.0" cy="596.5" r="3.85"/>
<circle cx="316.6" cy="585.5" r="3.85"/>
<circle cx="332.1" cy="579.8" r="3.85"/>
<circle cx="314.4" cy="583.2" r="3.85"/>
<circle cx="251.1" cy="658.0" r="3.85"/>
<circle cx="302.3" cy="537.7" r="3.85"/>
<circle cx="300.1" cy="600.6" r="3.85"/>
<circle cx="341.5" cy="564.0" r="3.85"/>
<circle cx="262.7" cy="553.7" r="3.85"/>
<circle cx="310.0" cy="575.5" r="3.85"/>
<circle cx="346.1" cy="567.4" r="3.85"/>
<circle cx="274.6" cy="588.0" r="3.85"/>
<circle cx="261.2" cy="617.7" r="3.85"/>
<circle cx="289.6" cy="571.6" r="3.85"/>
<circle cx="258.2" cy="648.9" r="3.85"/>
<circle cx="365.9" cy="560.7" r="3.85"/>
<circle cx="328.8" cy="571.8" r="3.85"/>
<circle cx="267.2" cy="588.5" r="3.85"/>
<circle cx="288.3" cy="592.9" r="3.85"/>
<circle cx="281.7" cy="598.3" r="3.85"/>
<circle cx="326.7" cy="538.9" r="3.85"/>
<circle cx="271.4" cy="589.6" r="3.85"/>
<circle cx="283.7" cy="565.2" r="3.85"/>
<circle cx="267.9" cy="562.2" r="3.85"/>
<circle cx="267.7" cy="603.1" r="3.85"/>
<circle cx="313.9" cy="544.9" r="3.85"/>
<circle cx="309.9" cy="514.7" r="3.85"/>
<circle cx="265.9" cy="640.0" r="3.85"/>
<circle cx="286.9" cy="535.0" r="3.85"/>
<circle cx="263.6" cy="609.9" r="3.85"/>
<circle cx="280.3" cy="608.5" r="3.85"/>
<circle cx="327.0" cy="534.8" r="3.85"/>
<circle cx="324.2" cy="502.9" r="3.85"/>
<circle cx="285.9" cy="570.9" r="3.85"/>
<circle cx="285.4" cy="606.3" r="3.85"/>
<circle cx="266.0" cy="634.7" r="3.85"/>
<circle cx="275.2" cy="575.9" r="3.85"/>
<circle cx="263.3" cy="615.2" r="3.85"/>
<circle cx="334.5" cy="554.0" r="3.85"/>
<circle cx="280.2" cy="573.7" r="3.85"/>
<circle cx="256.9" cy="636.0" r="3.85"/>
<circle cx="257.6" cy="631.8" r="3.85"/>
<circle cx="321.9" cy="555.2" r="3.85"/>
<circle cx="315.9" cy="595.7" r="3.85"/>
<circle cx="310.3" cy="548.2" r="3.85"/>
<circle cx="300.8" cy="531.1" r="3.85"/>
<circle cx="298.8" cy="598.8" r="3.85"/>
<circle cx="258.6" cy="647.8" r="3.85"/>
<circle cx="291.1" cy="565.5" r="3.85"/>
<circle cx="327.9" cy="570.1" r="3.85"/>
<circle cx="329.1" cy="543.3" r="3.85"/>
<circle cx="274.0" cy="586.6" r="3.85"/>
<circle cx="284.7" cy="543.5" r="3.85"/>
<circle cx="271.6" cy="606.3" r="3.85"/>
<circle cx="336.8" cy="535.1" r="3.85"/>
<circle cx="256.9" cy="631.0" r="3.85"/>
<circle cx="298.2" cy="594.6" r="3.85"/>
<circle cx="317.8" cy="528.9" r="3.85"/>
<circle cx="277.6" cy="577.8" r="3.85"/>
<circle cx="262.4" cy="589.3" r="3.85"/>
<circle cx="299.8" cy="586.0" r="3.85"/>
<circle cx="313.7" cy="592.7" r="3.85"/>
<circle cx="275.9" cy="579.1" r="3.85"/>
<circle cx="249.0" cy="697.2" r="3.85"/>
<circle cx="257.2" cy="661.8" r="3.85"/>
<circle cx="311.8" cy="523.0" r="3.85"/>
<circle cx="263.1" cy="558.2" r="3.85"/>
<circle cx="305.9" cy="584.5" r="3.85"/>
<circle cx="348.8" cy="538.5" r="3.85"/>
<circle cx="281.8" cy="613.2" r="3.85"/>
<circle cx="268.8" cy="568.0" r="3.85"/>
<circle cx="362.5" cy="572.3" r="3.85"/>
<circle cx="295.7" cy="571.1" r="3.85"/>
<circle cx="279.5" cy="541.9" r="3.85"/>
<circle cx="260.1" cy="605.5" r="3.85"/>
<circle cx="257.7" cy="624.7" r="3.85"/>
<circle cx="297.8" cy="561.2" r="3.85"/>
<circle cx="284.0" cy="591.2" r="3.85"/>
<circle cx="356.7" cy="544.9" r="3.85"/>
<circle cx="330.5" cy="581.0" r="3.85"/>
<circle cx="305.0" cy="527.7" r="3.85"/>
<circle cx="290.9" cy="588.9" r="3.85"/>
<circle cx="259.2" cy="636.6" r="3.85"/>
<circle cx="304.1" cy="574.2" r="3.85"/>
<circle cx="327.9" cy="601.7" r="3.85"/>
<circle cx="264.1" cy="598.4" r="3.85"/>
<circle cx="323.8" cy="542.4" r="3.85"/>
<circle cx="349.3" cy="533.5" r="3.85"/>
<circle cx="285.9" cy="608.0" r="3.85"/>
<circle cx="356.0" cy="538.5" r="3.85"/>
<circle cx="310.4" cy="591.9" r="3.85"/>
<circle cx="275.5" cy="580.5" r="3.85"/>
<circle cx="371.7" cy="559.2" r="3.85"/>
<circle cx="309.5" cy="586.1" r="3.85"/>
<circle cx="329.2" cy="534.0" r="3.85"/>
<circle cx="292.8" cy="576.3" r="3.85"/>
<circle cx="282.3" cy="612.0" r="3.85"/>
<circle cx="282.2" cy="607.3" r="3.85"/>
<circle cx="320.0" cy="568.1" r="3.85"/>
<circle cx="280.0" cy="617.2" r="3.85"/>
<circle cx="329.4" cy="591.1" r="3.85"/>
<circle cx="255.0" cy="658.9" r="3.85"/>
<circle cx="347.2" cy="519.1" r="3.85"/>
<circle cx="260.9" cy="623.9" r="3.85"/>
<circle cx="296.4" cy="534.6" r="3.85"/>
<circle cx="272.2" cy="640.9" r="3.85"/>
<circle cx="297.0" cy="581.7" r="3.85"/>
<circle cx="262.4" cy="630.4" r="3.85"/>
<circle cx="276.2" cy="593.7" r="3.85"/>
<circle cx="301.6" cy="511.8" r="3.85"/>
<circle cx="272.5" cy="574.9" r="3.85"/>
<circle cx="281.7" cy="536.8" r="3.85"/>
<circle cx="334.8" cy="543.9" r="3.85"/>
<circle cx="269.5" cy="645.4" r="3.85"/>
<circle cx="281.3" cy="544.0" r="3.85"/>
<circle cx="355.1" cy="570.1" r="3.85"/>
<circle cx="346.7" cy="560.2" r="3.85"/>
<circle cx="274.3" cy="597.8" r="3.85"/>
<circle cx="255.3" cy="613.2" r="3.85"/>
<circle cx="257.9" cy="627.0" r="3.85"/>
<circle cx="336.0" cy="570.0" r="3.85"/>
<circle cx="301.0" cy="573.9" r="3.85"/>
<circle cx="270.1" cy="629.0" r="3.85"/>
<circle cx="335.7" cy="537.1" r="3.85"/>
<circle cx="294.4" cy="595.6" r="3.85"/>
<circle cx="282.4" cy="604.0" r="3.85"/>
<circle cx="295.4" cy="589.0" r="3.85"/>
<circle cx="297.7" cy="583.9" r="3.85"/>
<circle cx="272.9" cy="621.7" r="3.85"/>
<circle cx="258.1" cy="635.5" r="3.85"/>
<circle cx="261.4" cy="621.0" r="3.85"/>
<circle cx="283.9" cy="530.5" r="3.85"/>
<circle cx="275.3" cy="610.6" r="3.85"/>
<circle cx="335.9" cy="551.8" r="3.85"/>
<circle cx="290.2" cy="570.9" r="3.85"/>
<circle cx="294.6" cy="564.8" r="3.85"/>
<circle cx="350.9" cy="554.2" r="3.85"/>
<circle cx="296.3" cy="574.1" r="3.85"/>
<circle cx="363.1" cy="532.5" r="3.85"/>
<circle cx="291.4" cy="604.0" r="3.85"/>
<circle cx="332.1" cy="571.1" r="3.85"/>
<circle cx="269.1" cy="571.9" r="3.85"/>
<circle cx="333.3" cy="522.6" r="3.85"/>
<circle cx="329.1" cy="573.5" r="3.85"/>
<circle cx="352.7" cy="506.4" r="3.85"/>
<circle cx="285.6" cy="574.3" r="3.85"/>
<circle cx="264.8" cy="639.1" r="3.85"/>
<circle cx="359.1" cy="559.7" r="3.85"/>
<circle cx="278.6" cy="582.0" r="3.85"/>
<circle cx="316.7" cy="580.5" r="3.85"/>
<circle cx="339.0" cy="531.2" r="3.85"/>
<circle cx="368.1" cy="486.6" r="3.85"/>
<circle cx="251.4" cy="642.5" r="3.85"/>
<circle cx="256.1" cy="606.8" r="3.85"/>
<circle cx="271.5" cy="600.4" r="3.85"/>
<circle cx="295.4" cy="530.0" r="3.85"/>
<circle cx="266.9" cy="585.7" r="3.85"/>
<circle cx="283.4" cy="575.4" r="3.85"/>
<circle cx="331.1" cy="535.7" r="3.85"/>
<circle cx="299.0" cy="592.2" r="3.85"/>
<circle cx="269.0" cy="617.0" r="3.85"/>
<circle cx="257.4" cy="660.9" r="3.85"/>
<circle cx="264.6" cy="595.2" r="3.85"/>
<circle cx="284.7" cy="568.4" r="3.85"/>
<circle cx="251.0" cy="623.4" r="3.85"/>
<circle cx="301.5" cy="563.0" r="3.85"/>
<circle cx="329.2" cy="544.2" r="3.85"/>
<circle cx="347.0" cy="595.3" r="3.85"/>
<circle cx="274.8" cy="554.4" r="3.85"/>
<circle cx="251.0" cy="599.5" r="3.85"/>
<circle cx="271.2" cy="589.6" r="3.85"/>
<circle cx="268.9" cy="566.0" r="3.85"/>
<circle cx="271.3" cy="630.1" r="3.85"/>
<circle cx="298.1" cy="557.9" r="3.85"/>
<circle cx="263.4" cy="599.3" r="3.85"/>
<circle cx="299.5" cy="549.5" r="3.85"/>
<circle cx="265.8" cy="611.4" r="3.85"/>
<circle cx="361.1" cy="546.3" r="3.85"/>
<circle cx="262.8" cy="608.9" r="3.85"/>
<circle cx="312.7" cy="590.9" r="3.85"/>
<circle cx="283.9" cy="603.4" r="3.85"/>
<circle cx="280.5" cy="617.5" r="3.85"/>
<circle cx="253.2" cy="632.8" r="3.85"/>
<circle cx="278.9" cy="562.9" r="3.85"/>
<circle cx="275.2" cy="604.4" r="3.85"/>
<circle cx="286.8" cy="614.5" r="3.85"/>
<circle cx="302.6" cy="542.0" r="3.85"/>
<circle cx="277.9" cy="610.0" r="3.85"/>
<circle cx="305.8" cy="586.2" r="3.85"/>
<circle cx="288.2" cy="611.3" r="3.85"/>
<circle cx="266.2" cy="601.1" r="3.85"/>
<circle cx="285.6" cy="527.0" r="3.85"/>
<circle cx="337.1" cy="566.0" r="3.85"/>
<circle cx="284.2" cy="582.0" r="3.85"/>
<circle cx="280.6" cy="573.4" r="3.85"/>
<circle cx="288.5" cy="579.3" r="3.85"/>
<circle cx="312.9" cy="578.0" r="3.85"/>
<circle cx="282.9" cy="594.1" r="3.85"/>
<circle cx="274.7" cy="620.1" r="3.85"/>
<circle cx="274.6" cy="620.4" r="3.85"/>
<circle cx="323.3" cy="542.2" r="3.85"/>
<circle cx="263.2" cy="606.7" r="3.85"/>
<circle cx="297.6" cy="579.4" r="3.85"/>
<circle cx="302.5" cy="551.2" r="3.85"/>
<circle cx="319.6" cy="532.1" r="3.85"/>
<circle cx="284.1" cy="579.4" r="3.85"/>
<circle cx="284.9" cy="603.8" r="3.85"/>
<circle cx="342.1" cy="563.8" r="3.85"/>
<circle cx="253.7" cy="665.9" r="3.85"/>
<circle cx="260.9" cy="627.2" r="3.85"/>
<circle cx="279.6" cy="616.8" r="3.85"/>
<circle cx="322.9" cy="562.0" r="3.85"/>
<circle cx="302.3" cy="540.2" r="3.85"/>
<circle cx="323.1" cy="585.4" r="3.85"/>
<circle cx="283.8" cy="604.7" r="3.85"/>
<circle cx="300.4" cy="580.1" r="3.85"/>
<circle cx="269.7" cy="619.1" r="3.85"/>
<circle cx="275.6" cy="622.5" r="3.85"/>
<circle cx="334.0" cy="562.3" r="3.85"/>
<circle cx="360.9" cy="521.8" r="3.85"/>
<circle cx="290.5" cy="572.2" r="3.85"/>
<circle cx="303.8" cy="578.3" r="3.85"/>
<circle cx="250.0" cy="659.5" r="3.85"/>
<circle cx="328.9" cy="495.6" r="3.85"/>
<circle cx="350.7" cy="573.9" r="3.85"/>
<circle cx="271.2" cy="577.4" r="3.85"/>
<circle cx="291.2" cy="599.1" r="3.85"/>
<circle cx="292.3" cy="541.0" r="3.85"/>
<circle cx="275.8" cy="642.1" r="3.85"/>
<circle cx="295.8" cy="570.8" r="3.85"/>
<circle cx="356.6" cy="531.6" r="3.85"/>
<circle cx="349.3" cy="505.2" r="3.85"/>
<circle cx="300.1" cy="596.3" r="3.85"/>
<circle cx="261.1" cy="649.5" r="3.85"/>
<circle cx="318.4" cy="535.7" r="3.85"/>
<circle cx="248.5" cy="668.6" r="3.85"/>
<circle cx="249.1" cy="691.8" r="3.85"/>
<circle cx="360.0" cy="553.6" r="3.85"/>
<circle cx="287.9" cy="587.1" r="3.85"/>
<circle cx="330.2" cy="576.8" r="3.85"/>
<circle cx="282.2" cy="612.9" r="3.85"/>
<circle cx="257.9" cy="641.4" r="3.85"/>
<circle cx="356.6" cy="519.7" r="3.85"/>
<circle cx="262.8" cy="603.8" r="3.85"/>
<circle cx="316.1" cy="583.0" r="3.85"/>
<circle cx="270.0" cy="595.2" r="3.85"/>
<circle cx="343.4" cy="544.3" r="3.85"/>
<circle cx="283.6" cy="613.4" r="3.85"/>
<circle cx="288.9" cy="559.0" r="3.85"/>
<circle cx="312.4" cy="533.1" r="3.85"/>
<circle cx="305.8" cy="577.0" r="3.85"/>
<circle cx="283.7" cy="616.4" r="3.85"/>
<circle cx="335.5" cy="535.6" r="3.85"/>
<circle cx="270.6" cy="599.3" r="3.85"/>
<circle cx="258.2" cy="610.4" r="3.85"/>
<circle cx="315.1" cy="562.1" r="3.85"/>
<circle cx="304.8" cy="556.2" r="3.85"/>
<circle cx="283.1" cy="572.3" r="3.85"/>
<circle cx="261.2" cy="628.4" r="3.85"/>
<circle cx="274.2" cy="538.9" r="3.85"/>
<circle cx="259.7" cy="649.5" r="3.85"/>
<circle cx="304.5" cy="542.4" r="3.85"/>
<circle cx="256.9" cy="662.3" r="3.85"/>
<circle cx="353.4" cy="511.9" r="3.85"/>
<circle cx="316.1" cy="526.8" r="3.85"/>
<circle cx="335.9" cy="510.3" r="3.85"/>
<circle cx="309.7" cy="580.7" r="3.85"/>
<circle cx="307.7" cy="583.8" r="3.85"/>
<circle cx="319.1" cy="541.7" r="3.85"/>
<circle cx="318.8" cy="581.3" r="3.85"/>
<circle cx="332.2" cy="568.6" r="3.85"/>
<circle cx="276.9" cy="598.0" r="3.85"/>
<circle cx="325.3" cy="557.0" r="3.85"/>
<circle cx="268.5" cy="620.7" r="3.85"/>
<circle cx="330.9" cy="550.5" r="3.85"/>
<circle cx="276.4" cy="589.8" r="3.85"/>
<circle cx="264.5" cy="573.9" r="3.85"/>
<circle cx="350.0" cy="561.2" r="3.85"/>
<circle cx="256.6" cy="668.2" r="3.85"/>
<circle cx="312.3" cy="539.8" r="3.85"/>
<circle cx="298.3" cy="561.1" r="3.85"/>
<circle cx="307.7" cy="589.4" r="3.85"/>
<circle cx="264.7" cy="625.8" r="3.85"/>
<circle cx="262.6" cy="604.1" r="3.85"/>
<circle cx="302.0" cy="598.4" r="3.85"/>
<circle cx="269.2" cy="616.5" r="3.85"/>
<circle cx="252.1" cy="612.7" r="3.85"/>
<circle cx="253.2" cy="623.7" r="3.85"/>
<circle cx="276.6" cy="615.0" r="3.85"/>
<circle cx="297.0" cy="581.3" r="3.85"/>
<circle cx="278.0" cy="585.1" r="3.85"/>
<circle cx="304.8" cy="547.5" r="3.85"/>
<circle cx="276.8" cy="608.5" r="3.85"/>
<circle cx="259.8" cy="649.1" r="3.85"/>
<circle cx="272.9" cy="591.8" r="3.85"/>
<circle cx="296.8" cy="577.6" r="3.85"/>
<circle cx="300.0" cy="574.3" r="3.85"/>
<circle cx="297.3" cy="588.8" r="3.85"/>
<circle cx="263.6" cy="627.8" r="3.85"/>
<circle cx="263.0" cy="639.8" r="3.85"/>
<circle cx="259.7" cy="608.8" r="3.85"/>
<circle cx="271.3" cy="604.4" r="3.85"/>
<circle cx="347.5" cy="535.5" r="3.85"/>
<circle cx="350.3" cy="499.8" r="3.85"/>
<circle cx="264.3" cy="618.8" r="3.85"/>
<circle cx="271.7" cy="585.9" r="3.85"/>
<circle cx="273.3" cy="572.0" r="3.85"/>
<circle cx="264.6" cy="636.6" r="3.85"/>
<circle cx="270.7" cy="586.1" r="3.85"/>
<circle cx="258.1" cy="630.6" r="3.85"/>
<circle cx="357.4" cy="497.9" r="3.85"/>
<circle cx="295.0" cy="588.8" r="3.85"/>
<circle cx="333.3" cy="566.8" r="3.85"/>
<circle cx="346.6" cy="516.9" r="3.85"/>
<circle cx="321.5" cy="556.1" r="3.85"/>
<circle cx="306.4" cy="597.6" r="3.85"/>
<circle cx="291.6" cy="585.6" r="3.85"/>
<circle cx="248.4" cy="673.5" r="3.85"/>
<circle cx="268.4" cy="624.1" r="3.85"/>
<circle cx="324.6" cy="507.8" r="3.85"/>
<circle cx="274.5" cy="590.8" r="3.85"/>
<circle cx="291.3" cy="581.1" r="3.85"/>
<circle cx="277.1" cy="543.3" r="3.85"/>
<circle cx="274.0" cy="613.7" r="3.85"/>
<circle cx="328.9" cy="586.7" r="3.85"/>
<circle cx="342.8" cy="541.2" r="3.85"/>
<circle cx="311.2" cy="580.1" r="3.85"/>
<circle cx="284.8" cy="608.4" r="3.85"/>
<circle cx="302.2" cy="535.0" r="3.85"/>
<circle cx="255.5" cy="610.8" r="3.85"/>
<circle cx="298.3" cy="549.3" r="3.85"/>
<circle cx="347.0" cy="536.4" r="3.85"/>
<circle cx="277.3" cy="598.8" r="3.85"/>
<circle cx="306.1" cy="571.4" r="3.85"/>
<circle cx="268.3" cy="621.4" r="3.85"/>
<circle cx="286.3" cy="610.0" r="3.85"/>
<circle cx="278.6" cy="598.9" r="3.85"/>
<circle cx="275.4" cy="574.3" r="3.85"/>
<circle cx="295.8" cy="585.4" r="3.85"/>
<circle cx="308.8" cy="590.8" r="3.85"/>
<circle cx="320.0" cy="552.9" r="3.85"/>
<circle cx="346.0" cy="544.9" r="3.85"/>
<circle cx="319.2" cy="556.8" r="3.85"/>
<circle cx="261.1" cy="640.2" r="3.85"/>
<circle cx="310.8" cy="553.4" r="3.85"/>
<circle cx="254.3" cy="635.1" r="3.85"/>
<circle cx="307.7" cy="597.4" r="3.85"/>
<circle cx="268.5" cy="607.8" r="3.85"/>
<circle cx="256.4" cy="643.3" r="3.85"/>
<circle cx="253.3" cy="625.2" r="3.85"/>
<circle cx="262.1" cy="633.5" r="3.85"/>
<circle cx="274.2" cy="623.0" r="3.85"/>
<circle cx="294.2" cy="586.1" r="3.85"/>
<circle cx="257.1" cy="602.6" r="3.85"/>
<circle cx="283.8" cy="590.7" r="3.85"/>
<circle cx="340.7" cy="569.1" r="3.85"/>
<circle cx="331.1" cy="532.2" r="3.85"/>
<circle cx="287.9" cy="525.0" r="3.85"/>
<circle cx="279.9" cy="542.4" r="3.85"/>
<circle cx="289.6" cy="593.9" r="3.85"/>
<circle cx="289.8" cy="578.1" r="3.85"/>
<circle cx="318.9" cy="568.3" r="3.85"/>
<circle cx="275.2" cy="585.8" r="3.85"/>
<circle cx="297.9" cy="526.9" r="3.85"/>
<circle cx="298.3" cy="521.1" r="3.85"/>
<circle cx="315.2" cy="533.8" r="3.85"/>
<circle cx="336.6" cy="513.4" r="3.85"/>
<circle cx="281.3" cy="598.8" r="3.85"/>
<circle cx="347.9" cy="539.7" r="3.85"/>
<circle cx="318.3" cy="540.4" r="3.85"/>
<circle cx="302.8" cy="557.6" r="3.85"/>
<circle cx="285.6" cy="562.8" r="3.85"/>
<circle cx="282.4" cy="611.7" r="3.85"/>
<circle cx="344.8" cy="572.8" r="3.85"/>
<circle cx="355.1" cy="568.2" r="3.85"/>
<circle cx="299.4" cy="573.6" r="3.85"/>
<circle cx="282.6" cy="550.6" r="3.85"/>
<circle cx="274.3" cy="587.9" r="3.85"/>
<circle cx="271.0" cy="621.2" r="3.85"/>
<circle cx="297.3" cy="558.9" r="3.85"/>
<circle cx="312.0" cy="588.1" r="3.85"/>
<circle cx="340.7" cy="530.5" r="3.85"/>
<circle cx="299.4" cy="598.1" r="3.85"/>
<circle cx="347.8" cy="567.1" r="3.85"/>
<circle cx="285.5" cy="613.0" r="3.85"/>
<circle cx="315.9" cy="597.2" r="3.85"/>
<circle cx="315.7" cy="587.4" r="3.85"/>
<circle cx="371.2" cy="550.3" r="3.85"/>
<circle cx="264.8" cy="591.0" r="3.85"/>
<circle cx="287.3" cy="594.7" r="3.85"/>
<circle cx="296.0" cy="544.8" r="3.85"/>
<circle cx="286.6" cy="600.4" r="3.85"/>
<circle cx="345.1" cy="572.5" r="3.85"/>
<circle cx="337.7" cy="563.1" r="3.85"/>
<circle cx="343.2" cy="522.5" r="3.85"/>
<circle cx="291.6" cy="550.5" r="3.85"/>
<circle cx="361.3" cy="563.2" r="3.85"/>
<circle cx="351.9" cy="573.7" r="3.85"/>
<circle cx="310.7" cy="564.0" r="3.85"/>
<circle cx="309.9" cy="549.4" r="3.85"/>
<circle cx="267.8" cy="640.2" r="3.85"/>
<circle cx="249.8" cy="649.1" r="3.85"/>
<circle cx="302.4" cy="577.7" r="3.85"/>
<circle cx="260.1" cy="589.4" r="3.85"/>
<circle cx="347.3" cy="535.8" r="3.85"/>
<circle cx="272.9" cy="620.3" r="3.85"/>
<circle cx="299.9" cy="596.9" r="3.85"/>
<circle cx="265.9" cy="605.4" r="3.85"/>
<circle cx="350.3" cy="533.8" r="3.85"/>
<circle cx="278.9" cy="607.6" r="3.85"/>
<circle cx="256.4" cy="601.1" r="3.85"/>
<circle cx="280.2" cy="600.2" r="3.85"/>
<circle cx="365.5" cy="564.7" r="3.85"/>
<circle cx="274.5" cy="606.1" r="3.85"/>
<circle cx="257.7" cy="657.0" r="3.85"/>
<circle cx="292.1" cy="526.1" r="3.85"/>
<circle cx="262.3" cy="596.1" r="3.85"/>
<circle cx="263.8" cy="638.7" r="3.85"/>
<circle cx="309.2" cy="527.0" r="3.85"/>
<circle cx="269.9" cy="605.5" r="3.85"/>
<circle cx="269.1" cy="594.9" r="3.85"/>
<circle cx="266.3" cy="629.5" r="3.85"/>
<circle cx="320.2" cy="590.6" r="3.85"/>
<circle cx="296.9" cy="603.5" r="3.85"/>
<circle cx="287.9" cy="580.0" r="3.85"/>
<circle cx="290.1" cy="581.9" r="3.85"/>
<circle cx="348.2" cy="551.5" r="3.85"/>
<circle cx="264.5" cy="636.2" r="3.85"/>
<circle cx="271.4" cy="568.7" r="3.85"/>
<circle cx="296.5" cy="587.0" r="3.85"/>
<circle cx="274.4" cy="617.3" r="3.85"/>
<circle cx="338.4" cy="563.2" r="3.85"/>
<circle cx="293.2" cy="601.6" r="3.85"/>
<circle cx="313.7" cy="543.3" r="3.85"/>
<circle cx="315.7" cy="576.7" r="3.85"/>
<circle cx="308.9" cy="567.9" r="3.85"/>
<circle cx="280.5" cy="615.2" r="3.85"/>
<circle cx="313.4" cy="591.7" r="3.85"/>
<circle cx="298.4" cy="566.1" r="3.85"/>
<circle cx="328.2" cy="582.9" r="3.85"/>
<circle cx="354.7" cy="518.2" r="3.85"/>
<circle cx="324.4" cy="577.7" r="3.85"/>
<circle cx="250.0" cy="676.2" r="3.85"/>
<circle cx="250.4" cy="672.1" r="3.85"/>
<circle cx="303.8" cy="536.2" r="3.85"/>
<circle cx="252.1" cy="639.2" r="3.85"/>
<circle cx="344.4" cy="515.2" r="3.85"/>
<circle cx="310.5" cy="568.5" r="3.85"/>
<circle cx="274.0" cy="556.8" r="3.85"/>
<circle cx="266.5" cy="551.8" r="3.85"/>
<circle cx="273.2" cy="615.1" r="3.85"/>
<circle cx="248.7" cy="646.9" r="3.85"/>
<circle cx="293.4" cy="547.4" r="3.85"/>
<circle cx="265.9" cy="595.0" r="3.85"/>
<circle cx="295.3" cy="577.2" r="3.85"/>
<circle cx="283.5" cy="599.0" r="3.85"/>
<circle cx="284.2" cy="612.9" r="3.85"/>
<circle cx="269.1" cy="596.5" r="3.85"/>
<circle cx="313.6" cy="543.5" r="3.85"/>
<circle cx="318.8" cy="561.3" r="3.85"/>
<circle cx="275.1" cy="582.6" r="3.85"/>
<circle cx="291.4" cy="568.2" r="3.85"/>
<circle cx="333.8" cy="530.8" r="3.85"/>
<circle cx="276.4" cy="564.8" r="3.85"/>
<circle cx="274.7" cy="553.5" r="3.85"/>
<circle cx="315.2" cy="569.9" r="3.85"/>
<circle cx="273.5" cy="626.5" r="3.85"/>
<circle cx="309.2" cy="531.2" r="3.85"/>
<circle cx="283.6" cy="616.4" r="3.85"/>
<circle cx="282.2" cy="584.3" r="3.85"/>
<circle cx="279.4" cy="601.3" r="3.85"/>
<circle cx="270.8" cy="586.6" r="3.85"/>
<circle cx="255.5" cy="662.1" r="3.85"/>
<circle cx="316.8" cy="584.4" r="3.85"/>
<circle cx="313.7" cy="561.9" r="3.85"/>
<circle cx="352.9" cy="534.4" r="3.85"/>
<circle cx="353.0" cy="559.9" r="3.85"/>
<circle cx="261.2" cy="602.7" r="3.85"/>
<circle cx="301.2" cy="538.0" r="3.85"/>
<circle cx="249.3" cy="665.7" r="3.85"/>
<circle cx="279.6" cy="609.4" r="3.85"/>
<circle cx="300.3" cy="543.7" r="3.85"/>
<circle cx="264.4" cy="582.0" r="3.85"/>
<circle cx="303.4" cy="526.8" r="3.85"/>
<circle cx="283.5" cy="576.1" r="3.85"/>
<circle cx="309.8" cy="560.7" r="3.85"/>
<circle cx="261.6" cy="600.3" r="3.85"/>
<circle cx="316.3" cy="587.9" r="3.85"/>
<circle cx="285.2" cy="558.4" r="3.85"/>
<circle cx="286.8" cy="571.2" r="3.85"/>
<circle cx="294.4" cy="559.3" r="3.85"/>
<circle cx="299.3" cy="580.4" r="3.85"/>
<circle cx="276.3" cy="614.9" r="3.85"/>
<circle cx="333.8" cy="516.0" r="3.85"/>
<circle cx="283.6" cy="608.4" r="3.85"/>
<circle cx="271.0" cy="565.2" r="3.85"/>
<circle cx="300.4" cy="575.8" r="3.85"/>
<circle cx="342.2" cy="534.7" r="3.85"/>
<circle cx="279.5" cy="612.2" r="3.85"/>
<circle cx="268.1" cy="561.2" r="3.85"/>
<circle cx="258.3" cy="616.5" r="3.85"/>
<circle cx="285.3" cy="540.1" r="3.85"/>
<circle cx="295.9" cy="549.0" r="3.85"/>
<circle cx="271.6" cy="588.6" r="3.85"/>
<circle cx="319.4" cy="591.4" r="3.85"/>
<circle cx="284.8" cy="538.0" r="3.85"/>
<circle cx="276.3" cy="616.9" r="3.85"/>
<circle cx="266.7" cy="596.5" r="3.85"/>
<circle cx="297.2" cy="601.1" r="3.85"/>
<circle cx="256.7" cy="616.5" r="3.85"/>
<circle cx="281.2" cy="561.6" r="3.85"/>
<circle cx="329.3" cy="582.3" r="3.85"/>
<circle cx="268.4" cy="614.6" r="3.85"/>
<circle cx="294.0" cy="584.7" r="3.85"/>
<circle cx="322.0" cy="530.2" r="3.85"/>
<circle cx="261.0" cy="635.1" r="3.85"/>
<circle cx="312.4" cy="553.2" r="3.85"/>
<circle cx="343.0" cy="579.1" r="3.85"/>
<circle cx="266.1" cy="636.1" r="3.85"/>
<circle cx="334.1" cy="560.3" r="3.85"/>
<circle cx="303.9" cy="593.9" r="3.85"/>
<circle cx="263.5" cy="591.2" r="3.85"/>
<circle cx="256.9" cy="605.2" r="3.85"/>
<circle cx="254.5" cy="646.8" r="3.85"/>
<circle cx="269.0" cy="573.9" r="3.85"/>
<circle cx="308.8" cy="580.7" r="3.85"/>
<circle cx="269.3" cy="605.6" r="3.85"/>
<circle cx="272.2" cy="588.2" r="3.85"/>
<circle cx="347.5" cy="537.8" r="3.85"/>
<circle cx="278.0" cy="582.2" r="3.85"/>
<circle cx="263.2" cy="628.1" r="3.85"/>
<circle cx="309.1" cy="574.6" r="3.85"/>
<circle cx="353.9" cy="575.9" r="3.85"/>
<circle cx="276.0" cy="637.5" r="3.85"/>
<circle cx="311.6" cy="528.9" r="3.85"/>
<circle cx="292.9" cy="549.8" r="3.85"/>
<circle cx="272.7" cy="603.1" r="3.85"/>
<circle cx="270.6" cy="605.9" r="3.85"/>
<circle cx="253.4" cy="595.5" r="3.85"/>
<circle cx="312.0" cy="519.4" r="3.85"/>
<circle cx="288.7" cy="541.2" r="3.85"/>
<circle cx="249.8" cy="650.3" r="3.85"/>
<circle cx="297.4" cy="530.1" r="3.85"/>
<circle cx="354.1" cy="550.0" r="3.85"/>
<circle cx="343.0" cy="560.1" r="3.85"/>
<circle cx="320.6" cy="590.3" r="3.85"/>
<circle cx="259.6" cy="596.2" r="3.85"/>
<circle cx="305.4" cy="526.8" r="3.85"/>
<circle cx="304.0" cy="601.8" r="3.85"/>
<circle cx="294.1" cy="565.9" r="3.85"/>
<circle cx="328.8" cy="551.9" r="3.85"/>
<circle cx="324.6" cy="546.0" r="3.85"/>
<circle cx="252.3" cy="676.8" r="3.85"/>
<circle cx="357.3" cy="570.7" r="3.85"/>
<circle cx="366.4" cy="557.8" r="3.85"/>
<circle cx="295.3" cy="561.9" r="3.85"/>
<circle cx="290.9" cy="537.6" r="3.85"/>
<circle cx="346.2" cy="557.0" r="3.85"/>
<circle cx="280.4" cy="614.9" r="3.85"/>
<circle cx="277.2" cy="603.8" r="3.85"/>
<circle cx="317.8" cy="586.8" r="3.85"/>
<circle cx="279.3" cy="566.4" r="3.85"/>
<circle cx="286.2" cy="556.3" r="3.85"/>
<circle cx="253.8" cy="634.2" r="3.85"/>
<circle cx="286.9" cy="611.1" r="3.85"/>
<circle cx="259.0" cy="595.4" r="3.85"/>
<circle cx="272.1" cy="586.7" r="3.85"/>
<circle cx="252.0" cy="661.2" r="3.85"/>
<circle cx="342.5" cy="538.0" r="3.85"/>
<circle cx="278.3" cy="608.0" r="3.85"/>
<circle cx="358.5" cy="524.4" r="3.85"/>
<circle cx="267.7" cy="583.7" r="3.85"/>
<circle cx="305.8" cy="590.3" r="3.85"/>
<circle cx="296.2" cy="559.4" r="3.85"/>
<circle cx="328.0" cy="522.6" r="3.85"/>
<circle cx="303.5" cy="595.4" r="3.85"/>
<circle cx="285.9" cy="610.1" r="3.85"/>
<circle cx="266.4" cy="614.0" r="3.85"/>
<circle cx="263.2" cy="556.3" r="3.85"/>
<circle cx="294.4" cy="583.1" r="3.85"/>
<circle cx="311.5" cy="528.1" r="3.85"/>
<circle cx="257.2" cy="629.7" r="3.85"/>
<circle cx="341.2" cy="494.5" r="3.85"/>
<circle cx="318.4" cy="567.1" r="3.85"/>
<circle cx="260.4" cy="619.8" r="3.85"/>
<circle cx="268.9" cy="556.2" r="3.85"/>
<circle cx="351.2" cy="514.5" r="3.85"/>
<circle cx="302.6" cy="577.3" r="3.85"/>
<circle cx="367.0" cy="507.4" r="3.85"/>
<circle cx="274.6" cy="537.0" r="3.85"/>
<circle cx="320.4" cy="561.2" r="3.85"/>
<circle cx="296.9" cy="603.4" r="3.85"/>
<circle cx="253.8" cy="647.3" r="3.85"/>
<circle cx="311.4" cy="529.7" r="3.85"/>
<circle cx="294.3" cy="604.6" r="3.85"/>
<circle cx="306.9" cy="568.6" r="3.85"/>
<circle cx="325.6" cy="590.1" r="3.85"/>
<circle cx="263.9" cy="618.1" r="3.85"/>
<circle cx="280.0" cy="601.7" r="3.85"/>
<circle cx="306.8" cy="549.3" r="3.85"/>
<circle cx="343.9" cy="559.0" r="3.85"/>
<circle cx="345.5" cy="583.9" r="3.85"/>
<circle cx="309.9" cy="588.9" r="3.85"/>
<circle cx="283.3" cy="582.7" r="3.85"/>
<circle cx="276.7" cy="607.4" r="3.85"/>
<circle cx="308.1" cy="554.2" r="3.85"/>
<circle cx="286.7" cy="557.9" r="3.85"/>
<circle cx="320.9" cy="510.8" r="3.85"/>
<circle cx="312.5" cy="541.2" r="3.85"/>
<circle cx="314.6" cy="587.0" r="3.85"/>
<circle cx="281.4" cy="563.9" r="3.85"/>
<circle cx="281.0" cy="562.5" r="3.85"/>
<circle cx="310.8" cy="511.6" r="3.85"/>
<circle cx="363.1" cy="511.4" r="3.85"/>
<circle cx="322.8" cy="536.2" r="3.85"/>
<circle cx="346.3" cy="539.8" r="3.85"/>
<circle cx="288.4" cy="533.5" r="3.85"/>
<circle cx="310.4" cy="587.9" r="3.85"/>
<circle cx="285.9" cy="593.1" r="3.85"/>
<circle cx="297.0" cy="574.7" r="3.85"/>
<circle cx="316.2" cy="517.4" r="3.85"/>
<circle cx="280.6" cy="588.1" r="3.85"/>
<circle cx="339.0" cy="552.4" r="3.85"/>
<circle cx="251.5" cy="653.6" r="3.85"/>
<circle cx="292.0" cy="553.8" r="3.85"/>
<circle cx="259.4" cy="625.5" r="3.85"/>
<circle cx="288.3" cy="563.8" r="3.85"/>
<circle cx="295.2" cy="553.5" r="3.85"/>
<circle cx="333.1" cy="585.1" r="3.85"/>
<circle cx="282.4" cy="579.8" r="3.85"/>
<circle cx="328.7" cy="536.0" r="3.85"/>
<circle cx="341.9" cy="516.4" r="3.85"/>
<circle cx="276.4" cy="571.4" r="3.85"/>
<circle cx="314.4" cy="566.1" r="3.85"/>
<circle cx="288.4" cy="553.9" r="3.85"/>
<circle cx="254.9" cy="651.3" r="3.85"/>
<circle cx="250.1" cy="667.2" r="3.85"/>
<circle cx="351.0" cy="549.1" r="3.85"/>
<circle cx="333.2" cy="548.2" r="3.85"/>
<circle cx="289.5" cy="573.8" r="3.85"/>
<circle cx="285.0" cy="547.5" r="3.85"/>
<circle cx="250.5" cy="663.1" r="3.85"/>
<circle cx="250.9" cy="699.3" r="3.85"/>
<circle cx="254.0" cy="668.4" r="3.85"/>
<circle cx="340.4" cy="547.5" r="3.85"/>
<circle cx="303.6" cy="560.2" r="3.85"/>
<circle cx="259.0" cy="561.0" r="3.85"/>
<circle cx="307.2" cy="589.4" r="3.85"/>
<circle cx="272.9" cy="552.7" r="3.85"/>
<circle cx="318.5" cy="541.3" r="3.85"/>
<circle cx="338.6" cy="517.6" r="3.85"/>
<circle cx="329.5" cy="513.1" r="3.85"/>
<circle cx="252.0" cy="623.2" r="3.85"/>
<circle cx="263.4" cy="636.9" r="3.85"/>
<circle cx="327.7" cy="539.2" r="3.85"/>
<circle cx="297.7" cy="597.4" r="3.85"/>
<circle cx="301.1" cy="600.8" r="3.85"/>
<circle cx="318.3" cy="544.7" r="3.85"/>
<circle cx="307.6" cy="574.8" r="3.85"/>
<circle cx="336.1" cy="561.0" r="3.85"/>
<circle cx="288.5" cy="585.5" r="3.85"/>
<circle cx="266.1" cy="604.0" r="3.85"/>
<circle cx="328.9" cy="507.2" r="3.85"/>
<circle cx="304.7" cy="516.4" r="3.85"/>
<circle cx="302.6" cy="595.2" r="3.85"/>
<circle cx="306.9" cy="595.9" r="3.85"/>
<circle cx="264.2" cy="599.5" r="3.85"/>
<circle cx="311.0" cy="539.4" r="3.85"/>
<circle cx="256.2" cy="621.8" r="3.85"/>
<circle cx="257.4" cy="608.4" r="3.85"/>
<circle cx="291.3" cy="571.9" r="3.85"/>
<circle cx="293.5" cy="605.6" r="3.85"/>
<circle cx="307.3" cy="552.6" r="3.85"/>
<circle cx="311.0" cy="549.3" r="3.85"/>
<circle cx="264.1" cy="565.7" r="3.85"/>
<circle cx="268.1" cy="562.0" r="3.85"/>
<circle cx="306.8" cy="576.0" r="3.85"/>
<circle cx="320.3" cy="557.9" r="3.85"/>
<circle cx="272.6" cy="624.6" r="3.85"/>
<circle cx="336.9" cy="571.6" r="3.85"/>
<circle cx="329.8" cy="503.4" r="3.85"/>
<circle cx="316.5" cy="572.0" r="3.85"/>
<circle cx="294.5" cy="600.9" r="3.85"/>
<circle cx="280.9" cy="556.4" r="3.85"/>
<circle cx="258.1" cy="656.1" r="3.85"/>
<circle cx="310.8" cy="569.9" r="3.85"/>
<circle cx="260.1" cy="593.5" r="3.85"/>
<circle cx="253.4" cy="671.4" r="3.85"/>
<circle cx="347.3" cy="572.6" r="3.85"/>
<circle cx="314.3" cy="557.5" r="3.85"/>
<circle cx="289.2" cy="568.5" r="3.85"/>
<circle cx="357.7" cy="573.0" r="3.85"/>
<circle cx="280.4" cy="529.7" r="3.85"/>
<circle cx="320.2" cy="582.3" r="3.85"/>
<circle cx="279.8" cy="597.0" r="3.85"/>
<circle cx="294.6" cy="598.6" r="3.85"/>
<circle cx="268.1" cy="628.8" r="3.85"/>
<circle cx="261.8" cy="609.8" r="3.85"/>
<circle cx="328.9" cy="581.1" r="3.85"/>
<circle cx="330.4" cy="547.3" r="3.85"/>
<circle cx="273.3" cy="601.4" r="3.85"/>
<circle cx="259.8" cy="650.6" r="3.85"/>
<circle cx="345.0" cy="491.5" r="3.85"/>
<circle cx="335.5" cy="546.2" r="3.85"/>
<circle cx="258.9" cy="652.4" r="3.85"/>
<circle cx="351.0" cy="551.4" r="3.85"/>
<circle cx="336.0" cy="577.8" r="3.85"/>
<circle cx="260.9" cy="611.8" r="3.85"/>
<circle cx="283.0" cy="545.0" r="3.85"/>
<circle cx="288.6" cy="589.0" r="3.85"/>
<circle cx="279.5" cy="616.8" r="3.85"/>
<circle cx="286.7" cy="595.0" r="3.85"/>
<circle cx="272.7" cy="581.5" r="3.85"/>
<circle cx="297.1" cy="592.9" r="3.85"/>
<circle cx="276.7" cy="610.3" r="3.85"/>
<circle cx="304.2" cy="513.6" r="3.85"/>
<circle cx="282.5" cy="538.7" r="3.85"/>
<circle cx="339.1" cy="527.3" r="3.85"/>
<circle cx="254.2" cy="637.2" r="3.85"/>
<circle cx="301.4" cy="565.1" r="3.85"/>
<circle cx="253.1" cy="645.3" r="3.85"/>
<circle cx="316.6" cy="532.7" r="3.85"/>
<circle cx="291.9" cy="568.3" r="3.85"/>
<circle cx="262.1" cy="585.4" r="3.85"/>
<circle cx="319.5" cy="543.9" r="3.85"/>
<circle cx="296.4" cy="570.7" r="3.85"/>
<circle cx="272.2" cy="583.0" r="3.85"/>
<circle cx="251.3" cy="615.9" r="3.85"/>
<circle cx="261.4" cy="623.1" r="3.85"/>
<circle cx="249.5" cy="700.6" r="3.85"/>
<circle cx="361.2" cy="555.8" r="3.85"/>
<circle cx="312.2" cy="575.4" r="3.85"/>
<circle cx="340.8" cy="541.2" r="3.85"/>
<circle cx="284.5" cy="578.5" r="3.85"/>
<circle cx="259.8" cy="611.3" r="3.85"/>
<circle cx="287.4" cy="577.1" r="3.85"/>
<circle cx="295.7" cy="596.3" r="3.85"/>
<circle cx="257.5" cy="605.1" r="3.85"/>
<circle cx="335.7" cy="539.2" r="3.85"/>
<circle cx="346.2" cy="521.1" r="3.85"/>
<circle cx="283.0" cy="542.4" r="3.85"/>
<circle cx="350.9" cy="566.6" r="3.85"/>
<circle cx="327.2" cy="553.5" r="3.85"/>
<circle cx="253.1" cy="675.4" r="3.85"/>
<circle cx="274.0" cy="574.2" r="3.85"/>
<circle cx="313.2" cy="589.0" r="3.85"/>
<circle cx="274.2" cy="604.9" r="3.85"/>
<circle cx="277.1" cy="609.1" r="3.85"/>
<circle cx="255.1" cy="657.9" r="3.85"/>
<circle cx="267.1" cy="590.6" r="3.85"/>
<circle cx="312.6" cy="582.4" r="3.85"/>
<circle cx="325.9" cy="567.8" r="3.85"/>
<circle cx="269.1" cy="625.5" r="3.85"/>
<circle cx="263.9" cy="588.3" r="3.85"/>
<circle cx="261.1" cy="629.3" r="3.85"/>
<circle cx="328.7" cy="577.8" r="3.85"/>
<circle cx="258.6" cy="639.0" r="3.85"/>
<circle cx="270.4" cy="618.8" r="3.85"/>
<circle cx="313.9" cy="534.7" r="3.85"/>
<circle cx="318.8" cy="580.0" r="3.85"/>
<circle cx="258.7" cy="650.9" r="3.85"/>
<circle cx="268.6" cy="632.4" r="3.85"/>
<circle cx="317.3" cy="566.6" r="3.85"/>
<circle cx="273.8" cy="535.8" r="3.85"/>
<circle cx="264.1" cy="614.7" r="3.85"/>
<circle cx="305.8" cy="538.9" r="3.85"/>
<circle cx="360.0" cy="563.5" r="3.85"/>
<circle cx="265.2" cy="646.3" r="3.85"/>
<circle cx="347.6" cy="524.6" r="3.85"/>
<circle cx="276.3" cy="609.7" r="3.85"/>
<circle cx="367.8" cy="520.4" r="3.85"/>
<circle cx="362.0" cy="521.0" r="3.85"/>
<circle cx="267.4" cy="627.8" r="3.85"/>
<circle cx="249.8" cy="681.4" r="3.85"/>
<circle cx="285.2" cy="573.8" r="3.85"/>
<circle cx="332.3" cy="567.2" r="3.85"/>
<circle cx="304.1" cy="540.1" r="3.85"/>
<circle cx="299.8" cy="590.5" r="3.85"/>
<circle cx="304.2" cy="563.2" r="3.85"/>
<circle cx="311.0" cy="519.0" r="3.85"/>
<circle cx="271.9" cy="612.3" r="3.85"/>
<circle cx="267.2" cy="577.5" r="3.85"/>
<circle cx="290.2" cy="603.0" r="3.85"/>
<circle cx="288.1" cy="555.6" r="3.85"/>
<circle cx="320.7" cy="556.3" r="3.85"/>
<circle cx="252.9" cy="668.2" r="3.85"/>
<circle cx="300.8" cy="598.1" r="3.85"/>
<circle cx="331.0" cy="489.9" r="3.85"/>
<circle cx="333.5" cy="553.6" r="3.85"/>
<circle cx="305.9" cy="583.0" r="3.85"/>
<circle cx="325.3" cy="588.6" r="3.85"/>
<circle cx="279.9" cy="619.2" r="3.85"/>
<circle cx="264.8" cy="605.7" r="3.85"/>
<circle cx="299.9" cy="572.4" r="3.85"/>
<circle cx="363.4" cy="560.5" r="3.85"/>
<circle cx="340.2" cy="560.9" r="3.85"/>
<circle cx="274.9" cy="559.0" r="3.85"/>
<circle cx="286.3" cy="609.3" r="3.85"/>
<circle cx="283.8" cy="573.0" r="3.85"/>
<circle cx="269.8" cy="609.2" r="3.85"/>
<circle cx="324.9" cy="575.3" r="3.85"/>
<circle cx="274.1" cy="555.6" r="3.85"/>
<circle cx="281.0" cy="612.7" r="3.85"/>
<circle cx="285.1" cy="545.8" r="3.85"/>
<circle cx="308.5" cy="577.9" r="3.85"/>
<circle cx="296.2" cy="536.3" r="3.85"/>
<circle cx="286.0" cy="525.1" r="3.85"/>
<circle cx="296.1" cy="624.8" r="3.85"/>
<circle cx="350.6" cy="586.6" r="3.85"/>
<circle cx="272.5" cy="613.8" r="3.85"/>
<circle cx="248.7" cy="664.5" r="3.85"/>
<circle cx="340.2" cy="551.6" r="3.85"/>
<circle cx="249.8" cy="693.5" r="3.85"/>
<circle cx="273.2" cy="622.4" r="3.85"/>
<circle cx="291.8" cy="581.0" r="3.85"/>
<circle cx="338.2" cy="554.4" r="3.85"/>
<circle cx="285.2" cy="575.6" r="3.85"/>
<circle cx="318.9" cy="584.3" r="3.85"/>
<circle cx="297.8" cy="556.9" r="3.85"/>
<circle cx="341.4" cy="570.8" r="3.85"/>
<circle cx="299.4" cy="596.0" r="3.85"/>
<circle cx="276.5" cy="615.3" r="3.85"/>
<circle cx="254.3" cy="632.7" r="3.85"/>
<circle cx="356.1" cy="515.9" r="3.85"/>
<circle cx="277.3" cy="617.4" r="3.85"/>
<circle cx="314.8" cy="551.2" r="3.85"/>
<circle cx="270.2" cy="615.4" r="3.85"/>
<circle cx="285.8" cy="568.0" r="3.85"/>
<circle cx="254.0" cy="666.2" r="3.85"/>
<circle cx="279.3" cy="600.7" r="3.85"/>
<circle cx="293.4" cy="579.6" r="3.85"/>
<circle cx="358.1" cy="577.7" r="3.85"/>
<circle cx="268.0" cy="559.8" r="3.85"/>
<circle cx="286.7" cy="541.0" r="3.85"/>
<circle cx="323.9" cy="567.7" r="3.85"/>
<circle cx="266.3" cy="583.9" r="3.85"/>
<circle cx="264.0" cy="627.8" r="3.85"/>
<circle cx="292.1" cy="567.6" r="3.85"/>
<circle cx="311.5" cy="564.0" r="3.85"/>
<circle cx="275.1" cy="589.1" r="3.85"/>
<circle cx="271.7" cy="579.7" r="3.85"/>
<circle cx="265.6" cy="589.6" r="3.85"/>
<circle cx="276.7" cy="618.4" r="3.85"/>
<circle cx="265.4" cy="620.5" r="3.85"/>
<circle cx="287.9" cy="532.4" r="3.85"/>
<circle cx="322.7" cy="573.4" r="3.85"/>
<circle cx="268.2" cy="562.5" r="3.85"/>
<circle cx="299.7" cy="603.1" r="3.85"/>
<circle cx="260.9" cy="634.8" r="3.85"/>
<circle cx="312.7" cy="581.6" r="3.85"/>
<circle cx="283.6" cy="593.3" r="3.85"/>
<circle cx="262.6" cy="645.8" r="3.85"/>
<circle cx="321.9" cy="542.1" r="3.85"/>
<circle cx="328.5" cy="512.2" r="3.85"/>
<circle cx="254.7" cy="621.1" r="3.85"/>
<circle cx="271.3" cy="608.8" r="3.85"/>
<circle cx="321.8" cy="549.3" r="3.85"/>
<circle cx="286.8" cy="612.3" r="3.85"/>
<circle cx="287.6" cy="604.4" r="3.85"/>
<circle cx="290.9" cy="595.0" r="3.85"/>
<circle cx="297.5" cy="600.5" r="3.85"/>
<circle cx="276.4" cy="601.1" r="3.85"/>
<circle cx="364.9" cy="507.6" r="3.85"/>
<circle cx="349.8" cy="504.9" r="3.85"/>
<circle cx="276.6" cy="548.2" r="3.85"/>
<circle cx="352.2" cy="523.5" r="3.85"/>
<circle cx="281.3" cy="569.9" r="3.85"/>
<circle cx="281.2" cy="571.7" r="3.85"/>
<circle cx="301.2" cy="600.2" r="3.85"/>
<circle cx="318.2" cy="571.4" r="3.85"/>
<circle cx="286.5" cy="607.1" r="3.85"/>
<circle cx="314.4" cy="590.1" r="3.85"/>
<circle cx="292.9" cy="589.8" r="3.85"/>
<circle cx="293.1" cy="594.3" r="3.85"/>
<circle cx="297.3" cy="575.4" r="3.85"/>
<circle cx="285.0" cy="542.1" r="3.85"/>
<circle cx="337.2" cy="581.6" r="3.85"/>
<circle cx="302.3" cy="572.2" r="3.85"/>
<circle cx="253.1" cy="584.6" r="3.85"/>
<circle cx="326.6" cy="542.0" r="3.85"/>
<circle cx="252.1" cy="683.1" r="3.85"/>
<circle cx="292.0" cy="574.5" r="3.85"/>
<circle cx="257.8" cy="646.7" r="3.85"/>
<circle cx="282.6" cy="569.3" r="3.85"/>
<circle cx="274.0" cy="603.6" r="3.85"/>
<circle cx="303.3" cy="545.9" r="3.85"/>
<circle cx="350.1" cy="515.1" r="3.85"/>
<circle cx="304.8" cy="587.0" r="3.85"/>
<circle cx="302.5" cy="549.5" r="3.85"/>
<circle cx="303.7" cy="597.9" r="3.85"/>
<circle cx="261.8" cy="574.1" r="3.85"/>
<circle cx="367.7" cy="541.5" r="3.85"/>
<circle cx="423.2" cy="546.2" r="3.85"/>
<circle cx="414.0" cy="536.0" r="3.85"/>
<circle cx="390.4" cy="529.0" r="3.85"/>
<circle cx="447.2" cy="525.6" r="3.85"/>
<circle cx="390.8" cy="543.0" r="3.85"/>
<circle cx="500.3" cy="498.0" r="3.85"/>
<circle cx="386.4" cy="528.0" r="3.85"/>
<circle cx="382.7" cy="519.5" r="3.85"/>
<circle cx="474.9" cy="514.6" r="3.85"/>
<circle cx="432.3" cy="516.6" r="3.85"/>
<circle cx="463.8" cy="504.2" r="3.85"/>
<circle cx="479.6" cy="535.2" r="3.85"/>
<circle cx="396.8" cy="510.4" r="3.85"/>
<circle cx="418.6" cy="529.7" r="3.85"/>
<circle cx="447.1" cy="517.7" r="3.85"/>
<circle cx="427.9" cy="530.2" r="3.85"/>
<circle cx="489.4" cy="489.5" r="3.85"/>
<circle cx="448.7" cy="532.4" r="3.85"/>
<circle cx="389.9" cy="510.8" r="3.85"/>
<circle cx="376.8" cy="542.4" r="3.85"/>
<circle cx="479.4" cy="512.6" r="3.85"/>
<circle cx="479.2" cy="530.8" r="3.85"/>
<circle cx="393.1" cy="536.5" r="3.85"/>
<circle cx="371.2" cy="531.0" r="3.85"/>
<circle cx="379.0" cy="536.5" r="3.85"/>
<circle cx="374.3" cy="531.8" r="3.85"/>
<circle cx="489.7" cy="521.1" r="3.85"/>
<circle cx="503.8" cy="495.3" r="3.85"/>
<circle cx="395.6" cy="522.8" r="3.85"/>
<circle cx="391.9" cy="520.5" r="3.85"/>
<circle cx="500.1" cy="524.0" r="3.85"/>
<circle cx="446.9" cy="507.3" r="3.85"/>
<circle cx="439.4" cy="516.4" r="3.85"/>
<circle cx="413.8" cy="508.9" r="3.85"/>
<circle cx="398.3" cy="526.1" r="3.85"/>
<circle cx="473.7" cy="518.7" r="3.85"/>
<circle cx="449.3" cy="544.8" r="3.85"/>
<circle cx="459.9" cy="512.5" r="3.85"/>
<circle cx="436.4" cy="525.1" r="3.85"/>
<circle cx="449.2" cy="517.3" r="3.85"/>
<circle cx="451.0" cy="520.5" r="3.85"/>
<circle cx="489.3" cy="519.3" r="3.85"/>
<circle cx="415.8" cy="518.2" r="3.85"/>
<circle cx="381.4" cy="512.5" r="3.85"/>
<circle cx="459.4" cy="529.2" r="3.85"/>
<circle cx="382.2" cy="532.1" r="3.85"/>
<circle cx="459.4" cy="505.9" r="3.85"/>
<circle cx="380.7" cy="537.7" r="3.85"/>
<circle cx="415.2" cy="533.9" r="3.85"/>
<circle cx="377.7" cy="511.8" r="3.85"/>
<circle cx="398.6" cy="530.7" r="3.85"/>
<circle cx="390.9" cy="525.8" r="3.85"/>
<circle cx="421.4" cy="542.8" r="3.85"/>
<circle cx="434.9" cy="509.0" r="3.85"/>
<circle cx="377.2" cy="544.6" r="3.85"/>
<circle cx="500.7" cy="505.7" r="3.85"/>
<circle cx="448.9" cy="542.2" r="3.85"/>
<circle cx="473.0" cy="528.1" r="3.85"/>
<circle cx="403.8" cy="533.4" r="3.85"/>
<circle cx="459.7" cy="514.0" r="3.85"/>
<circle cx="410.1" cy="534.0" r="3.85"/>
<circle cx="445.8" cy="535.3" r="3.85"/>
<circle cx="479.1" cy="506.3" r="3.85"/>
<circle cx="387.0" cy="529.9" r="3.85"/>
<circle cx="393.2" cy="525.3" r="3.85"/>
<circle cx="351.5" cy="447.3" r="3.85"/>
<circle cx="317.4" cy="426.5" r="3.85"/>
<circle cx="360.8" cy="450.7" r="3.85"/>
<circle cx="362.9" cy="400.2" r="3.85"/>
<circle cx="326.3" cy="431.1" r="3.85"/>
<circle cx="316.1" cy="421.0" r="3.85"/>
<circle cx="283.3" cy="443.9" r="3.85"/>
<circle cx="302.7" cy="441.2" r="3.85"/>
<circle cx="296.5" cy="430.0" r="3.85"/>
<circle cx="296.8" cy="484.3" r="3.85"/>
<circle cx="336.3" cy="465.8" r="3.85"/>
<circle cx="327.3" cy="386.9" r="3.85"/>
<circle cx="303.8" cy="473.9" r="3.85"/>
<circle cx="280.0" cy="503.4" r="3.85"/>
<circle cx="293.3" cy="459.5" r="3.85"/>
<circle cx="361.2" cy="389.8" r="3.85"/>
<circle cx="290.1" cy="479.4" r="3.85"/>
<circle cx="264.9" cy="451.1" r="3.85"/>
<circle cx="336.1" cy="458.8" r="3.85"/>
<circle cx="272.3" cy="423.9" r="3.85"/>
<circle cx="259.8" cy="446.4" r="3.85"/>
<circle cx="285.6" cy="464.4" r="3.85"/>
<circle cx="403.8" cy="266.2" r="3.85"/>
<circle cx="347.7" cy="286.6" r="3.85"/>
<circle cx="293.2" cy="307.0" r="3.85"/>
<circle cx="453.2" cy="321.3" r="3.85"/>
<circle cx="275.2" cy="369.5" r="3.85"/>
<circle cx="377.0" cy="375.6" r="3.85"/>
<circle cx="510.9" cy="159.5" r="3.85"/>
<circle cx="741.7" cy="102.5" r="3.85"/>
<circle cx="557.4" cy="425.1" r="3.85"/>
<circle cx="1460.0" cy="146.0" r="3.85"/>
<circle cx="488.0" cy="554.5" r="3.85"/>
<circle cx="519.2" cy="551.6" r="3.85"/>
<circle cx="582.6" cy="546.2" r="3.85"/>
<circle cx="937.2" cy="575.2" r="3.85"/>
<circle cx="1739.6" cy="560.7" r="3.85"/>
<circle cx="773.9" cy="498.0" r="3.85"/>
<circle cx="777.5" cy="501.6" r="3.85"/>
<circle cx="784.4" cy="492.1" r="3.85"/>
<circle cx="799.3" cy="485.4" r="3.85"/>
<circle cx="780.0" cy="501.8" r="3.85"/>
<circle cx="804.6" cy="509.7" r="3.85"/>
<circle cx="795.8" cy="520.2" r="3.85"/>
<circle cx="847.7" cy="484.2" r="3.85"/>
<circle cx="861.8" cy="490.0" r="3.85"/>
<circle cx="857.4" cy="504.0" r="3.85"/>
<circle cx="845.0" cy="521.1" r="3.85"/>
<circle cx="885.5" cy="490.0" r="3.85"/>
<circle cx="885.1" cy="535.2" r="3.85"/>
<circle cx="904.0" cy="486.5" r="3.85"/>
<circle cx="911.5" cy="507.9" r="3.85"/>
<circle cx="909.8" cy="529.0" r="3.85"/>
<circle cx="955.8" cy="502.6" r="3.85"/>
<circle cx="969.0" cy="516.4" r="3.85"/>
<circle cx="996.6" cy="490.3" r="3.85"/>
<circle cx="1012.1" cy="491.2" r="3.85"/>
<circle cx="1034.1" cy="491.2" r="3.85"/>
<circle cx="982.2" cy="527.6" r="3.85"/>
<circle cx="991.9" cy="529.0" r="3.85"/>
<circle cx="994.5" cy="519.3" r="3.85"/>
<circle cx="1043.7" cy="509.7" r="3.85"/>
<circle cx="1056.9" cy="503.5" r="3.85"/>
<circle cx="1061.7" cy="498.2" r="3.85"/>
<circle cx="1080.3" cy="529.0" r="3.85"/>
<circle cx="1092.1" cy="503.5" r="3.85"/>
<circle cx="1098.2" cy="526.4" r="3.85"/>
<circle cx="1131.5" cy="455.2" r="3.85"/>
<circle cx="1104.6" cy="477.1" r="3.85"/>
<circle cx="1131.9" cy="475.4" r="3.85"/>
<circle cx="1145.4" cy="470.1" r="3.85"/>
<circle cx="1141.2" cy="478.9" r="3.85"/>
<circle cx="1168.3" cy="471.0" r="3.85"/>
<circle cx="1161.2" cy="484.2" r="3.85"/>
<circle cx="1165.3" cy="488.9" r="3.85"/>
<circle cx="1183.7" cy="482.4" r="3.85"/>
<circle cx="1181.6" cy="486.8" r="3.85"/>
<circle cx="1104.6" cy="490.3" r="3.85"/>
<circle cx="1114.8" cy="496.0" r="3.85"/>
<circle cx="1127.1" cy="496.5" r="3.85"/>
<circle cx="1154.7" cy="492.1" r="3.85"/>
<circle cx="1167.9" cy="496.0" r="3.85"/>
<circle cx="1177.6" cy="503.5" r="3.85"/>
<circle cx="1195.2" cy="494.7" r="3.85"/>
<circle cx="1195.2" cy="500.5" r="3.85"/>
<circle cx="1206.9" cy="487.7" r="3.85"/>
<circle cx="1215.0" cy="480.7" r="3.85"/>
<circle cx="1217.1" cy="487.7" r="3.85"/>
<circle cx="1228.6" cy="497.4" r="3.85"/>
<circle cx="1236.1" cy="490.3" r="3.85"/>
<circle cx="1211.0" cy="504.0" r="3.85"/>
<circle cx="1211.9" cy="510.5" r="3.85"/>
<circle cx="1092.0" cy="503.5" r="3.85"/>
<circle cx="1106.4" cy="507.0" r="3.85"/>
<circle cx="1108.1" cy="514.1" r="3.85"/>
<circle cx="1124.5" cy="511.4" r="3.85"/>
<circle cx="1118.7" cy="516.7" r="3.85"/>
<circle cx="1119.0" cy="522.0" r="3.85"/>
<circle cx="1101.6" cy="526.7" r="3.85"/>
<circle cx="1123.1" cy="529.0" r="3.85"/>
<circle cx="1145.4" cy="508.8" r="3.85"/>
<circle cx="1157.4" cy="511.1" r="3.85"/>
<circle cx="1153.5" cy="516.4" r="3.85"/>
<circle cx="1156.5" cy="526.4" r="3.85"/>
<circle cx="1173.2" cy="517.6" r="3.85"/>
<circle cx="1201.0" cy="516.7" r="3.85"/>
<circle cx="1247.9" cy="485.4" r="3.85"/>
<circle cx="1250.2" cy="495.6" r="3.85"/>
<circle cx="1240.9" cy="501.2" r="3.85"/>
<circle cx="1259.0" cy="506.5" r="3.85"/>
<circle cx="1263.4" cy="485.4" r="3.85"/>
<circle cx="1272.5" cy="486.5" r="3.85"/>
<circle cx="1272.5" cy="467.5" r="3.85"/>
<circle cx="1283.1" cy="488.6" r="3.85"/>
<circle cx="1290.6" cy="486.3" r="3.85"/>
<circle cx="1281.3" cy="495.6" r="3.85"/>
<circle cx="1286.6" cy="501.2" r="3.85"/>
<circle cx="1269.5" cy="511.1" r="3.85"/>
<circle cx="1283.6" cy="513.2" r="3.85"/>
<circle cx="1288.9" cy="517.6" r="3.85"/>
<circle cx="1257.9" cy="518.8" r="3.85"/>
<circle cx="1247.4" cy="522.9" r="3.85"/>
<circle cx="1286.6" cy="525.8" r="3.85"/>
<circle cx="1301.9" cy="514.1" r="3.85"/>
<circle cx="1303.3" cy="493.0" r="3.85"/>
<circle cx="1305.1" cy="460.1" r="3.85"/>
<circle cx="1313.8" cy="495.6" r="3.85"/>
<circle cx="1307.7" cy="479.4" r="3.85"/>
<circle cx="1318.8" cy="478.0" r="3.85"/>
<circle cx="1325.3" cy="473.6" r="3.85"/>
<circle cx="1329.7" cy="479.8" r="3.85"/>
<circle cx="1339.3" cy="479.4" r="3.85"/>
<circle cx="1328.3" cy="486.8" r="3.85"/>
<circle cx="1332.8" cy="486.5" r="3.85"/>
<circle cx="1332.8" cy="494.7" r="3.85"/>
<circle cx="1321.2" cy="506.5" r="3.85"/>
<circle cx="1308.6" cy="535.2" r="3.85"/>
<circle cx="1335.8" cy="522.9" r="3.85"/>
<circle cx="1342.0" cy="515.8" r="3.85"/>
<circle cx="1345.1" cy="527.3" r="3.85"/>
<circle cx="1353.9" cy="485.1" r="3.85"/>
<circle cx="1353.4" cy="501.2" r="3.85"/>
<circle cx="1362.2" cy="498.2" r="3.85"/>
<circle cx="1377.1" cy="493.8" r="3.85"/>
<circle cx="1386.8" cy="471.3" r="3.85"/>
<circle cx="1387.7" cy="485.9" r="3.85"/>
<circle cx="1394.4" cy="493.8" r="3.85"/>
<circle cx="1378.9" cy="519.3" r="3.85"/>
<circle cx="1389.5" cy="514.9" r="3.85"/>
<circle cx="1394.7" cy="512.8" r="3.85"/>
<circle cx="1442.4" cy="456.6" r="3.85"/>
<circle cx="1446.5" cy="464.8" r="3.85"/>
<circle cx="1387.0" cy="471.3" r="3.85"/>
<circle cx="1405.0" cy="471.0" r="3.85"/>
<circle cx="1388.4" cy="485.9" r="3.85"/>
<circle cx="1394.4" cy="493.8" r="3.85"/>
<circle cx="1422.5" cy="484.2" r="3.85"/>
<circle cx="1436.6" cy="490.7" r="3.85"/>
<circle cx="1452.1" cy="490.0" r="3.85"/>
<circle cx="1456.0" cy="487.7" r="3.85"/>
<circle cx="1458.2" cy="493.5" r="3.85"/>
<circle cx="1460.0" cy="500.5" r="3.85"/>
<circle cx="1465.3" cy="485.9" r="3.85"/>
<circle cx="1473.2" cy="483.3" r="3.85"/>
<circle cx="1469.7" cy="479.8" r="3.85"/>
<circle cx="1485.5" cy="500.0" r="3.85"/>
<circle cx="1495.7" cy="501.2" r="3.85"/>
<circle cx="1511.0" cy="505.3" r="3.85"/>
<circle cx="1525.1" cy="485.9" r="3.85"/>
<circle cx="1532.1" cy="478.0" r="3.85"/>
<circle cx="1530.9" cy="501.2" r="3.85"/>
<circle cx="1537.4" cy="491.2" r="3.85"/>
<circle cx="1547.4" cy="484.2" r="3.85"/>
<circle cx="1550.9" cy="494.7" r="3.85"/>
<circle cx="1549.1" cy="504.0" r="3.85"/>
<circle cx="1550.5" cy="510.5" r="3.85"/>
<circle cx="1553.2" cy="513.2" r="3.85"/>
<circle cx="1569.5" cy="476.6" r="3.85"/>
<circle cx="1590.1" cy="471.0" r="3.85"/>
<circle cx="1612.1" cy="470.6" r="3.85"/>
<circle cx="1672.7" cy="464.8" r="3.85"/>
<circle cx="1598.9" cy="486.5" r="3.85"/>
<circle cx="1596.3" cy="500.0" r="3.85"/>
<circle cx="1606.8" cy="507.0" r="3.85"/>
<circle cx="1626.2" cy="502.6" r="3.85"/>
<circle cx="1631.4" cy="500.9" r="3.85"/>
<circle cx="1640.2" cy="513.2" r="3.85"/>
<circle cx="1657.8" cy="507.0" r="3.85"/>
<circle cx="1661.0" cy="515.8" r="3.85"/>
<circle cx="1665.7" cy="515.8" r="3.85"/>
<circle cx="1613.0" cy="515.8" r="3.85"/>
<circle cx="1594.2" cy="519.3" r="3.85"/>
<circle cx="1597.1" cy="522.9" r="3.85"/>
<circle cx="1608.6" cy="525.1" r="3.85"/>
<circle cx="1694.7" cy="490.0" r="3.85"/>
<circle cx="1394.1" cy="513.2" r="3.85"/>
<circle cx="1389.7" cy="515.8" r="3.85"/>
<circle cx="1418.7" cy="516.4" r="3.85"/>
<circle cx="1472.3" cy="513.2" r="3.85"/>
<circle cx="1494.3" cy="514.6" r="3.85"/>
<circle cx="1739.6" cy="442.6" r="3.85"/>
<circle cx="1739.6" cy="462.0" r="3.85"/>
<circle cx="1739.6" cy="467.0" r="3.85"/>
<circle cx="1739.6" cy="472.0" r="3.85"/>
<circle cx="1739.6" cy="477.0" r="3.85"/>
<circle cx="1739.6" cy="482.0" r="3.85"/>
<circle cx="1739.6" cy="487.0" r="3.85"/>
<circle cx="1739.6" cy="492.0" r="3.85"/>
<circle cx="1739.6" cy="497.0" r="3.85"/>
<circle cx="1739.6" cy="502.0" r="3.85"/>
<circle cx="1739.6" cy="507.0" r="3.85"/>
<circle cx="1739.6" cy="517.6" r="3.85"/>
<circle cx="1739.6" cy="527.8" r="3.85"/>
<circle cx="1673.9" cy="464.2" r="3.85"/>
<circle cx="1713.9" cy="461.1" r="3.85"/>
<circle cx="1695.9" cy="489.9" r="3.85"/>
<circle cx="1717.0" cy="488.8" r="3.85"/>
<circle cx="1706.7" cy="500.1" r="3.85"/>
<circle cx="1712.9" cy="503.2" r="3.85"/>
<circle cx="1659.5" cy="507.3" r="3.85"/>
<circle cx="1664.6" cy="515.5" r="3.85"/>
<circle cx="1660.5" cy="515.5" r="3.85"/>
<circle cx="1641.0" cy="512.4" r="3.85"/>
</g>
</g>
<g clip-path="url(#axclip)" fill="none" stroke="#000" stroke-width="3.0" stroke-opacity="0.52">
<path d="M245.12,712.36 L245.20,704.65 L245.29,698.12 L245.38,692.46 L245.47,687.47 L245.55,683.00 L245.64,678.96 L245.73,675.27 L245.82,671.87 L245.91,668.73 L245.99,665.80 L246.08,663.07 L246.17,660.50 L246.26,658.07 L246.35,655.78 L246.43,653.60 L246.52,651.54 L246.61,649.56 L246.70,647.68 L246.78,645.88 L246.87,644.15 L246.96,642.48 L247.05,640.89 L247.14,639.34 L247.22,637.86 L247.31,636.42 L247.40,635.03 L247.49,633.69 L247.58,632.39 L247.66,631.12 L247.75,629.90 L247.84,628.70 L247.93,627.54 L248.01,626.42 L248.10,625.32 L248.19,624.25 L248.28,623.20 L248.37,622.18 L248.45,621.19 L248.54,620.22 L248.63,619.27 L248.72,618.34 L248.81,617.43 L248.89,616.54 L248.98,615.67 L249.07,614.81 L249.16,613.98 L249.24,613.16 L249.33,612.35 L249.42,611.57 L249.51,610.79 L249.60,610.03 L249.68,609.28 L249.77,608.55 L249.86,607.83 L249.86,607.83 L250.61,602.11 L251.37,597.08 L252.12,592.60 L252.87,588.55 L253.62,584.86 L254.38,581.48 L255.13,578.35 L255.88,575.45 L256.64,572.74 L257.39,570.19 L258.14,567.80 L258.90,565.54 L259.65,563.40 L260.40,561.36 L261.15,559.43 L261.91,557.58 L262.66,555.82 L263.41,554.13 L264.17,552.51 L264.92,550.95 L265.67,549.45 L266.43,548.00 L267.18,546.61 L267.93,545.26 L268.68,543.96 L269.44,542.70 L270.19,541.49 L270.94,540.30 L271.70,539.15 L272.45,538.04 L273.20,536.96 L273.95,535.90 L274.71,534.88 L275.46,533.88 L276.21,532.91 L276.97,531.96 L277.72,531.03 L278.47,530.13 L279.23,529.24 L279.98,528.38 L280.73,527.54 L281.48,526.71 L282.24,525.91 L282.99,525.12 L283.74,524.34 L284.50,523.59 L285.25,522.85 L286.00,522.12 L286.76,521.40 L287.51,520.70 L288.26,520.02 L289.01,519.34 L289.77,518.68 L290.52,518.03 L291.27,517.39 L292.03,516.77 L292.78,516.15 L293.53,515.54 L294.29,514.95 L295.04,514.36 L295.79,513.78 L296.54,513.22 L297.30,512.66 L298.05,512.11 L298.80,511.57 L299.56,511.03 L300.31,510.51 L301.06,509.99 L301.82,509.48 L302.57,508.98 L303.32,508.48 L304.07,507.99 L304.83,507.51 L305.58,507.04 L306.33,506.57 L307.09,506.11 L307.84,505.65 L308.59,505.20 L309.35,504.76 L310.10,504.32 L310.85,503.89 L311.60,503.46 L312.36,503.04 L313.11,502.62 L313.86,502.21 L314.62,501.80 L315.37,501.40 L316.12,501.00 L316.87,500.61 L317.63,500.23 L318.38,499.84 L319.13,499.46 L319.89,499.09 L320.64,498.72 L321.39,498.35 L322.15,497.99 L322.90,497.64 L323.65,497.28 L324.40,496.93 L325.16,496.59 L325.91,496.24 L326.66,495.90 L327.42,495.57 L328.17,495.24 L328.92,494.91 L329.68,494.58 L330.43,494.26 L331.18,493.94 L331.93,493.63 L332.69,493.32 L333.44,493.01 L334.19,492.70 L334.95,492.40 L335.70,492.10 L336.45,491.80 L337.21,491.51 L337.96,491.22 L338.71,490.93 L339.46,490.64 L339.46,490.64 L351.67,486.35 L363.87,482.62 L376.07,479.32 L388.27,476.39 L400.47,473.75 L412.67,471.38 L424.87,469.22 L437.07,467.25 L449.27,465.45 L461.48,463.79 L473.68,462.26 L485.88,460.85 L498.08,459.53 L510.28,458.31 L522.48,457.18 L534.68,456.12 L546.88,455.13 L559.09,454.20 L571.29,453.33 L583.49,452.51 L595.69,451.74 L607.89,451.02 L620.09,450.34 L632.29,449.70 L644.49,449.09 L656.69,448.52 L668.90,447.98 L681.10,447.47 L693.30,446.99 L705.50,446.53 L717.70,446.09 L729.90,445.68 L742.10,445.29 L754.30,444.92 L766.50,444.57 L778.71,444.24 L790.91,443.92 L803.11,443.62 L815.31,443.33 L827.51,443.06 L839.71,442.80 L851.91,442.55 L864.11,442.31 L876.31,442.09 L888.52,441.87 L900.72,441.67 L912.92,441.48 L925.12,441.29 L937.32,441.11 L949.52,440.95 L961.72,440.79 L973.92,440.63 L986.12,440.49 L998.33,440.35 L1010.53,440.21 L1022.73,440.09 L1034.93,439.97 L1047.13,439.85 L1059.33,439.74 L1071.53,439.63 L1083.73,439.53 L1095.94,439.44 L1108.14,439.34 L1120.34,439.26 L1132.54,439.17 L1144.74,439.09 L1156.94,439.01 L1169.14,438.94 L1181.34,438.87 L1193.54,438.80 L1205.75,438.74 L1217.95,438.68 L1230.15,438.62 L1242.35,438.56 L1254.55,438.51 L1266.75,438.46 L1278.95,438.41 L1291.15,438.36 L1303.35,438.32 L1315.56,438.27 L1327.76,438.23 L1339.96,438.19 L1352.16,438.15 L1364.36,438.12 L1376.56,438.08 L1388.76,438.05 L1400.96,438.02 L1413.16,437.99 L1425.37,437.96 L1437.57,437.93 L1449.77,437.91 L1461.97,437.88 L1474.17,437.86 L1486.37,437.83 L1498.57,437.81 L1510.77,437.79 L1522.97,437.77 L1535.18,437.75 L1547.38,437.73 L1559.58,437.71 L1571.78,437.70 L1583.98,437.68 L1596.18,437.66 L1608.38,437.65 L1620.58,437.64 L1632.79,437.62 L1644.99,437.61 L1657.19,437.60 L1669.39,437.58 L1681.59,437.57 L1693.79,437.56 L1705.99,437.55 L1718.19,437.54 L1730.39,437.53 L1742.60,437.52 L1754.80,437.51 L1767.00,437.50 L1779.20,437.50 L1791.40,437.49"/>
<path d="M245.82,711.10 L245.91,707.96 L245.99,705.03 L246.08,702.30 L246.17,699.72 L246.26,697.30 L246.35,695.01 L246.43,692.83 L246.52,690.76 L246.61,688.79 L246.70,686.91 L246.78,685.10 L246.87,683.38 L246.96,681.71 L247.05,680.11 L247.14,678.57 L247.22,677.09 L247.31,675.65 L247.40,674.26 L247.49,672.92 L247.58,671.62 L247.66,670.35 L247.75,669.12 L247.84,667.93 L247.93,666.77 L248.01,665.64 L248.10,664.55 L248.19,663.48 L248.28,662.43 L248.37,661.41 L248.45,660.42 L248.54,659.44 L248.63,658.50 L248.72,657.57 L248.81,656.66 L248.89,655.77 L248.98,654.90 L249.07,654.04 L249.16,653.21 L249.24,652.39 L249.33,651.58 L249.42,650.79 L249.51,650.02 L249.60,649.26 L249.68,648.51 L249.77,647.78 L249.86,647.06 L249.86,647.06 L250.61,641.34 L251.37,636.31 L252.12,631.83 L252.87,627.78 L253.62,624.09 L254.38,620.71 L255.13,617.58 L255.88,614.68 L256.64,611.96 L257.39,609.42 L258.14,607.03 L258.90,604.77 L259.65,602.63 L260.40,600.59 L261.15,598.66 L261.91,596.81 L262.66,595.05 L263.41,593.36 L264.17,591.73 L264.92,590.18 L265.67,588.68 L266.43,587.23 L267.18,585.84 L267.93,584.49 L268.68,583.19 L269.44,581.93 L270.19,580.71 L270.94,579.53 L271.70,578.38 L272.45,577.27 L273.20,576.19 L273.95,575.13 L274.71,574.11 L275.46,573.11 L276.21,572.13 L276.97,571.19 L277.72,570.26 L278.47,569.36 L279.23,568.47 L279.98,567.61 L280.73,566.77 L281.48,565.94 L282.24,565.14 L282.99,564.35 L283.74,563.57 L284.50,562.82 L285.25,562.07 L286.00,561.35 L286.76,560.63 L287.51,559.93 L288.26,559.25 L289.01,558.57 L289.77,557.91 L290.52,557.26 L291.27,556.62 L292.03,555.99 L292.78,555.38 L293.53,554.77 L294.29,554.18 L295.04,553.59 L295.79,553.01 L296.54,552.45 L297.30,551.89 L298.05,551.34 L298.80,550.80 L299.56,550.26 L300.31,549.74 L301.06,549.22 L301.82,548.71 L302.57,548.21 L303.32,547.71 L304.07,547.22 L304.83,546.74 L305.58,546.27 L306.33,545.80 L307.09,545.34 L307.84,544.88 L308.59,544.43 L309.35,543.99 L310.10,543.55 L310.85,543.11 L311.60,542.69 L312.36,542.27 L313.11,541.85 L313.86,541.44 L314.62,541.03 L315.37,540.63 L316.12,540.23 L316.87,539.84 L317.63,539.45 L318.38,539.07 L319.13,538.69 L319.89,538.32 L320.64,537.95 L321.39,537.58 L322.15,537.22 L322.90,536.86 L323.65,536.51 L324.40,536.16 L325.16,535.81 L325.91,535.47 L326.66,535.13 L327.42,534.80 L328.17,534.47 L328.92,534.14 L329.68,533.81 L330.43,533.49 L331.18,533.17 L331.93,532.86 L332.69,532.55 L333.44,532.24 L334.19,531.93 L334.95,531.63 L335.70,531.33 L336.45,531.03 L337.21,530.74 L337.96,530.45 L338.71,530.16 L339.46,529.87 L339.46,529.87 L351.67,525.58 L363.87,521.84 L376.07,518.55 L388.27,515.61 L400.47,512.98 L412.67,510.61 L424.87,508.45 L437.07,506.48 L449.27,504.68 L461.48,503.02 L473.68,501.49 L485.88,500.07 L498.08,498.76 L510.28,497.54 L522.48,496.41 L534.68,495.35 L546.88,494.36 L559.09,493.43 L571.29,492.56 L583.49,491.74 L595.69,490.97 L607.89,490.25 L620.09,489.57 L632.29,488.93 L644.49,488.32 L656.69,487.75 L668.90,487.21 L681.10,486.70 L693.30,486.22 L705.50,485.76 L717.70,485.32 L729.90,484.91 L742.10,484.52 L754.30,484.15 L766.50,483.80 L778.71,483.46 L790.91,483.15 L803.11,482.84 L815.31,482.56 L827.51,482.28 L839.71,482.02 L851.91,481.78 L864.11,481.54 L876.31,481.32 L888.52,481.10 L900.72,480.90 L912.92,480.71 L925.12,480.52 L937.32,480.34 L949.52,480.18 L961.72,480.01 L973.92,479.86 L986.12,479.72 L998.33,479.58 L1010.53,479.44 L1022.73,479.32 L1034.93,479.19 L1047.13,479.08 L1059.33,478.97 L1071.53,478.86 L1083.73,478.76 L1095.94,478.66 L1108.14,478.57 L1120.34,478.48 L1132.54,478.40 L1144.74,478.32 L1156.94,478.24 L1169.14,478.17 L1181.34,478.10 L1193.54,478.03 L1205.75,477.97 L1217.95,477.91 L1230.15,477.85 L1242.35,477.79 L1254.55,477.74 L1266.75,477.69 L1278.95,477.64 L1291.15,477.59 L1303.35,477.54 L1315.56,477.50 L1327.76,477.46 L1339.96,477.42 L1352.16,477.38 L1364.36,477.35 L1376.56,477.31 L1388.76,477.28 L1400.96,477.25 L1413.16,477.22 L1425.37,477.19 L1437.57,477.16 L1449.77,477.13 L1461.97,477.11 L1474.17,477.09 L1486.37,477.06 L1498.57,477.04 L1510.77,477.02 L1522.97,477.00 L1535.18,476.98 L1547.38,476.96 L1559.58,476.94 L1571.78,476.93 L1583.98,476.91 L1596.18,476.89 L1608.38,476.88 L1620.58,476.86 L1632.79,476.85 L1644.99,476.84 L1657.19,476.82 L1669.39,476.81 L1681.59,476.80 L1693.79,476.79 L1705.99,476.78 L1718.19,476.77 L1730.39,476.76 L1742.60,476.75 L1754.80,476.74 L1767.00,476.73 L1779.20,476.72 L1791.40,476.72"/>
<path d="M247.49,712.15 L247.58,710.84 L247.66,709.58 L247.75,708.35 L247.84,707.16 L247.93,706.00 L248.01,704.87 L248.10,703.77 L248.19,702.70 L248.28,701.66 L248.37,700.64 L248.45,699.65 L248.54,698.67 L248.63,697.72 L248.72,696.79 L248.81,695.89 L248.89,695.00 L248.98,694.13 L249.07,693.27 L249.16,692.44 L249.24,691.62 L249.33,690.81 L249.42,690.02 L249.51,689.25 L249.60,688.49 L249.68,687.74 L249.77,687.01 L249.86,686.29 L249.86,686.29 L250.61,680.57 L251.37,675.54 L252.12,671.05 L252.87,667.01 L253.62,663.32 L254.38,659.94 L255.13,656.81 L255.88,653.91 L256.64,651.19 L257.39,648.65 L258.14,646.26 L258.90,644.00 L259.65,641.85 L260.40,639.82 L261.15,637.89 L261.91,636.04 L262.66,634.27 L263.41,632.58 L264.17,630.96 L264.92,629.40 L265.67,627.91 L266.43,626.46 L267.18,625.07 L267.93,623.72 L268.68,622.42 L269.44,621.16 L270.19,619.94 L270.94,618.76 L271.70,617.61 L272.45,616.50 L273.20,615.41 L273.95,614.36 L274.71,613.34 L275.46,612.34 L276.21,611.36 L276.97,610.41 L277.72,609.49 L278.47,608.58 L279.23,607.70 L279.98,606.84 L280.73,606.00 L281.48,605.17 L282.24,604.36 L282.99,603.58 L283.74,602.80 L284.50,602.04 L285.25,601.30 L286.00,600.57 L286.76,599.86 L287.51,599.16 L288.26,598.47 L289.01,597.80 L289.77,597.14 L290.52,596.49 L291.27,595.85 L292.03,595.22 L292.78,594.61 L293.53,594.00 L294.29,593.40 L295.04,592.82 L295.79,592.24 L296.54,591.67 L297.30,591.12 L298.05,590.57 L298.80,590.02 L299.56,589.49 L300.31,588.97 L301.06,588.45 L301.82,587.94 L302.57,587.44 L303.32,586.94 L304.07,586.45 L304.83,585.97 L305.58,585.49 L306.33,585.03 L307.09,584.56 L307.84,584.11 L308.59,583.66 L309.35,583.21 L310.10,582.78 L310.85,582.34 L311.60,581.92 L312.36,581.49 L313.11,581.08 L313.86,580.67 L314.62,580.26 L315.37,579.86 L316.12,579.46 L316.87,579.07 L317.63,578.68 L318.38,578.30 L319.13,577.92 L319.89,577.55 L320.64,577.18 L321.39,576.81 L322.15,576.45 L322.90,576.09 L323.65,575.74 L324.40,575.39 L325.16,575.04 L325.91,574.70 L326.66,574.36 L327.42,574.03 L328.17,573.69 L328.92,573.37 L329.68,573.04 L330.43,572.72 L331.18,572.40 L331.93,572.09 L332.69,571.77 L333.44,571.47 L334.19,571.16 L334.95,570.86 L335.70,570.56 L336.45,570.26 L337.21,569.97 L337.96,569.67 L338.71,569.39 L339.46,569.10 L339.46,569.10 L351.67,564.81 L363.87,561.07 L376.07,557.78 L388.27,554.84 L400.47,552.21 L412.67,549.84 L424.87,547.68 L437.07,545.71 L449.27,543.91 L461.48,542.25 L473.68,540.72 L485.88,539.30 L498.08,537.99 L510.28,536.77 L522.48,535.64 L534.68,534.57 L546.88,533.58 L559.09,532.66 L571.29,531.79 L583.49,530.97 L595.69,530.20 L607.89,529.48 L620.09,528.80 L632.29,528.16 L644.49,527.55 L656.69,526.98 L668.90,526.44 L681.10,525.93 L693.30,525.44 L705.50,524.99 L717.70,524.55 L729.90,524.14 L742.10,523.75 L754.30,523.38 L766.50,523.03 L778.71,522.69 L790.91,522.38 L803.11,522.07 L815.31,521.79 L827.51,521.51 L839.71,521.25 L851.91,521.01 L864.11,520.77 L876.31,520.55 L888.52,520.33 L900.72,520.13 L912.92,519.93 L925.12,519.75 L937.32,519.57 L949.52,519.40 L961.72,519.24 L973.92,519.09 L986.12,518.94 L998.33,518.80 L1010.53,518.67 L1022.73,518.54 L1034.93,518.42 L1047.13,518.31 L1059.33,518.20 L1071.53,518.09 L1083.73,517.99 L1095.94,517.89 L1108.14,517.80 L1120.34,517.71 L1132.54,517.63 L1144.74,517.55 L1156.94,517.47 L1169.14,517.40 L1181.34,517.33 L1193.54,517.26 L1205.75,517.20 L1217.95,517.13 L1230.15,517.08 L1242.35,517.02 L1254.55,516.97 L1266.75,516.91 L1278.95,516.86 L1291.15,516.82 L1303.35,516.77 L1315.56,516.73 L1327.76,516.69 L1339.96,516.65 L1352.16,516.61 L1364.36,516.58 L1376.56,516.54 L1388.76,516.51 L1400.96,516.48 L1413.16,516.45 L1425.37,516.42 L1437.57,516.39 L1449.77,516.36 L1461.97,516.34 L1474.17,516.31 L1486.37,516.29 L1498.57,516.27 L1510.77,516.25 L1522.97,516.23 L1535.18,516.21 L1547.38,516.19 L1559.58,516.17 L1571.78,516.15 L1583.98,516.14 L1596.18,516.12 L1608.38,516.11 L1620.58,516.09 L1632.79,516.08 L1644.99,516.07 L1657.19,516.05 L1669.39,516.04 L1681.59,516.03 L1693.79,516.02 L1705.99,516.01 L1718.19,516.00 L1730.39,515.99 L1742.60,515.98 L1754.80,515.97 L1767.00,515.96 L1779.20,515.95 L1791.40,515.95"/>
<path d="M252.12,710.28 L252.87,706.24 L253.62,702.55 L254.38,699.17 L255.13,696.04 L255.88,693.13 L256.64,690.42 L257.39,687.88 L258.14,685.48 L258.90,683.22 L259.65,681.08 L260.40,679.05 L261.15,677.11 L261.91,675.27 L262.66,673.50 L263.41,671.81 L264.17,670.19 L264.92,668.63 L265.67,667.13 L266.43,665.69 L267.18,664.30 L267.93,662.95 L268.68,661.65 L269.44,660.39 L270.19,659.17 L270.94,657.99 L271.70,656.84 L272.45,655.73 L273.20,654.64 L273.95,653.59 L274.71,652.56 L275.46,651.56 L276.21,650.59 L276.97,649.64 L277.72,648.72 L278.47,647.81 L279.23,646.93 L279.98,646.07 L280.73,645.22 L281.48,644.40 L282.24,643.59 L282.99,642.80 L283.74,642.03 L284.50,641.27 L285.25,640.53 L286.00,639.80 L286.76,639.09 L287.51,638.39 L288.26,637.70 L289.01,637.03 L289.77,636.37 L290.52,635.72 L291.27,635.08 L292.03,634.45 L292.78,633.84 L293.53,633.23 L294.29,632.63 L295.04,632.05 L295.79,631.47 L296.54,630.90 L297.30,630.34 L298.05,629.79 L298.80,629.25 L299.56,628.72 L300.31,628.19 L301.06,627.68 L301.82,627.17 L302.57,626.66 L303.32,626.17 L304.07,625.68 L304.83,625.20 L305.58,624.72 L306.33,624.26 L307.09,623.79 L307.84,623.34 L308.59,622.89 L309.35,622.44 L310.10,622.00 L310.85,621.57 L311.60,621.14 L312.36,620.72 L313.11,620.31 L313.86,619.90 L314.62,619.49 L315.37,619.09 L316.12,618.69 L316.87,618.30 L317.63,617.91 L318.38,617.53 L319.13,617.15 L319.89,616.78 L320.64,616.41 L321.39,616.04 L322.15,615.68 L322.90,615.32 L323.65,614.97 L324.40,614.62 L325.16,614.27 L325.91,613.93 L326.66,613.59 L327.42,613.26 L328.17,612.92 L328.92,612.60 L329.68,612.27 L330.43,611.95 L331.18,611.63 L331.93,611.32 L332.69,611.00 L333.44,610.69 L334.19,610.39 L334.95,610.09 L335.70,609.79 L336.45,609.49 L337.21,609.19 L337.96,608.90 L338.71,608.61 L339.46,608.33 L339.46,608.33 L351.67,604.04 L363.87,600.30 L376.07,597.01 L388.27,594.07 L400.47,591.44 L412.67,589.06 L424.87,586.91 L437.07,584.94 L449.27,583.13 L461.48,581.48 L473.68,579.95 L485.88,578.53 L498.08,577.22 L510.28,576.00 L522.48,574.86 L534.68,573.80 L546.88,572.81 L559.09,571.88 L571.29,571.01 L583.49,570.20 L595.69,569.43 L607.89,568.71 L620.09,568.03 L632.29,567.39 L644.49,566.78 L656.69,566.21 L668.90,565.67 L681.10,565.16 L693.30,564.67 L705.50,564.21 L717.70,563.78 L729.90,563.37 L742.10,562.98 L754.30,562.61 L766.50,562.26 L778.71,561.92 L790.91,561.60 L803.11,561.30 L815.31,561.01 L827.51,560.74 L839.71,560.48 L851.91,560.23 L864.11,560.00 L876.31,559.77 L888.52,559.56 L900.72,559.36 L912.92,559.16 L925.12,558.98 L937.32,558.80 L949.52,558.63 L961.72,558.47 L973.92,558.32 L986.12,558.17 L998.33,558.03 L1010.53,557.90 L1022.73,557.77 L1034.93,557.65 L1047.13,557.54 L1059.33,557.42 L1071.53,557.32 L1083.73,557.22 L1095.94,557.12 L1108.14,557.03 L1120.34,556.94 L1132.54,556.86 L1144.74,556.78 L1156.94,556.70 L1169.14,556.63 L1181.34,556.56 L1193.54,556.49 L1205.75,556.42 L1217.95,556.36 L1230.15,556.30 L1242.35,556.25 L1254.55,556.19 L1266.75,556.14 L1278.95,556.09 L1291.15,556.05 L1303.35,556.00 L1315.56,555.96 L1327.76,555.92 L1339.96,555.88 L1352.16,555.84 L1364.36,555.80 L1376.56,555.77 L1388.76,555.74 L1400.96,555.71 L1413.16,555.68 L1425.37,555.65 L1437.57,555.62 L1449.77,555.59 L1461.97,555.57 L1474.17,555.54 L1486.37,555.52 L1498.57,555.50 L1510.77,555.48 L1522.97,555.46 L1535.18,555.44 L1547.38,555.42 L1559.58,555.40 L1571.78,555.38 L1583.98,555.37 L1596.18,555.35 L1608.38,555.34 L1620.58,555.32 L1632.79,555.31 L1644.99,555.29 L1657.19,555.28 L1669.39,555.27 L1681.59,555.26 L1693.79,555.25 L1705.99,555.24 L1718.19,555.23 L1730.39,555.22 L1742.60,555.21 L1754.80,555.20 L1767.00,555.19 L1779.20,555.18 L1791.40,555.17"/>
</g>
<line x1="369.80" y1="21.00" x2="369.80" y2="707.50" stroke="#000" stroke-opacity="0.5" stroke-width="3.45" stroke-dasharray="11.7 6.6"/>
<line x1="495.03" y1="21.00" x2="495.03" y2="707.50" stroke="#000" stroke-opacity="0.5" stroke-width="3.45" stroke-dasharray="3.45 5.65"/>
<path d="M183.90,707.50v-17.50M183.90,21.00v17.50M235.75,707.50v-9.00M235.75,21.00v9.00M287.61,707.50v-9.00M287.61,21.00v9.00M339.46,707.50v-9.00M339.46,21.00v9.00M391.32,707.50v-9.00M391.32,21.00v9.00M443.17,707.50v-17.50M443.17,21.00v17.50M495.03,707.50v-9.00M495.03,21.00v9.00M546.88,707.50v-9.00M546.88,21.00v9.00M598.74,707.50v-9.00M598.74,21.00v9.00M650.59,707.50v-9.00M650.59,21.00v9.00M702.45,707.50v-17.50M702.45,21.00v17.50M754.30,707.50v-9.00M754.30,21.00v9.00M806.16,707.50v-9.00M806.16,21.00v9.00M858.01,707.50v-9.00M858.01,21.00v9.00M909.87,707.50v-9.00M909.87,21.00v9.00M961.72,707.50v-17.50M961.72,21.00v17.50M1013.58,707.50v-9.00M1013.58,21.00v9.00M1065.43,707.50v-9.00M1065.43,21.00v9.00M1117.29,707.50v-9.00M1117.29,21.00v9.00M1169.14,707.50v-9.00M1169.14,21.00v9.00M1221.00,707.50v-17.50M1221.00,21.00v17.50M1272.85,707.50v-9.00M1272.85,21.00v9.00M1324.71,707.50v-9.00M1324.71,21.00v9.00M1376.56,707.50v-9.00M1376.56,21.00v9.00M1428.42,707.50v-9.00M1428.42,21.00v9.00M1480.27,707.50v-17.50M1480.27,21.00v17.50M1532.13,707.50v-9.00M1532.13,21.00v9.00M1583.98,707.50v-9.00M1583.98,21.00v9.00M1635.84,707.50v-9.00M1635.84,21.00v9.00M1687.69,707.50v-9.00M1687.69,21.00v9.00M1739.55,707.50v-17.50M1739.55,21.00v17.50M183.90,707.50h17.50M1791.40,707.50h-17.50M183.90,677.98h9.00M1791.40,677.98h-9.00M183.90,660.71h9.00M1791.40,660.71h-9.00M183.90,648.46h9.00M1791.40,648.46h-9.00M183.90,638.95h9.00M1791.40,638.95h-9.00M183.90,631.19h9.00M1791.40,631.19h-9.00M183.90,624.62h9.00M1791.40,624.62h-9.00M183.90,618.93h9.00M1791.40,618.93h-9.00M183.90,613.92h9.00M1791.40,613.92h-9.00M183.90,609.43h17.50M1791.40,609.43h-17.50M183.90,579.91h9.00M1791.40,579.91h-9.00M183.90,562.64h9.00M1791.40,562.64h-9.00M183.90,550.38h9.00M1791.40,550.38h-9.00M183.90,540.88h9.00M1791.40,540.88h-9.00M183.90,533.11h9.00M1791.40,533.11h-9.00M183.90,526.55h9.00M1791.40,526.55h-9.00M183.90,520.86h9.00M1791.40,520.86h-9.00M183.90,515.84h9.00M1791.40,515.84h-9.00M183.90,511.36h17.50M1791.40,511.36h-17.50M183.90,481.83h9.00M1791.40,481.83h-9.00M183.90,464.57h9.00M1791.40,464.57h-9.00M183.90,452.31h9.00M1791.40,452.31h-9.00M183.90,442.81h9.00M1791.40,442.81h-9.00M183.90,435.04h9.00M1791.40,435.04h-9.00M183.90,428.48h9.00M1791.40,428.48h-9.00M183.90,422.79h9.00M1791.40,422.79h-9.00M183.90,417.77h9.00M1791.40,417.77h-9.00M183.90,413.29h17.50M1791.40,413.29h-17.50M183.90,383.76h9.00M1791.40,383.76h-9.00M183.90,366.49h9.00M1791.40,366.49h-9.00M183.90,354.24h9.00M1791.40,354.24h-9.00M183.90,344.74h9.00M1791.40,344.74h-9.00M183.90,336.97h9.00M1791.40,336.97h-9.00M183.90,330.41h9.00M1791.40,330.41h-9.00M183.90,324.72h9.00M1791.40,324.72h-9.00M183.90,319.70h9.00M1791.40,319.70h-9.00M183.90,315.21h17.50M1791.40,315.21h-17.50M183.90,285.69h9.00M1791.40,285.69h-9.00M183.90,268.42h9.00M1791.40,268.42h-9.00M183.90,256.17h9.00M1791.40,256.17h-9.00M183.90,246.67h9.00M1791.40,246.67h-9.00M183.90,238.90h9.00M1791.40,238.90h-9.00M183.90,232.33h9.00M1791.40,232.33h-9.00M183.90,226.65h9.00M1791.40,226.65h-9.00M183.90,221.63h9.00M1791.40,221.63h-9.00M183.90,217.14h17.50M1791.40,217.14h-17.50M183.90,187.62h9.00M1791.40,187.62h-9.00M183.90,170.35h9.00M1791.40,170.35h-9.00M183.90,158.10h9.00M1791.40,158.10h-9.00M183.90,148.59h9.00M1791.40,148.59h-9.00M183.90,140.83h9.00M1791.40,140.83h-9.00M183.90,134.26h9.00M1791.40,134.26h-9.00M183.90,128.58h9.00M1791.40,128.58h-9.00M183.90,123.56h9.00M1791.40,123.56h-9.00M183.90,119.07h17.50M1791.40,119.07h-17.50M183.90,89.55h9.00M1791.40,89.55h-9.00M183.90,72.28h9.00M1791.40,72.28h-9.00M183.90,60.03h9.00M1791.40,60.03h-9.00M183.90,50.52h9.00M1791.40,50.52h-9.00M183.90,42.76h9.00M1791.40,42.76h-9.00M183.90,36.19h9.00M1791.40,36.19h-9.00M183.90,30.50h9.00M1791.40,30.50h-9.00M183.90,25.49h9.00M1791.40,25.49h-9.00M183.90,21.00h17.50M1791.40,21.00h-17.50" stroke="#000" stroke-width="2" fill="none"/>
<rect x="183.90" y="21.00" width="1607.50" height="686.50" fill="none" stroke="#000" stroke-width="2.1"/>
<text x="183.90" y="743.5" font-size="38" text-anchor="middle">0</text>
<text x="443.17" y="743.5" font-size="38" text-anchor="middle">1</text>
<text x="702.45" y="743.5" font-size="38" text-anchor="middle">2</text>
<text x="961.72" y="743.5" font-size="38" text-anchor="middle">3</text>
<text x="1221.00" y="743.5" font-size="38" text-anchor="middle">4</text>
<text x="1480.27" y="743.5" font-size="38" text-anchor="middle">5</text>
<text x="1739.55" y="743.5" font-size="38" text-anchor="middle">6</text>
<text x="177.0" y="721.80" text-anchor="end" font-size="37.5">10<tspan dy="-14.3" font-size="26">−19</tspan></text>
<text x="177.0" y="623.73" text-anchor="end" font-size="37.5">10<tspan dy="-14.3" font-size="26">−18</tspan></text>
<text x="177.0" y="525.66" text-anchor="end" font-size="37.5">10<tspan dy="-14.3" font-size="26">−17</tspan></text>
<text x="177.0" y="427.59" text-anchor="end" font-size="37.5">10<tspan dy="-14.3" font-size="26">−16</tspan></text>
<text x="177.0" y="329.51" text-anchor="end" font-size="37.5">10<tspan dy="-14.3" font-size="26">−15</tspan></text>
<text x="177.0" y="231.44" text-anchor="end" font-size="37.5">10<tspan dy="-14.3" font-size="26">−14</tspan></text>
<text x="177.0" y="133.37" text-anchor="end" font-size="37.5">10<tspan dy="-14.3" font-size="26">−13</tspan></text>
<text x="177.0" y="35.30" text-anchor="end" font-size="37.5">10<tspan dy="-14.3" font-size="26">−12</tspan></text>
<text transform="translate(49.40,672.80) rotate(-90)" x="0.00" y="0.00" font-size="51.30">Line Flux [erg</text>
<text transform="translate(49.40,672.80) rotate(-90)" x="360.50" y="0.00" font-size="51.30">·</text>
<text transform="translate(49.40,672.80) rotate(-90)" x="386.10" y="0.00" font-size="51.30">cm</text>
<text transform="translate(49.40,672.80) rotate(-90)" x="464.50" y="-19.30" font-size="35.91">−2</text>
<text transform="translate(49.40,672.80) rotate(-90)" x="519.10" y="0.00" font-size="51.30">s</text>
<text transform="translate(49.40,672.80) rotate(-90)" x="545.80" y="-19.30" font-size="35.91">−1</text>
<text transform="translate(49.40,672.80) rotate(-90)" x="601.20" y="0.00" font-size="51.30">]</text>
<text x="681.7" y="802.8" font-size="51.3">(<tspan font-style="italic">F</tspan>606<tspan font-style="italic">W</tspan></text>
<text x="888.9" y="802.8" font-size="51.3">−</text>
<text x="942.7" y="802.8" font-size="51.3"><tspan font-style="italic">F</tspan>658<tspan font-style="italic">N</tspan>) [mag]</text>
<text transform="translate(1383.50,431.90) scale(1.05,1)" font-size="40" fill="#333">F658N = 24 mag</text>
<text transform="translate(1583.20,470.80) scale(1.05,1)" font-size="40" fill="#333">25 mag</text>
<text transform="translate(1583.20,510.30) scale(1.05,1)" font-size="40" fill="#333">26 mag</text>
<text transform="translate(1583.20,549.70) scale(1.05,1)" font-size="40" fill="#333">27 mag</text>
<circle cx="830.3" cy="119.6" r="4.2" fill="none" stroke="#808080" stroke-opacity="0.65" stroke-width="1.8"/>
<path d="M813.9,191.0 L830.6,158.2 L847.3,191.0 Z" fill="none" stroke="#000" stroke-opacity="0.6" stroke-width="2.2"/>
<rect x="814.1" y="213.1" width="33.4" height="33.2" fill="none" stroke="#000" stroke-opacity="0.6" stroke-width="2.2"/>
<line x1="793.2" y1="274" x2="867.4" y2="274" stroke="#000" stroke-opacity="0.5" stroke-width="3.45" stroke-dasharray="11.7 6.6"/>
<line x1="793.2" y1="328" x2="867.4" y2="328" stroke="#000" stroke-opacity="0.5" stroke-width="3.45" stroke-dasharray="3.45 5.65"/>
<text y="130.2" font-size="37.3"><tspan x="897.7">Continuum sources</tspan></text>
<text y="185.1" font-size="37.3"><tspan x="898.8">LAE candidates at</tspan><tspan x="1245.3" font-style="italic">z</tspan><tspan x="1271.8">∼</tspan><tspan x="1309.2">4.4</tspan></text>
<text y="239.1" font-size="37.3"><tspan x="898.8">ELG candidates at</tspan><tspan x="1248.8" font-style="italic">z</tspan><tspan x="1275.1">&lt;</tspan><tspan x="1312.7">4</tspan></text>
<text y="288.5" font-size="37.3"><tspan x="898.7">Color cut for ELG at</tspan><tspan x="1274.7" font-style="italic">z</tspan><tspan x="1301.2">&lt;</tspan><tspan x="1339.5">4</tspan><tspan x="1375.7">selection</tspan></text>
<text y="342.7" font-size="37.3"><tspan x="898.7">Color cut for LAE at</tspan><tspan x="1271.8" font-style="italic">z</tspan><tspan x="1297.7">∼</tspan><tspan x="1336.3">4.4</tspan><tspan x="1407.2">selection</tspan></text>
<defs><linearGradient id="cbg" x1="0" x2="1" y1="0" y2="0"><stop offset="0.0000" stop-color="#9e0142"/><stop offset="0.0156" stop-color="#a70b44"/><stop offset="0.0312" stop-color="#af1446"/><stop offset="0.0469" stop-color="#b81e48"/><stop offset="0.0625" stop-color="#c1274a"/><stop offset="0.0781" stop-color="#c9314c"/><stop offset="0.0938" stop-color="#d23a4e"/><stop offset="0.1094" stop-color="#d8434e"/><stop offset="0.1250" stop-color="#dd4a4c"/><stop offset="0.1406" stop-color="#e2514a"/><stop offset="0.1562" stop-color="#e75948"/><stop offset="0.1719" stop-color="#eb6046"/><stop offset="0.1875" stop-color="#f06744"/><stop offset="0.2031" stop-color="#f47044"/><stop offset="0.2188" stop-color="#f67a49"/><stop offset="0.2344" stop-color="#f7844e"/><stop offset="0.2500" stop-color="#f98e52"/><stop offset="0.2656" stop-color="#fa9857"/><stop offset="0.2812" stop-color="#fba35c"/><stop offset="0.2969" stop-color="#fdad60"/><stop offset="0.3125" stop-color="#fdb567"/><stop offset="0.3281" stop-color="#fdbd6d"/><stop offset="0.3438" stop-color="#fdc574"/><stop offset="0.3594" stop-color="#fecc7b"/><stop offset="0.3750" stop-color="#fed481"/><stop offset="0.3906" stop-color="#fedc88"/><stop offset="0.4062" stop-color="#fee28f"/><stop offset="0.4219" stop-color="#fee797"/><stop offset="0.4375" stop-color="#feec9f"/><stop offset="0.4531" stop-color="#fff1a8"/><stop offset="0.4688" stop-color="#fff6b0"/><stop offset="0.4844" stop-color="#fffbb8"/><stop offset="0.5000" stop-color="#ffffbe"/><stop offset="0.5156" stop-color="#fbfdb8"/><stop offset="0.5312" stop-color="#f7fcb2"/><stop offset="0.5469" stop-color="#f3faac"/><stop offset="0.5625" stop-color="#eff9a6"/><stop offset="0.5781" stop-color="#ebf7a0"/><stop offset="0.5938" stop-color="#e7f59a"/><stop offset="0.6094" stop-color="#dff299"/><stop offset="0.6250" stop-color="#d6ee9b"/><stop offset="0.6406" stop-color="#cdeb9d"/><stop offset="0.6562" stop-color="#c3e79f"/><stop offset="0.6719" stop-color="#bae3a1"/><stop offset="0.6875" stop-color="#b1dfa3"/><stop offset="0.7031" stop-color="#a7dba4"/><stop offset="0.7188" stop-color="#9cd7a4"/><stop offset="0.7344" stop-color="#91d3a4"/><stop offset="0.7500" stop-color="#86cfa5"/><stop offset="0.7656" stop-color="#7ccaa5"/><stop offset="0.7812" stop-color="#71c6a5"/><stop offset="0.7969" stop-color="#66c2a5"/><stop offset="0.8125" stop-color="#5eb9a9"/><stop offset="0.8281" stop-color="#56b0ad"/><stop offset="0.8438" stop-color="#4ea7b0"/><stop offset="0.8594" stop-color="#459eb4"/><stop offset="0.8750" stop-color="#3d95b8"/><stop offset="0.8906" stop-color="#358bbc"/><stop offset="0.9062" stop-color="#3682ba"/><stop offset="0.9219" stop-color="#3d79b6"/><stop offset="0.9375" stop-color="#4471b2"/><stop offset="0.9531" stop-color="#4b68ae"/><stop offset="0.9688" stop-color="#525fa9"/><stop offset="0.9844" stop-color="#5956a5"/><stop offset="1.0000" stop-color="#5e4fa2"/></linearGradient></defs>
<rect x="184.00" y="841.30" width="1607.30" height="34.50" fill="url(#cbg)"/>
<path d="M184.00,875.80v-17.50M219.72,875.80v-9.00M255.44,875.80v-9.00M291.15,875.80v-9.00M326.87,875.80v-9.00M362.59,875.80v-17.50M398.31,875.80v-9.00M434.02,875.80v-9.00M469.74,875.80v-9.00M505.46,875.80v-9.00M541.18,875.80v-17.50M576.90,875.80v-9.00M612.61,875.80v-9.00M648.33,875.80v-9.00M684.05,875.80v-9.00M719.77,875.80v-17.50M755.48,875.80v-9.00M791.20,875.80v-9.00M826.92,875.80v-9.00M862.64,875.80v-9.00M898.36,875.80v-17.50M934.07,875.80v-9.00M969.79,875.80v-9.00M1005.51,875.80v-9.00M1041.23,875.80v-9.00M1076.94,875.80v-17.50M1112.66,875.80v-9.00M1148.38,875.80v-9.00M1184.10,875.80v-9.00M1219.82,875.80v-9.00M1255.53,875.80v-17.50M1291.25,875.80v-9.00M1326.97,875.80v-9.00M1362.69,875.80v-9.00M1398.40,875.80v-9.00M1434.12,875.80v-17.50M1469.84,875.80v-9.00M1505.56,875.80v-9.00M1541.28,875.80v-9.00M1576.99,875.80v-9.00M1612.71,875.80v-17.50M1648.43,875.80v-9.00M1684.15,875.80v-9.00M1719.86,875.80v-9.00M1755.58,875.80v-9.00M1791.30,875.80v-17.50" stroke="#000" stroke-width="2" fill="none"/>
<rect x="184.00" y="841.30" width="1607.30" height="34.50" fill="none" stroke="#000" stroke-width="2"/>
<text x="184.00" y="912" font-size="38" text-anchor="middle">0.0</text>
<text x="362.59" y="912" font-size="38" text-anchor="middle">0.5</text>
<text x="541.18" y="912" font-size="38" text-anchor="middle">1.0</text>
<text x="719.77" y="912" font-size="38" text-anchor="middle">1.5</text>
<text x="898.36" y="912" font-size="38" text-anchor="middle">2.0</text>
<text x="1076.94" y="912" font-size="38" text-anchor="middle">2.5</text>
<text x="1255.53" y="912" font-size="38" text-anchor="middle">3.0</text>
<text x="1434.12" y="912" font-size="38" text-anchor="middle">3.5</text>
<text x="1612.71" y="912" font-size="38" text-anchor="middle">4.0</text>
<text x="1791.30" y="912" font-size="38" text-anchor="middle">4.5</text>
<text x="973.3" y="971.5" font-size="56" font-style="italic">z</text>
</svg></body></html>
